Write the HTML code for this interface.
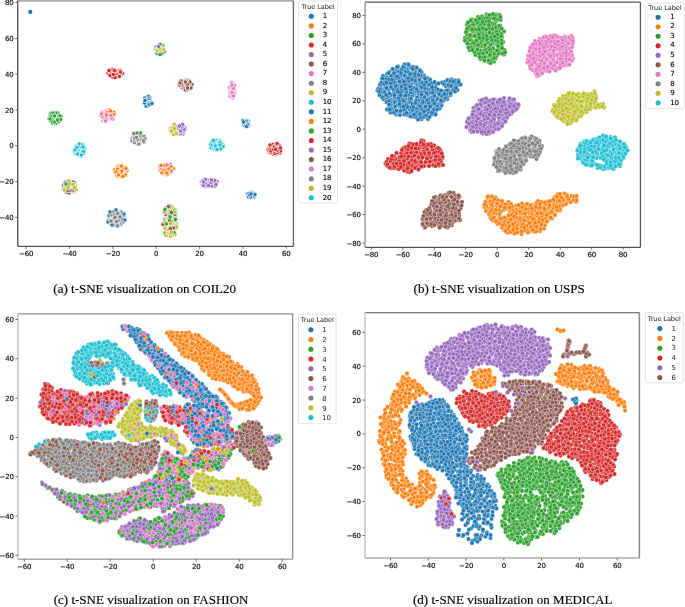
<!DOCTYPE html>
<html><head><meta charset="utf-8"><title>t-SNE</title><style>
html,body{margin:0;padding:0;background:#fff;}
svg{display:block;}
.ax{fill:none;stroke:#444;stroke-width:1.1;}
.tk{stroke:#444;stroke-width:.8;}
.xl,.yl,.le,.lt{font-family:"DejaVu Sans","Liberation Sans",sans-serif;font-size:7px;fill:#000;stroke:#000;stroke-width:.12px;letter-spacing:-.2px;}
.xl{text-anchor:middle;}
.yl{text-anchor:end;}
.lt{text-anchor:middle;font-size:6.6px;stroke:none;fill:#222;letter-spacing:-.1px;}
.lg{fill:#fff;stroke:#ddd;stroke-width:.8;}
.lite{stroke:none;fill:#222;}
.cap{font-family:"Liberation Serif","Times New Roman",serif;font-size:13px;fill:#000;stroke:#000;stroke-width:.15px;text-anchor:middle;}
</style></head>
<body><svg width="685" height="607" viewBox="0 0 685 607">
<defs><marker id="a1" markerUnits="userSpaceOnUse" markerWidth="12" markerHeight="12" refX="0" refY="0" viewBox="-6.0 -6.0 12 12" overflow="visible"><circle r="4.30" fill="#1f77b4" stroke="#fff" stroke-width="1.40"/></marker><marker id="a2" markerUnits="userSpaceOnUse" markerWidth="12" markerHeight="12" refX="0" refY="0" viewBox="-6.0 -6.0 12 12" overflow="visible"><circle r="4.30" fill="#ff7f0e" stroke="#fff" stroke-width="1.40"/></marker><marker id="a3" markerUnits="userSpaceOnUse" markerWidth="12" markerHeight="12" refX="0" refY="0" viewBox="-6.0 -6.0 12 12" overflow="visible"><circle r="4.30" fill="#2ca02c" stroke="#fff" stroke-width="1.40"/></marker><marker id="a4" markerUnits="userSpaceOnUse" markerWidth="12" markerHeight="12" refX="0" refY="0" viewBox="-6.0 -6.0 12 12" overflow="visible"><circle r="4.30" fill="#d62728" stroke="#fff" stroke-width="1.40"/></marker><marker id="a5" markerUnits="userSpaceOnUse" markerWidth="12" markerHeight="12" refX="0" refY="0" viewBox="-6.0 -6.0 12 12" overflow="visible"><circle r="4.30" fill="#9467bd" stroke="#fff" stroke-width="1.40"/></marker><marker id="a6" markerUnits="userSpaceOnUse" markerWidth="12" markerHeight="12" refX="0" refY="0" viewBox="-6.0 -6.0 12 12" overflow="visible"><circle r="4.30" fill="#8c564b" stroke="#fff" stroke-width="1.40"/></marker><marker id="a7" markerUnits="userSpaceOnUse" markerWidth="12" markerHeight="12" refX="0" refY="0" viewBox="-6.0 -6.0 12 12" overflow="visible"><circle r="4.30" fill="#e377c2" stroke="#fff" stroke-width="1.40"/></marker><marker id="a8" markerUnits="userSpaceOnUse" markerWidth="12" markerHeight="12" refX="0" refY="0" viewBox="-6.0 -6.0 12 12" overflow="visible"><circle r="4.30" fill="#7f7f7f" stroke="#fff" stroke-width="1.40"/></marker><marker id="a9" markerUnits="userSpaceOnUse" markerWidth="12" markerHeight="12" refX="0" refY="0" viewBox="-6.0 -6.0 12 12" overflow="visible"><circle r="4.30" fill="#bcbd22" stroke="#fff" stroke-width="1.40"/></marker><marker id="a10" markerUnits="userSpaceOnUse" markerWidth="12" markerHeight="12" refX="0" refY="0" viewBox="-6.0 -6.0 12 12" overflow="visible"><circle r="4.30" fill="#17becf" stroke="#fff" stroke-width="1.40"/></marker><marker id="b1" markerUnits="userSpaceOnUse" markerWidth="12" markerHeight="12" refX="0" refY="0" viewBox="-6.0 -6.0 12 12" overflow="visible"><circle r="4.40" fill="#1f77b4" stroke="#fff" stroke-width="0.76"/></marker><marker id="b2" markerUnits="userSpaceOnUse" markerWidth="12" markerHeight="12" refX="0" refY="0" viewBox="-6.0 -6.0 12 12" overflow="visible"><circle r="4.40" fill="#ff7f0e" stroke="#fff" stroke-width="0.76"/></marker><marker id="b3" markerUnits="userSpaceOnUse" markerWidth="12" markerHeight="12" refX="0" refY="0" viewBox="-6.0 -6.0 12 12" overflow="visible"><circle r="4.40" fill="#2ca02c" stroke="#fff" stroke-width="0.76"/></marker><marker id="b4" markerUnits="userSpaceOnUse" markerWidth="12" markerHeight="12" refX="0" refY="0" viewBox="-6.0 -6.0 12 12" overflow="visible"><circle r="4.40" fill="#d62728" stroke="#fff" stroke-width="0.76"/></marker><marker id="b5" markerUnits="userSpaceOnUse" markerWidth="12" markerHeight="12" refX="0" refY="0" viewBox="-6.0 -6.0 12 12" overflow="visible"><circle r="4.40" fill="#9467bd" stroke="#fff" stroke-width="0.76"/></marker><marker id="b6" markerUnits="userSpaceOnUse" markerWidth="12" markerHeight="12" refX="0" refY="0" viewBox="-6.0 -6.0 12 12" overflow="visible"><circle r="4.40" fill="#8c564b" stroke="#fff" stroke-width="0.76"/></marker><marker id="b7" markerUnits="userSpaceOnUse" markerWidth="12" markerHeight="12" refX="0" refY="0" viewBox="-6.0 -6.0 12 12" overflow="visible"><circle r="4.40" fill="#e377c2" stroke="#fff" stroke-width="0.76"/></marker><marker id="b8" markerUnits="userSpaceOnUse" markerWidth="12" markerHeight="12" refX="0" refY="0" viewBox="-6.0 -6.0 12 12" overflow="visible"><circle r="4.40" fill="#7f7f7f" stroke="#fff" stroke-width="0.76"/></marker><marker id="b9" markerUnits="userSpaceOnUse" markerWidth="12" markerHeight="12" refX="0" refY="0" viewBox="-6.0 -6.0 12 12" overflow="visible"><circle r="4.40" fill="#bcbd22" stroke="#fff" stroke-width="0.76"/></marker><marker id="b10" markerUnits="userSpaceOnUse" markerWidth="12" markerHeight="12" refX="0" refY="0" viewBox="-6.0 -6.0 12 12" overflow="visible"><circle r="4.40" fill="#17becf" stroke="#fff" stroke-width="0.76"/></marker><marker id="c1" markerUnits="userSpaceOnUse" markerWidth="12" markerHeight="12" refX="0" refY="0" viewBox="-6.0 -6.0 12 12" overflow="visible"><circle r="4.40" fill="#1f77b4" stroke="#fff" stroke-width="0.76"/></marker><marker id="c2" markerUnits="userSpaceOnUse" markerWidth="12" markerHeight="12" refX="0" refY="0" viewBox="-6.0 -6.0 12 12" overflow="visible"><circle r="4.40" fill="#ff7f0e" stroke="#fff" stroke-width="0.76"/></marker><marker id="c3" markerUnits="userSpaceOnUse" markerWidth="12" markerHeight="12" refX="0" refY="0" viewBox="-6.0 -6.0 12 12" overflow="visible"><circle r="4.40" fill="#2ca02c" stroke="#fff" stroke-width="0.76"/></marker><marker id="c4" markerUnits="userSpaceOnUse" markerWidth="12" markerHeight="12" refX="0" refY="0" viewBox="-6.0 -6.0 12 12" overflow="visible"><circle r="4.40" fill="#d62728" stroke="#fff" stroke-width="0.76"/></marker><marker id="c5" markerUnits="userSpaceOnUse" markerWidth="12" markerHeight="12" refX="0" refY="0" viewBox="-6.0 -6.0 12 12" overflow="visible"><circle r="4.40" fill="#9467bd" stroke="#fff" stroke-width="0.76"/></marker><marker id="c6" markerUnits="userSpaceOnUse" markerWidth="12" markerHeight="12" refX="0" refY="0" viewBox="-6.0 -6.0 12 12" overflow="visible"><circle r="4.40" fill="#8c564b" stroke="#fff" stroke-width="0.76"/></marker><marker id="c7" markerUnits="userSpaceOnUse" markerWidth="12" markerHeight="12" refX="0" refY="0" viewBox="-6.0 -6.0 12 12" overflow="visible"><circle r="4.40" fill="#e377c2" stroke="#fff" stroke-width="0.76"/></marker><marker id="c8" markerUnits="userSpaceOnUse" markerWidth="12" markerHeight="12" refX="0" refY="0" viewBox="-6.0 -6.0 12 12" overflow="visible"><circle r="4.40" fill="#7f7f7f" stroke="#fff" stroke-width="0.76"/></marker><marker id="c9" markerUnits="userSpaceOnUse" markerWidth="12" markerHeight="12" refX="0" refY="0" viewBox="-6.0 -6.0 12 12" overflow="visible"><circle r="4.40" fill="#bcbd22" stroke="#fff" stroke-width="0.76"/></marker><marker id="c10" markerUnits="userSpaceOnUse" markerWidth="12" markerHeight="12" refX="0" refY="0" viewBox="-6.0 -6.0 12 12" overflow="visible"><circle r="4.40" fill="#17becf" stroke="#fff" stroke-width="0.76"/></marker><marker id="d1" markerUnits="userSpaceOnUse" markerWidth="12" markerHeight="12" refX="0" refY="0" viewBox="-6.0 -6.0 12 12" overflow="visible"><circle r="4.40" fill="#1f77b4" stroke="#fff" stroke-width="0.76"/></marker><marker id="d2" markerUnits="userSpaceOnUse" markerWidth="12" markerHeight="12" refX="0" refY="0" viewBox="-6.0 -6.0 12 12" overflow="visible"><circle r="4.40" fill="#ff7f0e" stroke="#fff" stroke-width="0.76"/></marker><marker id="d3" markerUnits="userSpaceOnUse" markerWidth="12" markerHeight="12" refX="0" refY="0" viewBox="-6.0 -6.0 12 12" overflow="visible"><circle r="4.40" fill="#2ca02c" stroke="#fff" stroke-width="0.76"/></marker><marker id="d4" markerUnits="userSpaceOnUse" markerWidth="12" markerHeight="12" refX="0" refY="0" viewBox="-6.0 -6.0 12 12" overflow="visible"><circle r="4.40" fill="#d62728" stroke="#fff" stroke-width="0.76"/></marker><marker id="d5" markerUnits="userSpaceOnUse" markerWidth="12" markerHeight="12" refX="0" refY="0" viewBox="-6.0 -6.0 12 12" overflow="visible"><circle r="4.40" fill="#9467bd" stroke="#fff" stroke-width="0.76"/></marker><marker id="d6" markerUnits="userSpaceOnUse" markerWidth="12" markerHeight="12" refX="0" refY="0" viewBox="-6.0 -6.0 12 12" overflow="visible"><circle r="4.40" fill="#8c564b" stroke="#fff" stroke-width="0.76"/></marker></defs><style>polyline{fill:none;stroke:none}.a1{marker:url(#a1)}.a2{marker:url(#a2)}.a3{marker:url(#a3)}.a4{marker:url(#a4)}.a5{marker:url(#a5)}.a6{marker:url(#a6)}.a7{marker:url(#a7)}.a8{marker:url(#a8)}.a9{marker:url(#a9)}.a10{marker:url(#a10)}.b1{marker:url(#b1)}.b2{marker:url(#b2)}.b3{marker:url(#b3)}.b4{marker:url(#b4)}.b5{marker:url(#b5)}.b6{marker:url(#b6)}.b7{marker:url(#b7)}.b8{marker:url(#b8)}.b9{marker:url(#b9)}.b10{marker:url(#b10)}.c1{marker:url(#c1)}.c2{marker:url(#c2)}.c3{marker:url(#c3)}.c4{marker:url(#c4)}.c5{marker:url(#c5)}.c6{marker:url(#c6)}.c7{marker:url(#c7)}.c8{marker:url(#c8)}.c9{marker:url(#c9)}.c10{marker:url(#c10)}.d1{marker:url(#d1)}.d2{marker:url(#d2)}.d3{marker:url(#d3)}.d4{marker:url(#d4)}.d5{marker:url(#d5)}.d6{marker:url(#d6)}</style><g transform="scale(.5)"><polyline class="a7" points="340,336 217,238 463,174 211,222 212,230 339,331 323,330"/>
<polyline class="a6" points="332,454 332,454"/>
<polyline class="a5" points="145,382 129,374 220,229"/>
<polyline class="a10" points="152,298 445,295 446,289"/>
<polyline class="a8" points="240,429 226,451 217,438 266,274 244,435 278,279 237,444 281,275 220,443"/>
<polyline class="a2" points="213,236 245,350 343,336"/>
<polyline class="a9" points="332,461 345,265 343,264"/>
<polyline class="a3" points="112,237 341,419 333,457 345,469 336,431 318,104"/>
<polyline class="a4" points="559,292 539,305"/>
<polyline class="a1" points="294,211 495,388 300,195"/>
<polyline class="a8" points="276,272 277,284 245,427"/>
<polyline class="a6" points="329,425 332,437 346,427"/>
<polyline class="a5" points="426,371 429,368 131,384"/>
<polyline class="a3" points="351,421 334,425 118,230 335,435 312,94 316,93"/>
<polyline class="a10" points="165,299 445,288 428,284 162,312 437,294"/>
<polyline class="a1" points="486,241 302,206"/>
<polyline class="a2" points="234,337 247,345"/>
<polyline class="a9" points="135,373 150,378 358,257 328,443 347,439 351,450"/>
<polyline class="a7" points="336,345 320,341 204,224 334,342 208,225 329,330"/>
<polyline class="a4" points="552,309 538,295 545,297 555,293"/>
<polyline class="a3" points="100,232 105,233 336,429 100,235"/>
<polyline class="a2" points="251,344 331,332 251,346 225,228"/>
<polyline class="a4" points="560,306 541,294 536,299 538,301 546,308"/>
<polyline class="a10" points="428,293 444,292 151,307 431,285 166,297 436,286"/>
<polyline class="a9" points="356,255 338,453 145,377 136,371 341,257"/>
<polyline class="a1" points="497,243 295,212 294,194"/>
<polyline class="a5" points="322,91 404,368 359,258 420,371 359,262"/>
<polyline class="a7" points="337,336 465,196 202,231"/>
<polyline class="a6" points="330,439 367,178 150,372"/>
<polyline class="a8" points="241,450 273,287"/>
<polyline class="a9" points="331,465 351,251 339,445 140,385 347,438 349,461"/>
<polyline class="a5" points="427,364 359,255 424,368 413,361 420,369 371,258 430,372 405,361 348,449 413,367 405,367 356,264"/>
<polyline class="a6" points="370,175 128,377 382,172"/>
<polyline class="a3" points="345,446 319,109 324,104 108,236"/>
<polyline class="a8" points="232,428 246,440 281,272 226,428"/>
<polyline class="a10" points="157,303 434,282 151,293 436,290"/>
<polyline class="a1" points="504,385 503,391"/>
<polyline class="a7" points="333,332 333,332"/>
<polyline class="a4" points="558,296 240,141"/>
<polyline class="a2" points="223,223 236,333"/>
<polyline class="a7" points="332,341 459,176 206,231 460,182"/>
<polyline class="a4" points="548,291 225,139 546,302 245,147 222,147 235,153"/>
<polyline class="a2" points="242,353 213,224"/>
<polyline class="a3" points="344,413 325,103 315,106 111,247 118,237"/>
<polyline class="a8" points="221,432 237,448 228,445 220,447 272,278 218,435 239,439 220,428"/>
<polyline class="a9" points="352,456 335,452 335,468 342,426 345,258"/>
<polyline class="a6" points="384,169 367,163 336,416 337,450"/>
<polyline class="a5" points="363,259 366,268 330,454 420,360"/>
<polyline class="a10" points="432,297 154,305"/>
<polyline class="a7" points="340,341 205,241 217,231 221,236 469,184"/>
<polyline class="a1" points="496,246 496,246"/>
<polyline class="a8" points="264,278 236,440 278,274 236,438 222,435 240,443 233,447 229,424 242,448"/>
<polyline class="a9" points="339,468 327,105 332,423 342,461 141,373"/>
<polyline class="a3" points="116,226 332,470 111,242 344,444 105,230"/>
<polyline class="a5" points="369,261 408,360 434,363 326,449"/>
<polyline class="a2" points="347,337 325,338 254,341 219,233"/>
<polyline class="a6" points="379,169 379,174"/>
<polyline class="a4" points="558,290 235,145 221,151 240,147"/>
<polyline class="a10" points="154,292 154,292"/>
<polyline class="a3" points="105,242 113,243 317,95 333,440 111,230 102,227"/>
<polyline class="a8" points="270,272 232,432 281,284 248,439 226,448 245,430 222,426 230,448 224,438 242,426 246,444 217,433"/>
<polyline class="a4" points="230,150 237,152 544,299 235,150 234,147 542,293"/>
<polyline class="a6" points="343,421 370,172 344,441 335,431"/>
<polyline class="a2" points="245,335 331,340 215,235 241,339"/>
<polyline class="a5" points="367,264 416,369"/>
<polyline class="a10" points="433,281 158,299 443,285 156,292"/>
<polyline class="a7" points="320,334 320,334"/>
<polyline class="a1" points="508,394 508,394"/>
<polyline class="a5" points="417,362 414,365 412,365 430,365 143,365"/>
<polyline class="a6" points="135,367 371,170 375,179 373,166 340,453 133,384 331,429 133,365"/>
<polyline class="a2" points="246,342 246,342"/>
<polyline class="a9" points="353,259 353,260 350,469 142,377 331,450"/>
<polyline class="a3" points="122,233 350,432 149,366 344,461 102,233 106,242"/>
<polyline class="a7" points="329,348 323,336 330,334"/>
<polyline class="a1" points="487,250 300,196 297,200"/>
<polyline class="a10" points="162,291 440,292"/>
<polyline class="a4" points="552,293 542,305 542,296 551,308 540,298"/>
<polyline class="a8" points="286,276 218,431"/>
<polyline class="a10" points="151,303 425,286 170,298 432,291"/>
<polyline class="a7" points="460,187 322,339 216,237 325,347 459,175 210,231"/>
<polyline class="a8" points="275,283 269,271 233,436 281,271 270,285 264,282 286,277"/>
<polyline class="a4" points="216,147 216,146 237,142 548,302"/>
<polyline class="a6" points="364,175 147,383 361,171"/>
<polyline class="a3" points="321,91 344,431 112,227 127,378"/>
<polyline class="a9" points="335,443 148,374 344,471 335,447"/>
<polyline class="a1" points="297,203 489,251 297,193 292,212"/>
<polyline class="a5" points="369,255 423,372 367,260"/>
<polyline class="a2" points="331,336 331,336"/>
<polyline class="a7" points="325,342 341,329 217,234 469,179 467,181"/>
<polyline class="a4" points="548,296 231,143 549,306"/>
<polyline class="a3" points="312,99 336,462 334,422 100,239 339,426 134,363"/>
<polyline class="a9" points="140,372 336,436 342,429 138,376 349,444 341,261 147,370"/>
<polyline class="a2" points="251,339 239,340"/>
<polyline class="a5" points="432,369 132,378 345,435 329,103 342,459 403,363 130,365"/>
<polyline class="a10" points="155,302 164,300 446,293"/>
<polyline class="a1" points="491,245 300,199"/>
<polyline class="a8" points="227,435 288,273 276,282"/>
<polyline class="a6" points="138,386 347,422"/>
<polyline class="a2" points="324,345 235,339"/>
<polyline class="a3" points="343,442 116,235 150,381 326,92 116,233 348,452 346,417 105,246 348,420"/>
<polyline class="a7" points="207,235 466,175 218,225 469,187 463,177 333,349"/>
<polyline class="a5" points="429,361 411,359 420,365 347,450 366,251"/>
<polyline class="a4" points="225,147 557,300 219,141 545,289"/>
<polyline class="a10" points="425,293 158,295 422,295 167,292 149,302"/>
<polyline class="a8" points="269,285 223,446 243,441 226,445 242,424"/>
<polyline class="a9" points="352,252 347,250"/>
<polyline class="a1" points="497,392 299,198"/>
<polyline class="a1" points="296,198 497,394 497,251 496,248 491,249 498,387"/>
<polyline class="a10" points="159,299 427,298 161,294 158,301 159,288 439,297"/>
<polyline class="a2" points="235,353 239,346 229,340 218,220"/>
<polyline class="a6" points="380,175 367,166 367,174"/>
<polyline class="a8" points="237,425 288,284 228,450 277,283"/>
<polyline class="a7" points="332,329 464,165 462,194 205,225"/>
<polyline class="a4" points="228,145 231,154 552,296 222,143 542,302"/>
<polyline class="a5" points="364,265 146,381"/>
<polyline class="a3" points="113,246 112,226"/>
<polyline class="a9" points="346,260 347,269 152,379 344,415"/>
<polyline class="a5" points="413,372 146,364 130,380 142,369"/>
<polyline class="a2" points="238,333 328,331 241,337 239,343 245,348 335,349"/>
<polyline class="a3" points="325,96 324,107 104,238 106,226"/>
<polyline class="a4" points="227,150 235,147 547,299 540,290 239,144 549,293"/>
<polyline class="a9" points="337,465 339,435 342,437"/>
<polyline class="a7" points="207,236 208,239 216,223"/>
<polyline class="a10" points="168,302 439,281"/>
<polyline class="a1" points="290,204 290,196 495,249 509,392 293,203"/>
<polyline class="a6" points="366,170 339,457 141,367"/>
<polyline class="a8" points="237,441 278,288 234,422 279,280"/>
<polyline class="a7" points="460,193 213,235 210,228 341,339 224,239"/>
<polyline class="a9" points="353,448 131,375 337,471 146,369 351,425 129,380"/>
<polyline class="a5" points="362,251 363,249 314,107 368,259 127,370 411,368 324,98 131,370"/>
<polyline class="a1" points="302,205 506,393 504,387 510,389"/>
<polyline class="a10" points="421,289 149,299 430,299 424,284 159,304"/>
<polyline class="a2" points="251,335 235,338"/>
<polyline class="a3" points="109,232 320,89 109,232 117,240"/>
<polyline class="a4" points="553,289 553,289"/>
<polyline class="a6" points="138,366 140,381"/>
<polyline class="a8" points="268,278 224,430 229,440"/>
<polyline class="a10" points="431,298 158,310 424,290 158,308"/>
<polyline class="a6" points="378,162 338,437 364,171"/>
<polyline class="a7" points="205,234 208,228 227,231 226,238 468,191"/>
<polyline class="a8" points="282,279 229,440 286,280 226,424"/>
<polyline class="a3" points="327,447 320,103 118,243 320,109"/>
<polyline class="a1" points="297,206 301,209 293,206"/>
<polyline class="a4" points="557,303 220,146 241,144 231,142"/>
<polyline class="a2" points="228,225 243,338 342,333 238,344 328,341 239,351 236,346"/>
<polyline class="a5" points="405,363 333,459 345,454"/>
<polyline class="a9" points="321,98 333,418 328,425"/>
<polyline class="a5" points="359,268 362,254 350,438 364,254"/>
<polyline class="a3" points="341,429 351,439 115,238 333,416"/>
<polyline class="a7" points="466,168 469,171"/>
<polyline class="a8" points="269,280 290,278 237,430 229,431"/>
<polyline class="a2" points="242,333 230,344 243,346 331,345 342,344 221,226 248,350 228,229 334,340 232,344"/>
<polyline class="a1" points="292,200 292,200"/>
<polyline class="a9" points="338,440 338,465 349,256 138,362 345,256 329,466"/>
<polyline class="a6" points="373,171 376,166"/>
<polyline class="a4" points="225,154 554,301 239,153 550,307"/>
<polyline class="a10" points="437,284 154,295 163,305"/>
<polyline class="a7" points="203,228 223,236 463,192 334,330 465,181 462,186 462,172 216,227 215,227"/>
<polyline class="a9" points="340,459 337,459 349,249 322,96 337,417 352,451 350,254"/>
<polyline class="a6" points="373,160 340,431 371,180"/>
<polyline class="a4" points="561,302 561,296 220,151 225,140"/>
<polyline class="a2" points="234,351 251,350 248,337 246,353 244,342 214,231"/>
<polyline class="a10" points="441,298 440,284 161,308 443,287 428,285"/>
<polyline class="a5" points="407,371 361,267"/>
<polyline class="a8" points="220,439 218,440 233,443 234,433"/>
<polyline class="a1" points="493,242 289,206 290,201 493,253 299,209"/>
<polyline class="a3" points="98,238 350,456 316,102 132,368 341,422 109,244"/>
<polyline class="a9" points="353,454 341,472 356,260 350,263 149,375"/>
<polyline class="a7" points="463,183 463,166"/>
<polyline class="a2" points="334,346 237,350"/>
<polyline class="a10" points="167,307 427,281 163,310 155,308 165,302 440,285"/>
<polyline class="a6" points="347,459 374,161 362,162 137,374 329,422"/>
<polyline class="a5" points="422,365 356,258 212,231 356,254"/>
<polyline class="a8" points="247,433 275,279 217,441"/>
<polyline class="a4" points="230,155 227,149"/>
<polyline class="a8" points="244,437 234,423 218,444 287,282 269,276 237,451"/>
<polyline class="a3" points="120,232 348,465 102,242 330,419 121,239 350,429"/>
<polyline class="a6" points="380,164 375,178"/>
<polyline class="a7" points="214,225 209,240 467,177 222,231 212,237 464,170 464,185"/>
<polyline class="a9" points="314,99 341,467 354,265 343,464"/>
<polyline class="a5" points="360,263 361,262 417,371"/>
<polyline class="a10" points="165,290 150,300 430,290 168,296 431,292"/>
<polyline class="a4" points="229,141 555,305 554,287"/>
<polyline class="a2" points="252,337 243,332 338,338 322,331"/>
<polyline class="a6" points="326,449 363,168 359,170 359,166 373,163 375,169 360,166 136,381 371,164 339,441 347,456 382,176 341,413"/>
<polyline class="a10" points="167,303 166,294 440,290"/>
<polyline class="a9" points="315,101 330,456 340,415 342,449 136,376 353,267 343,262 330,444"/>
<polyline class="a5" points="423,360 365,249"/>
<polyline class="a3" points="340,434 333,448 100,238"/>
<polyline class="a8" points="273,275 248,431 228,437 240,431 235,452"/>
<polyline class="a1" points="304,207 501,394 490,243 499,390"/>
<polyline class="a7" points="211,242 211,242"/>
<polyline class="a4" points="218,141 218,141"/>
<polyline class="a4" points="554,301 551,299"/>
<polyline class="a1" points="502,388 487,244 232,420 220,424 216,444 224,450 248,428 250,440"/>
<polyline class="a3" points="115,240 281,266"/>
<polyline class="a7" points="467,192 343,342"/>
<polyline class="a9" points="350,424 327,99 341,447 349,257 321,100 319,97"/>
<polyline class="a5" points="359,252 407,364 317,93"/>
<polyline class="a6" points="343,425 375,176 341,457 337,413 268,267"/>
<polyline class="a2" points="213,230 221,222"/>
<polyline class="a8" points="230,435 235,427 222,442 240,434 274,266"/>
<polyline class="a10" points="434,299 434,299"/>
<polyline class="b2" points="1123,412 1018,449 1051,432 995,425 1028,428 1063,410"/>
<polyline class="b1" points="843,238 879,194 816,138 777,217 871,198 808,139 884,165"/>
<polyline class="b4" points="851,309 813,318 821,292 865,297"/>
<polyline class="b8" points="1050,275 1032,283 1031,291 1069,283"/>
<polyline class="b10" points="1165,323 1221,318 1206,338 1210,337 1227,329"/>
<polyline class="b5" points="933,254 965,267 1001,254 980,247 1026,202 952,238"/>
<polyline class="b6" points="899,432 919,393 888,422"/>
<polyline class="b7" points="1143,72 1107,118 1088,124"/>
<polyline class="b3" points="987,82 988,123"/>
<polyline class="b1" points="821,224 839,195 869,175 806,168 857,196"/>
<polyline class="b6" points="893,447 879,427"/>
<polyline class="b8" points="1027,346 1022,292 995,333"/>
<polyline class="b4" points="795,337 885,316 849,311 876,308 837,334 783,326 839,297 811,326"/>
<polyline class="b5" points="993,214 996,212 942,241 986,246 959,252 1011,237"/>
<polyline class="b2" points="1036,454 1036,448 1065,455 1042,433 974,408 1115,407"/>
<polyline class="b10" points="1217,336 1250,301"/>
<polyline class="b3" points="997,57 985,36 970,64 960,35"/>
<polyline class="b7" points="1138,97 1098,97"/>
<polyline class="b9" points="1138,212 1154,226"/>
<polyline class="b3" points="979,102 940,90 1004,100"/>
<polyline class="b4" points="825,312 878,331 856,330 847,295"/>
<polyline class="b2" points="1112,419 1109,394 1027,463 1032,412"/>
<polyline class="b7" points="1080,116 1067,101 1117,75 1110,133 1118,120"/>
<polyline class="b1" points="815,195 871,223 816,165 832,176 866,216 811,183 781,225 767,188 790,197 890,164 879,217 817,135"/>
<polyline class="b6" points="907,386 890,390 901,436 852,421 875,425"/>
<polyline class="b8" points="1054,305 1028,319"/>
<polyline class="b9" points="1128,227 1128,203 1178,209 1162,227"/>
<polyline class="b5" points="1036,213 1036,213"/>
<polyline class="b2" points="1060,438 989,435 1015,465 1088,435 972,417"/>
<polyline class="b5" points="1012,208 965,254 1000,249 976,223"/>
<polyline class="b1" points="838,139 858,163 898,180 888,169 797,192 779,168 783,155 797,224 856,172 806,194"/>
<polyline class="b7" points="1088,82 1090,73 1059,102"/>
<polyline class="b6" points="890,398 876,416 916,407 888,414 851,451 862,443"/>
<polyline class="b4" points="797,332 821,328 842,291"/>
<polyline class="b3" points="975,87 971,81"/>
<polyline class="b9" points="1163,220 1135,234 1185,193"/>
<polyline class="b10" points="1218,334 1167,311 1188,327 1214,282"/>
<polyline class="b9" points="1115,209 1137,243 1127,242"/>
<polyline class="b5" points="1001,238 991,245 1011,232 1026,218"/>
<polyline class="b4" points="868,326 850,327 855,291 832,333"/>
<polyline class="b3" points="976,34 993,33 988,104 998,88 932,82 935,84 944,39"/>
<polyline class="b2" points="1061,421 1120,421 1107,407 994,412"/>
<polyline class="b8" points="1068,295 1084,292 1023,333"/>
<polyline class="b1" points="855,179 829,206 860,159 795,151 889,183 776,148 896,174 809,225 764,184"/>
<polyline class="b6" points="887,411 887,411"/>
<polyline class="b10" points="1193,278 1179,311 1253,296"/>
<polyline class="b7" points="1117,86 1095,120"/>
<polyline class="b10" points="1209,333 1168,283 1162,313"/>
<polyline class="b2" points="1055,442 1025,458 979,416 1030,442 983,430 1068,463 1103,426 1014,438 1019,440 1041,427 1008,460"/>
<polyline class="b3" points="964,83 1001,105 961,118"/>
<polyline class="b6" points="906,398 911,441 878,399 895,455 911,391"/>
<polyline class="b4" points="881,326 804,321 791,324 824,331 845,304"/>
<polyline class="b5" points="989,215 946,236 993,255 959,237"/>
<polyline class="b1" points="836,236 885,194"/>
<polyline class="b8" points="999,330 1060,276 1027,308"/>
<polyline class="b9" points="1151,192 1165,227 1173,210"/>
<polyline class="b7" points="1070,93 1070,93"/>
<polyline class="b2" points="1080,434 969,414 1003,444 1150,402 1004,407 1108,402"/>
<polyline class="b8" points="999,309 1016,327 1037,324 1034,322 1027,339"/>
<polyline class="b9" points="1208,215 1124,232"/>
<polyline class="b10" points="1180,322 1216,297 1191,290 1188,306 1227,338"/>
<polyline class="b4" points="853,289 864,312 838,291 847,282 874,316 833,291 783,336"/>
<polyline class="b5" points="963,243 1025,208 988,244 1002,221"/>
<polyline class="b1" points="895,198 778,194 848,210 807,180 785,153"/>
<polyline class="b7" points="1121,87 1094,142 1097,89 1087,75"/>
<polyline class="b3" points="984,55 984,55"/>
<polyline class="b6" points="915,409 915,409"/>
<polyline class="b10" points="1220,293 1222,281"/>
<polyline class="b4" points="837,303 823,338 774,331"/>
<polyline class="b5" points="985,257 945,243 992,232"/>
<polyline class="b8" points="1041,280 1041,314 1020,339 1007,339"/>
<polyline class="b6" points="883,413 906,435 913,394 869,439"/>
<polyline class="b2" points="1056,460 1064,461 981,397 1019,429 991,395 1047,462"/>
<polyline class="b1" points="811,198 816,178 811,149 827,154 788,151 788,208 898,184 822,201 797,139 835,215 840,153"/>
<polyline class="b7" points="1122,104 1117,110 1134,130"/>
<polyline class="b3" points="1001,40 988,66 998,64"/>
<polyline class="b9" points="1155,222 1155,222"/>
<polyline class="b6" points="877,449 848,442 849,424 914,434 898,406 905,424 873,416 852,432"/>
<polyline class="b1" points="838,145 773,200 829,179 856,210 872,169 811,153 789,160 814,129"/>
<polyline class="b2" points="1060,428 1032,418"/>
<polyline class="b7" points="1072,108 1079,78 1089,95"/>
<polyline class="b3" points="986,95 962,82 948,55 964,103 953,105 991,42 954,48 995,52 934,49"/>
<polyline class="b9" points="1118,217 1187,213"/>
<polyline class="b10" points="1246,302 1166,298 1211,311"/>
<polyline class="b5" points="1004,233 940,260 976,255"/>
<polyline class="b8" points="1039,329 1039,329"/>
<polyline class="b4" points="824,303 824,303"/>
<polyline class="b6" points="854,427 883,403 911,422"/>
<polyline class="b1" points="864,208 830,140 774,148 894,194 827,165 822,134 861,230 844,216 839,180 801,156 828,189 832,168"/>
<polyline class="b8" points="1079,289 1061,313 1061,299"/>
<polyline class="b2" points="1088,453 1105,416 980,394 1114,420 975,396 1071,408 1115,421 1029,443"/>
<polyline class="b9" points="1135,238 1135,238"/>
<polyline class="b10" points="1156,309 1228,314 1246,307 1240,286"/>
<polyline class="b7" points="1079,105 1073,112 1086,119 1109,77"/>
<polyline class="b5" points="980,218 1032,208"/>
<polyline class="b4" points="771,327 863,302 792,318"/>
<polyline class="b8" points="1076,300 1025,342 1047,328 1037,333"/>
<polyline class="b1" points="769,164 817,191 813,159 858,213 833,135 852,212 891,196 806,211 790,182"/>
<polyline class="b5" points="934,244 985,201 978,267"/>
<polyline class="b9" points="1181,218 1148,217"/>
<polyline class="b4" points="807,307 843,281"/>
<polyline class="b3" points="953,82 961,44 1008,103 943,80 930,76"/>
<polyline class="b2" points="1050,440 1002,423 1009,458 996,440 1147,400 1064,429"/>
<polyline class="b6" points="857,450 872,445"/>
<polyline class="b7" points="1095,93 1094,138 1101,85 1122,122 1120,101"/>
<polyline class="b10" points="1251,307 1209,307"/>
<polyline class="b7" points="1092,87 1093,101 1111,82 1132,128"/>
<polyline class="b2" points="1084,422 1113,401 998,441 1088,457 1040,435"/>
<polyline class="b3" points="992,43 951,68 944,88 978,75"/>
<polyline class="b10" points="1189,288 1185,297 1177,327"/>
<polyline class="b9" points="1147,224 1182,188 1139,239 1170,189"/>
<polyline class="b5" points="982,264 980,201 979,208 960,201"/>
<polyline class="b6" points="866,434 917,395 889,452 861,422"/>
<polyline class="b1" points="869,217 786,176 793,143 825,230 851,204 767,198"/>
<polyline class="b8" points="1070,276 1019,289"/>
<polyline class="b4" points="810,294 786,333 836,324 815,343"/>
<polyline class="b2" points="1132,394 1023,434 1120,418 1115,389 1090,450 1062,446 1105,425 1043,457 973,412 1042,450"/>
<polyline class="b4" points="866,330 866,330"/>
<polyline class="b10" points="1174,290 1209,276"/>
<polyline class="b7" points="1099,104 1081,113 1074,152 1112,72 1090,108 1106,83"/>
<polyline class="b3" points="973,86 994,89 981,63 980,68"/>
<polyline class="b8" points="990,323 1052,315 1028,287 1008,342"/>
<polyline class="b5" points="972,258 985,229 1018,202"/>
<polyline class="b1" points="837,159 837,188 866,190 788,184 835,170 856,235 791,198"/>
<polyline class="b9" points="1170,215 1170,215"/>
<polyline class="b6" points="871,394 845,438"/>
<polyline class="b9" points="1140,226 1149,235 1157,217"/>
<polyline class="b1" points="857,188 857,225 845,154 815,230 898,164 848,151 814,140 917,170 811,143 862,196 813,184"/>
<polyline class="b7" points="1145,76 1087,142 1120,133"/>
<polyline class="b2" points="1112,409 998,410 1104,437 1124,408 1119,395"/>
<polyline class="b8" points="1010,313 997,316 1070,312"/>
<polyline class="b6" points="850,455 884,404 870,402 915,407"/>
<polyline class="b3" points="992,72 979,81 992,29 944,82"/>
<polyline class="b5" points="968,224 969,220 969,206 1024,202"/>
<polyline class="b4" points="819,287 810,336 816,323"/>
<polyline class="b5" points="1014,235 978,260 996,201 981,215"/>
<polyline class="b1" points="890,182 774,187 789,212"/>
<polyline class="b8" points="1034,288 1061,308 1046,308 1051,276 1039,304"/>
<polyline class="b7" points="1100,100 1070,102 1101,82 1056,111 1066,140"/>
<polyline class="b4" points="809,300 800,318 808,341 822,307"/>
<polyline class="b3" points="973,29 964,81 985,87 1000,51 981,93"/>
<polyline class="b10" points="1171,320 1161,288 1237,322 1223,318 1203,301 1197,291"/>
<polyline class="b9" points="1146,231 1107,219"/>
<polyline class="b2" points="987,425 1063,445 1057,413 1064,422 1056,409"/>
<polyline class="b6" points="881,435 881,435"/>
<polyline class="b2" points="1082,415 1066,445 1077,440 1033,420 1036,443 1079,417 980,403"/>
<polyline class="b10" points="1197,313 1240,317 1223,279 1174,322 1231,300"/>
<polyline class="b3" points="999,84 969,99 999,98 991,117"/>
<polyline class="b6" points="849,446 871,437"/>
<polyline class="b7" points="1067,95 1055,125 1084,144 1131,122 1071,138"/>
<polyline class="b9" points="1176,189 1176,189"/>
<polyline class="b8" points="1056,283 1063,273 1011,346 1022,313"/>
<polyline class="b4" points="825,292 819,324"/>
<polyline class="b1" points="811,218 860,204 800,214 774,155 857,219 761,175 801,179 872,184"/>
<polyline class="b5" points="983,253 986,225"/>
<polyline class="b1" points="871,203 799,160 903,159 814,176 839,171 832,183 773,195 760,169 825,184 790,171 814,178 840,164 764,157 792,158"/>
<polyline class="b9" points="1149,204 1145,191"/>
<polyline class="b7" points="1099,128 1135,82 1056,119 1137,75 1102,98"/>
<polyline class="b2" points="1100,437 1046,438 1094,432 999,432 1017,431"/>
<polyline class="b3" points="981,89 978,114 939,100"/>
<polyline class="b5" points="943,264 957,245"/>
<polyline class="b8" points="1008,335 1071,282"/>
<polyline class="b6" points="892,399 911,416 900,415 903,422"/>
<polyline class="b10" points="1201,315 1201,315"/>
<polyline class="b4" points="834,306 882,323"/>
<polyline class="b8" points="996,316 1057,294 1052,297 1044,301"/>
<polyline class="b3" points="969,56 977,108"/>
<polyline class="b1" points="809,129 803,198 911,179 804,204 796,175 768,179 793,229 843,195 829,223"/>
<polyline class="b7" points="1117,108 1099,115"/>
<polyline class="b4" points="856,326 817,308 813,302 871,298 786,325"/>
<polyline class="b2" points="1075,408 1016,414 1129,387 1033,440 1094,423 1120,398 1053,460 1041,420"/>
<polyline class="b10" points="1194,313 1206,271"/>
<polyline class="b5" points="998,234 965,258 949,248 953,242 979,232"/>
<polyline class="b9" points="1118,236 1146,187"/>
<polyline class="b6" points="897,452 897,452"/>
<polyline class="b2" points="1041,423 995,448 1004,455 994,422 1072,428 986,441 1089,450"/>
<polyline class="b3" points="974,33 950,48 974,105 972,98 962,106 996,39"/>
<polyline class="b4" points="836,297 805,336 857,302 816,314 875,324 840,329"/>
<polyline class="b1" points="755,181 892,173 834,225 825,188 838,207 858,198 798,143"/>
<polyline class="b10" points="1175,288 1228,332 1174,308 1169,319"/>
<polyline class="b5" points="974,245 969,244 1023,227"/>
<polyline class="b8" points="1080,304 1058,283 1029,311"/>
<polyline class="b7" points="1074,134 1144,94"/>
<polyline class="b6" points="903,424 903,424"/>
<polyline class="b9" points="1157,200 1157,200"/>
<polyline class="b10" points="1168,285 1184,325 1212,295"/>
<polyline class="b3" points="949,44 956,34 993,112 976,50 978,38"/>
<polyline class="b5" points="975,207 975,203 1024,199 981,224"/>
<polyline class="b9" points="1181,202 1133,205 1163,207"/>
<polyline class="b6" points="866,446 896,420"/>
<polyline class="b4" points="823,288 806,297 829,305 865,300 866,307 872,324 788,336"/>
<polyline class="b8" points="1011,297 1049,321 1046,320"/>
<polyline class="b2" points="981,435 1055,423 1130,403 1048,412 1109,397"/>
<polyline class="b7" points="1113,90 1067,105 1127,118 1133,121 1105,108"/>
<polyline class="b1" points="816,212 809,135 856,238"/>
<polyline class="b2" points="993,427 1079,437 1069,448 995,400 1037,463"/>
<polyline class="b1" points="803,139 894,170 834,195 798,192 865,169 802,169 855,169 878,185 904,170 857,206 917,161"/>
<polyline class="b4" points="851,293 855,298 814,306 854,299 862,288"/>
<polyline class="b6" points="848,435 857,430 860,440 904,450 877,431"/>
<polyline class="b7" points="1099,143 1109,138 1128,131 1081,133 1107,107 1083,82"/>
<polyline class="b8" points="1040,319 1068,313 1044,324"/>
<polyline class="b5" points="943,234 947,216"/>
<polyline class="b10" points="1175,330 1157,297"/>
<polyline class="b9" points="1137,191 1137,191"/>
<polyline class="b6" points="897,391 897,402 898,416 921,417"/>
<polyline class="b7" points="1125,130 1061,95 1146,117 1133,117 1114,110"/>
<polyline class="b1" points="777,179 789,180 810,193 865,196 846,177 822,169 843,200 791,228 886,183 863,229 910,175"/>
<polyline class="b3" points="961,50 977,124 995,77 989,48"/>
<polyline class="b2" points="1077,418 1067,415 986,407 1090,422"/>
<polyline class="b10" points="1221,274 1203,306 1236,289"/>
<polyline class="b8" points="1044,277 1067,299 1000,333 1041,339"/>
<polyline class="b4" points="776,318 884,307"/>
<polyline class="b9" points="1151,241 1163,192"/>
<polyline class="b5" points="988,254 988,254"/>
<polyline class="b3" points="964,65 960,61 934,70 965,110 990,107 957,55 991,57 998,52 951,110"/>
<polyline class="b5" points="1034,216 971,239 1029,221 1007,244 943,246 961,216 1019,229"/>
<polyline class="b4" points="799,321 817,332"/>
<polyline class="b1" points="915,180 861,180 894,181 864,166 821,185 843,144"/>
<polyline class="b8" points="1073,318 1044,283 1037,283 988,329"/>
<polyline class="b10" points="1167,326 1251,292 1215,321"/>
<polyline class="b7" points="1144,110 1090,126"/>
<polyline class="b6" points="891,419 891,419"/>
<polyline class="b2" points="1042,442 1033,451 1012,418 1127,410 1115,396 1071,459"/>
<polyline class="b3" points="992,69 966,58 978,96 940,53 934,62"/>
<polyline class="b1" points="883,211 869,192 825,146 819,218 819,146"/>
<polyline class="b5" points="1037,209 986,264 989,199"/>
<polyline class="b10" points="1212,288 1168,293 1166,307 1226,289 1234,291"/>
<polyline class="b9" points="1126,192 1119,198"/>
<polyline class="b2" points="992,404 1009,444 1017,404 1034,424 1114,393 972,422 1110,430 976,393"/>
<polyline class="b7" points="1089,131 1111,99 1075,88"/>
<polyline class="b8" points="1049,292 998,298 993,303"/>
<polyline class="b6" points="859,416 900,408 877,437"/>
<polyline class="b4" points="844,328 879,319 812,331"/>
<polyline class="b4" points="824,315 812,295 828,326 868,291"/>
<polyline class="b9" points="1129,238 1192,192 1166,225 1149,227"/>
<polyline class="b8" points="1020,345 1041,333 1057,309"/>
<polyline class="b2" points="1004,438 1010,452 1030,438 1088,406 1049,460 1061,453 1069,420"/>
<polyline class="b5" points="1019,197 993,223 1018,217"/>
<polyline class="b10" points="1205,296 1238,314 1247,316 1230,327 1243,293"/>
<polyline class="b1" points="879,207 792,224 774,219 768,193 895,160 791,165 817,170"/>
<polyline class="b3" points="960,100 966,107"/>
<polyline class="b7" points="1107,113 1088,112 1070,82 1061,117"/>
<polyline class="b6" points="887,425 887,425"/>
<polyline class="b1" points="854,156 869,164 796,210 866,201 786,178 875,196 803,173 789,194 846,229"/>
<polyline class="b7" points="1130,73 1088,126 1088,88 1071,146 1075,117"/>
<polyline class="b5" points="1021,209 970,205 968,234 972,226"/>
<polyline class="b3" points="954,98 964,71 930,81 975,84 984,67 999,30"/>
<polyline class="b2" points="1046,419 1072,414 1020,422 999,428 1010,450 1017,409 1080,415"/>
<polyline class="b8" points="1013,328 1000,341"/>
<polyline class="b6" points="888,433 887,441 872,405"/>
<polyline class="b10" points="1203,332 1162,306"/>
<polyline class="b9" points="1122,204 1122,204"/>
<polyline class="b4" points="841,307 841,307"/>
<polyline class="b1" points="801,151 825,220 782,208 802,213 831,145 791,203 897,170 921,169 817,205"/>
<polyline class="b8" points="992,313 1019,299"/>
<polyline class="b7" points="1135,87 1083,138 1133,91 1084,147"/>
<polyline class="b5" points="963,200 947,235 967,227 973,268"/>
<polyline class="b9" points="1112,219 1159,214 1154,210 1137,225 1152,199 1157,188"/>
<polyline class="b3" points="941,59 981,113 967,70 974,68"/>
<polyline class="b4" points="788,313 788,313"/>
<polyline class="b10" points="1206,294 1186,306 1224,336 1195,336"/>
<polyline class="b6" points="886,445 893,427 862,429"/>
<polyline class="b2" points="1153,403 996,401 1027,423"/>
<polyline class="b1" points="845,189 906,180 870,181 790,214 794,171 912,168 871,176"/>
<polyline class="b7" points="1128,90 1080,112 1093,118 1115,97 1115,137 1139,129"/>
<polyline class="b10" points="1240,332 1155,301 1194,307 1199,286 1243,308"/>
<polyline class="b5" points="971,215 998,236"/>
<polyline class="b2" points="1054,450 1081,454 988,419 1033,435 1057,435 1008,419"/>
<polyline class="b6" points="893,413 907,410 918,432 864,452 869,425 879,394"/>
<polyline class="b4" points="787,327 820,344"/>
<polyline class="b3" points="1008,63 982,75"/>
<polyline class="b8" points="1070,293 1009,321"/>
<polyline class="b9" points="1128,234 1190,198"/>
<polyline class="b1" points="802,185 901,162 808,191 797,156 901,190 794,180 766,152 811,191"/>
<polyline class="b8" points="1057,289 1057,289"/>
<polyline class="b9" points="1134,230 1167,196 1113,226 1126,198 1139,186 1149,199 1150,210"/>
<polyline class="b7" points="1142,80 1079,120 1131,97"/>
<polyline class="b6" points="884,425 897,386 891,404"/>
<polyline class="b2" points="1002,437 1054,408 972,403 989,439 999,412 1085,445"/>
<polyline class="b3" points="992,38 955,45 936,77 955,78 935,87 1008,109"/>
<polyline class="b5" points="950,222 950,222"/>
<polyline class="b10" points="1230,288 1207,287 1170,286 1216,292"/>
<polyline class="b4" points="830,320 830,320"/>
<polyline class="b3" points="950,90 955,96 990,31"/>
<polyline class="b2" points="1084,432 1039,414 1022,408 1075,457 1091,409 1051,421"/>
<polyline class="b1" points="813,210 822,214 817,228 837,183 859,234 757,177 801,191 850,183"/>
<polyline class="b10" points="1213,277 1199,275 1197,300 1238,292 1172,319"/>
<polyline class="b8" points="1076,312 1028,312"/>
<polyline class="b5" points="1005,248 988,210 942,253 956,223 1028,212 974,219"/>
<polyline class="b4" points="827,289 786,319"/>
<polyline class="b7" points="1102,115 1127,101 1108,128 1078,140 1125,85 1145,87"/>
<polyline class="b9" points="1108,210 1161,207"/>
<polyline class="b8" points="1024,321 1015,334 1037,296 1031,296 1032,319"/>
<polyline class="b1" points="786,167 875,209 797,197 887,201 820,204"/>
<polyline class="b5" points="992,258 1010,204 995,206 987,199 957,211"/>
<polyline class="b10" points="1193,316 1173,300 1163,291"/>
<polyline class="b9" points="1124,216 1167,193"/>
<polyline class="b7" points="1073,128 1102,124 1122,109 1091,91 1093,74"/>
<polyline class="b4" points="807,316 873,304 848,332 858,332 808,322"/>
<polyline class="b2" points="1057,418 1073,425 971,404 1016,454 1032,428 1074,405"/>
<polyline class="b3" points="956,63 977,55"/>
<polyline class="b6" points="918,440 904,393"/>
<polyline class="b3" points="979,65 979,65"/>
<polyline class="b1" points="788,204 842,235 809,203 796,184 796,133 788,140 910,183 803,164 858,169 846,201 782,174"/>
<polyline class="b2" points="1098,427 1048,441 1040,438 1029,467 1089,405"/>
<polyline class="b4" points="824,321 789,333 832,325"/>
<polyline class="b9" points="1132,192 1173,224 1189,183 1173,191 1134,222 1137,187 1152,213"/>
<polyline class="b5" points="1010,219 1010,211"/>
<polyline class="b10" points="1230,275 1223,324"/>
<polyline class="b6" points="860,426 905,445 880,406"/>
<polyline class="b8" points="1028,304 1023,296 1059,299"/>
<polyline class="b7" points="1066,111 1094,83 1078,83"/>
<polyline class="b2" points="982,414 1044,407 983,438 1059,446 1095,418 1088,415 1097,417 994,407 1135,401"/>
<polyline class="b7" points="1065,108 1107,120 1071,120 1079,91"/>
<polyline class="b1" points="872,210 866,181 819,198 848,154"/>
<polyline class="b8" points="1015,341 996,342 1003,327 1051,318 1073,278 1001,304"/>
<polyline class="b5" points="1006,228 996,218"/>
<polyline class="b3" points="995,83 1006,84 974,36 1003,94"/>
<polyline class="b6" points="870,419 906,405 908,409"/>
<polyline class="b4" points="815,337 858,315 876,313 781,322"/>
<polyline class="b10" points="1170,299 1234,298"/>
<polyline class="b9" points="1190,187 1105,222"/>
<polyline class="b2" points="1092,442 1019,418 1011,409 1009,415 1052,418 1021,464 1021,442 1061,411"/>
<polyline class="b1" points="776,192 833,231 875,198 772,178 827,176 877,167 883,191"/>
<polyline class="b7" points="1100,131 1058,123 1078,149"/>
<polyline class="b8" points="996,337 1079,282 1050,311 995,327"/>
<polyline class="b3" points="986,97 979,57"/>
<polyline class="b5" points="1008,239 987,219 1028,199 969,238 986,239"/>
<polyline class="b9" points="1206,208 1163,212 1116,223 1158,195"/>
<polyline class="b4" points="807,332 802,307 842,285 881,301 779,335"/>
<polyline class="b6" points="891,453 846,450"/>
<polyline class="b1" points="817,145 772,158 783,190 809,151 838,218 902,172"/>
<polyline class="b4" points="871,332 857,289 773,324 885,313"/>
<polyline class="b8" points="1014,323 1012,336 1003,313 1005,309"/>
<polyline class="b3" points="939,51 955,73 964,33 983,82 948,70 1005,107 949,72 946,48 955,99 949,104"/>
<polyline class="b2" points="1044,414 1089,418 1005,450 984,393 1100,414 1025,418 1017,445"/>
<polyline class="b7" points="1065,130 1099,135 1066,123"/>
<polyline class="b6" points="869,450 893,394 915,403"/>
<polyline class="b9" points="1181,212 1181,212"/>
<polyline class="b5" points="959,258 959,258"/>
<polyline class="b10" points="1213,309 1213,309"/>
<polyline class="b6" points="896,437 882,417 881,429 877,441 845,448"/>
<polyline class="b9" points="1189,207 1200,209"/>
<polyline class="b3" points="943,43 1003,80 942,72 961,92 979,30 972,59"/>
<polyline class="b1" points="849,176 839,160 826,134 781,215 831,207 878,188 844,165 831,234 764,194"/>
<polyline class="b10" points="1180,283 1233,306 1191,299 1211,283 1247,314 1214,327"/>
<polyline class="b4" points="886,330 842,317 808,312"/>
<polyline class="b2" points="1085,428 1091,438 1133,396 986,403 1016,458 1004,402"/>
<polyline class="b7" points="1088,136 1071,88"/>
<polyline class="b8" points="1015,309 1015,309"/>
<polyline class="b8" points="1039,289 1039,289"/>
<polyline class="b5" points="991,249 973,233 953,258 1009,207"/>
<polyline class="b9" points="1166,203 1131,213 1172,199 1154,219 1187,204 1162,232 1178,193"/>
<polyline class="b10" points="1242,321 1173,282 1199,281 1181,331 1185,320"/>
<polyline class="b6" points="906,401 888,399"/>
<polyline class="b2" points="1109,411 1079,424 1078,447 1098,414 1096,403"/>
<polyline class="b3" points="940,79 946,96 991,55"/>
<polyline class="b1" points="810,169 822,155 806,134 817,129 912,165 845,227 783,218 825,208 910,161"/>
<polyline class="b7" points="1104,92 1111,141 1132,82"/>
<polyline class="b4" points="853,324 853,324"/>
<polyline class="b5" points="998,244 943,259 1009,222 1008,196 976,237 966,231 952,259 1000,206"/>
<polyline class="b10" points="1213,300 1184,331 1199,331 1237,302 1220,307 1227,283 1188,279"/>
<polyline class="b9" points="1109,227 1130,213 1123,214"/>
<polyline class="b8" points="989,316 989,316"/>
<polyline class="b6" points="906,416 890,437 896,412"/>
<polyline class="b1" points="794,134 832,217 782,200 840,226 851,221 785,138 843,185 794,153"/>
<polyline class="b2" points="978,428 1141,404 1044,453 1127,401 1029,446"/>
<polyline class="b3" points="947,62 964,115"/>
<polyline class="b4" points="799,314 799,314"/>
<polyline class="b7" points="1146,82 1110,124"/>
<polyline class="b1" points="831,153 855,189 759,190 789,222 788,225 851,159 808,219"/>
<polyline class="b8" points="1028,281 1021,321 1077,309 1008,316 1036,339"/>
<polyline class="b3" points="990,81 958,55 945,62"/>
<polyline class="b6" points="881,391 920,440 904,429 880,446 863,409"/>
<polyline class="b7" points="1067,117 1083,122 1135,109 1069,125"/>
<polyline class="b10" points="1161,296 1241,328 1201,299 1248,288"/>
<polyline class="b5" points="1002,229 1025,223 952,213 979,229 1016,224"/>
<polyline class="b2" points="1082,451 1143,392"/>
<polyline class="b4" points="830,336 833,305"/>
<polyline class="b9" points="1173,214 1183,200 1129,197"/>
<polyline class="b10" points="1160,316 1221,304 1195,281 1240,297"/>
<polyline class="b1" points="854,200 805,160 826,233 799,203 771,175 875,213 852,164"/>
<polyline class="b5" points="963,211 971,247 961,208 969,264"/>
<polyline class="b2" points="980,424 1069,434 985,412"/>
<polyline class="b4" points="783,318 868,306"/>
<polyline class="b7" points="1139,111 1133,102 1111,88 1072,98 1080,129 1097,110 1085,101 1118,91"/>
<polyline class="b6" points="869,415 894,440 903,441"/>
<polyline class="b9" points="1140,218 1145,202"/>
<polyline class="b8" points="998,340 1012,293 1015,314"/>
<polyline class="b3" points="965,56 997,103 997,107 968,37"/>
<polyline class="b1" points="800,230 837,201 847,218 823,148 819,164 799,163 779,219 917,164 841,173 798,222 782,151 876,179"/>
<polyline class="b4" points="879,298 837,316 868,321 833,288"/>
<polyline class="b5" points="967,253 977,263 947,263 952,255 972,197"/>
<polyline class="b8" points="1015,318 1033,335 1012,310 995,304 1042,310 1024,306 1047,284"/>
<polyline class="b6" points="900,447 900,447"/>
<polyline class="b9" points="1162,223 1118,227 1181,207"/>
<polyline class="b2" points="1019,452 1101,435 1074,431"/>
<polyline class="b10" points="1161,304 1226,324 1160,292"/>
<polyline class="b3" points="1004,73 960,65"/>
<polyline class="b8" points="1043,293 1054,307 1036,306"/>
<polyline class="b6" points="886,392 918,426"/>
<polyline class="b5" points="1011,243 963,264 991,217"/>
<polyline class="b2" points="1153,400 1062,435 1120,388 1046,448 1053,452 1028,453 969,409 1025,414"/>
<polyline class="b4" points="829,311 837,314 854,312"/>
<polyline class="b7" points="1084,91 1131,78 1129,75 1124,97 1072,143 1077,151 1103,93"/>
<polyline class="b1" points="840,228 825,138 831,164 779,187 893,188"/>
<polyline class="b3" points="938,54 951,59 961,87 986,119 988,108 972,43"/>
<polyline class="b10" points="1206,313 1221,325 1221,312"/>
<polyline class="b7" points="1121,129 1121,96 1123,76 1110,95 1097,78 1128,107"/>
<polyline class="b10" points="1208,302 1230,322"/>
<polyline class="b3" points="985,48 956,90"/>
<polyline class="b9" points="1127,209 1117,213 1153,240"/>
<polyline class="b1" points="842,209 830,148 851,213 793,221 773,204 867,224 841,151 808,163"/>
<polyline class="b5" points="998,229 1007,204 962,224 986,233"/>
<polyline class="b8" points="1022,303 1006,305 1024,328"/>
<polyline class="b6" points="855,420 924,404 867,411 903,394"/>
<polyline class="b2" points="1134,390 1072,463 1046,427 1107,399"/>
<polyline class="b4" points="803,313 822,305 798,338 807,329"/>
<polyline class="b2" points="1069,438 1043,468 1071,445 1093,430 1066,438"/>
<polyline class="b9" points="1141,246 1132,206 1191,201"/>
<polyline class="b3" points="944,59 958,59 958,69 963,39 952,40 970,114 984,80"/>
<polyline class="b1" points="846,204 907,163 884,203 869,207 788,146 861,185 871,229"/>
<polyline class="b7" points="1086,108 1080,87"/>
<polyline class="b6" points="900,385 862,448 868,395 918,437"/>
<polyline class="b10" points="1255,301 1240,283 1185,281 1193,285 1191,303"/>
<polyline class="b5" points="1020,215 1004,252"/>
<polyline class="b4" points="823,342 879,304 876,296 801,327"/>
<polyline class="b8" points="1075,286 1075,286"/>
<polyline class="b1" points="769,184 843,218 772,190 837,211 779,144 848,170 802,146 821,233 822,179 791,172"/>
<polyline class="b7" points="1117,117 1090,103 1105,136 1088,95 1142,103"/>
<polyline class="b4" points="815,317 793,327 817,313"/>
<polyline class="b10" points="1224,307 1232,313 1169,304 1187,312"/>
<polyline class="b5" points="946,224 982,242 938,247 1019,213"/>
<polyline class="b2" points="1034,465 989,398"/>
<polyline class="b3" points="942,95 983,121 941,41 996,92"/>
<polyline class="b9" points="1138,209 1155,201 1122,225"/>
<polyline class="b8" points="1061,277 1033,303 1034,328 1045,286"/>
<polyline class="b6" points="883,440 883,440"/>
<polyline class="b5" points="1012,226 968,250 995,204 949,230"/>
<polyline class="b6" points="885,394 868,406 853,442"/>
<polyline class="b2" points="1037,410 1075,427 1080,462 1050,427 1040,423 1049,455"/>
<polyline class="b7" points="1144,121 1144,121"/>
<polyline class="b1" points="864,174 818,162 763,165 789,190"/>
<polyline class="b9" points="1137,218 1134,198"/>
<polyline class="b10" points="1232,280 1221,331 1208,291 1227,302 1188,293 1216,311 1212,273"/>
<polyline class="b3" points="1003,57 965,92 993,64 1003,68 948,86"/>
<polyline class="b8" points="1036,295 1080,293 1027,291 994,307 1007,300"/>
<polyline class="b4" points="863,293 851,324 848,303"/>
<polyline class="b2" points="1085,440 1137,398 1126,400 1081,458 998,420 1024,429 1119,402 983,409 1099,410 1132,408 1064,417"/>
<polyline class="b1" points="853,186 830,161 781,166 837,150 807,201 849,194 901,187 801,222 828,229"/>
<polyline class="b9" points="1174,202 1175,197 1198,214"/>
<polyline class="b4" points="802,334 861,315 860,323 849,307"/>
<polyline class="b3" points="974,79 982,46 968,48"/>
<polyline class="b10" points="1206,280 1232,316 1157,313 1210,317"/>
<polyline class="b6" points="860,437 917,391"/>
<polyline class="b8" points="993,334 1032,344 1070,290"/>
<polyline class="b5" points="957,218 957,218"/>
<polyline class="b10" points="1185,304 1200,335 1182,292 1212,322 1175,309 1225,292"/>
<polyline class="b9" points="1135,244 1146,212"/>
<polyline class="b2" points="1066,460 1082,426 983,420"/>
<polyline class="b8" points="1052,321 1052,321"/>
<polyline class="b3" points="1003,87 959,37 966,76 978,43 936,45 1002,72 981,126 980,100 937,95 977,121"/>
<polyline class="b5" points="986,207 966,199 988,238 989,230"/>
<polyline class="b4" points="804,300 871,319"/>
<polyline class="b1" points="824,193 882,181 772,169 850,157 778,159"/>
<polyline class="b7" points="1137,108 1074,137 1060,112 1107,101 1061,137 1101,112"/>
<polyline class="b6" points="874,421 874,421"/>
<polyline class="b5" points="997,258 945,229 946,254 961,248"/>
<polyline class="b2" points="988,426 1078,444 1103,423 1076,402 1094,443 1056,465"/>
<polyline class="b3" points="939,74 940,70 945,100 969,92 1001,34"/>
<polyline class="b4" points="843,333 872,313"/>
<polyline class="b10" points="1174,313 1177,296 1194,330"/>
<polyline class="b7" points="1101,72 1124,93 1060,132"/>
<polyline class="b8" points="1071,309 1060,302 1050,287 1045,296 1068,302"/>
<polyline class="b1" points="820,173 809,229 760,179 815,214 843,175 781,204 848,234 777,146"/>
<polyline class="b6" points="869,429 880,421"/>
<polyline class="b9" points="1142,207 1110,212"/>
<polyline class="b2" points="1027,460 1123,395 987,435 1118,412 1082,404"/>
<polyline class="b1" points="820,148 816,156 768,168 765,157 860,213 852,231 836,239 811,177 778,202"/>
<polyline class="b9" points="1150,223 1117,203 1109,224 1143,198"/>
<polyline class="b4" points="818,326 877,328 858,310 830,322 784,312 816,299"/>
<polyline class="b10" points="1228,297 1220,287 1172,329 1221,277"/>
<polyline class="b8" points="997,311 995,324"/>
<polyline class="b3" points="1009,100 1010,105 1004,96 995,69 934,58"/>
<polyline class="b7" points="1079,103 1079,103"/>
<polyline class="b6" points="854,446 882,452"/>
<polyline class="b5" points="958,234 954,210"/>
<polyline class="b9" points="1171,219 1191,215 1135,248 1144,242 1137,233"/>
<polyline class="b8" points="1058,291 1023,338"/>
<polyline class="b1" points="827,214 824,159 848,223 788,164 832,201 773,176 807,213 874,219 840,141 889,188"/>
<polyline class="b7" points="1139,119 1114,125 1137,87 1075,148 1078,133"/>
<polyline class="b6" points="847,432 879,455 911,427 864,402"/>
<polyline class="b5" points="955,263 953,250"/>
<polyline class="b3" points="985,58 969,121 988,116"/>
<polyline class="b2" points="1073,453 1011,462 1022,439 1043,463"/>
<polyline class="b4" points="842,324 793,306 883,307"/>
<polyline class="b10" points="1231,333 1227,299"/>
<polyline class="b2" points="1148,393 998,447 1153,392 1113,414 1034,457 1009,435 1080,408"/>
<polyline class="b5" points="1000,199 956,230 996,247"/>
<polyline class="b4" points="823,296 837,339 843,310 775,329"/>
<polyline class="b3" points="958,108 953,81 932,64 994,101 989,73"/>
<polyline class="b9" points="1119,208 1192,197 1204,213 1146,238 1196,210"/>
<polyline class="b7" points="1116,83 1108,131 1063,129 1125,125 1079,98 1125,80 1108,71 1120,136 1095,133"/>
<polyline class="b6" points="911,432 918,421 874,413"/>
<polyline class="b8" points="1014,303 1014,303"/>
<polyline class="b10" points="1238,306 1238,306"/>
<polyline class="b1" points="822,197 843,189"/>
<polyline class="b9" points="1138,201 1114,233 1133,217"/>
<polyline class="b8" points="1022,287 1082,297 1000,323 1021,316 1047,304 1039,298"/>
<polyline class="b1" points="758,183 882,201 865,185 840,213 831,206"/>
<polyline class="b4" points="831,297 854,317 858,306"/>
<polyline class="b7" points="1123,113 1132,111 1132,106"/>
<polyline class="b3" points="981,106 959,76 970,90 973,72"/>
<polyline class="b10" points="1197,298 1188,315 1207,319 1238,329"/>
<polyline class="b6" points="892,431 909,399 900,442"/>
<polyline class="b5" points="1012,219 1033,218 1004,219 1001,223 1004,212"/>
<polyline class="b2" points="1083,449 1020,415 1100,402 992,443"/>
<polyline class="b7" points="1105,75 1121,118 1101,127"/>
<polyline class="b1" points="867,220 813,226 833,178 784,159 778,209 799,208"/>
<polyline class="b5" points="953,233 963,201 937,237 961,228 956,237 978,211"/>
<polyline class="b2" points="1026,448 1001,413 1028,433"/>
<polyline class="b3" points="978,50 965,44 959,114 986,28 988,37"/>
<polyline class="b9" points="1167,187 1123,238 1157,233 1126,228 1178,218"/>
<polyline class="b8" points="1011,317 1065,287 1021,332 1029,326"/>
<polyline class="b6" points="853,438 853,438"/>
<polyline class="b10" points="1238,316 1249,295 1176,315 1181,285"/>
<polyline class="b4" points="847,289 845,315 817,292"/>
<polyline class="b8" points="1039,311 1072,303"/>
<polyline class="b9" points="1126,221 1153,190 1162,203"/>
<polyline class="b10" points="1180,300 1186,315 1156,317"/>
<polyline class="b1" points="912,176 773,165 864,225"/>
<polyline class="b3" points="980,110 980,110"/>
<polyline class="b2" points="992,420 1134,392"/>
<polyline class="b7" points="1066,89 1066,89"/>
<polyline class="b6" points="891,446 923,411"/>
<polyline class="c1" points="333,718 459,857 412,860 445,845 377,855 277,665 346,753 190,825 274,658"/>
<polyline class="c6" points="498,911 143,919 254,904 494,910"/>
<polyline class="c9" points="281,816 473,971 266,853 266,832 278,813"/>
<polyline class="c3" points="278,1038 185,994 307,975 167,994"/>
<polyline class="c8" points="144,928 234,950 307,818"/>
<polyline class="c2" points="451,754 451,754"/>
<polyline class="c7" points="436,800 358,1030 383,946"/>
<polyline class="c5" points="338,961 168,996 388,1052 316,970 345,1072 417,1033"/>
<polyline class="c10" points="213,751 193,865"/>
<polyline class="c4" points="251,798 119,845 359,814"/>
<polyline class="c1" points="400,817 353,845 275,666 404,768"/>
<polyline class="c3" points="239,1032 352,1087 291,987 116,994 229,994 416,1040 381,1038"/>
<polyline class="c6" points="168,914 264,937 237,886 244,938 180,940"/>
<polyline class="c5" points="327,1002 281,1066 416,1024 356,1044"/>
<polyline class="c4" points="140,789 190,831 347,827 199,810"/>
<polyline class="c2" points="441,715 370,677 441,714 422,740"/>
<polyline class="c9" points="269,824 311,861 328,940"/>
<polyline class="c8" points="248,920 104,905 209,953 166,894"/>
<polyline class="c10" points="148,719 208,690"/>
<polyline class="c7" points="356,917 306,705 131,834"/>
<polyline class="c3" points="363,1066 325,965 354,933 334,1016 150,994"/>
<polyline class="c7" points="232,1037 416,920 386,826"/>
<polyline class="c2" points="506,769 472,754 407,723 462,803"/>
<polyline class="c5" points="239,1013 371,1052 247,1009 368,1066 328,1050 289,1075 188,1026"/>
<polyline class="c1" points="428,867 325,716 403,813 344,735"/>
<polyline class="c10" points="161,740 322,786 163,755 217,755 226,748 187,695"/>
<polyline class="c8" points="169,905 155,884 190,726 125,899"/>
<polyline class="c4" points="362,847 184,836"/>
<polyline class="c9" points="259,836 259,832 266,875"/>
<polyline class="c6" points="151,934 481,896"/>
<polyline class="c2" points="505,774 502,764 431,753 429,726 437,863 483,749 458,716"/>
<polyline class="c6" points="256,912 522,855 77,896 306,919 293,803 518,885"/>
<polyline class="c7" points="421,905 391,853 454,866 148,823 432,851 225,1010 445,908"/>
<polyline class="c3" points="291,1001 367,943 343,961 209,1000 368,1016 396,1049 381,981"/>
<polyline class="c5" points="173,1013 293,1043 548,881 227,804 306,1065"/>
<polyline class="c10" points="248,741 202,690 316,765"/>
<polyline class="c9" points="507,979 507,979"/>
<polyline class="c1" points="282,669 390,779 271,805"/>
<polyline class="c8" points="187,948 187,948"/>
<polyline class="c4" points="198,832 211,801 157,832 159,847 202,789 361,819"/>
<polyline class="c2" points="474,809 425,756 457,734 401,696 511,811 404,718 490,755"/>
<polyline class="c9" points="280,867 437,971 421,976 308,871"/>
<polyline class="c6" points="290,909 258,947 489,882 502,905"/>
<polyline class="c10" points="189,737 189,737"/>
<polyline class="c5" points="289,1071 289,1071"/>
<polyline class="c8" points="113,934 171,943 236,892 193,938"/>
<polyline class="c7" points="359,781 246,984 294,704 378,977"/>
<polyline class="c3" points="401,932 287,1001 187,1017 402,1055 271,978"/>
<polyline class="c1" points="465,871 355,731 342,766 339,840"/>
<polyline class="c8" points="107,931 242,916 61,906"/>
<polyline class="c3" points="384,1041 354,989 249,993 371,957"/>
<polyline class="c5" points="340,963 368,944 371,1083"/>
<polyline class="c6" points="518,860 502,871 178,726 285,930 297,812 304,812 517,911"/>
<polyline class="c4" points="333,822 212,792 168,825 94,835 141,784"/>
<polyline class="c7" points="323,860 213,1010 438,1045 98,826"/>
<polyline class="c1" points="348,812 408,812 429,884 249,1018 338,738"/>
<polyline class="c2" points="472,734 385,702 513,768 374,678"/>
<polyline class="c10" points="313,773 157,753 226,716 307,769 202,699"/>
<polyline class="c5" points="425,917 342,1076 381,1012 324,1062 404,1021 293,1058"/>
<polyline class="c1" points="408,799 339,751 191,836 286,666"/>
<polyline class="c2" points="447,737 504,802 510,763 427,742 462,804 383,714 437,702 421,714"/>
<polyline class="c3" points="459,907 208,1031 300,1002"/>
<polyline class="c4" points="245,813 329,837 405,880 202,832"/>
<polyline class="c7" points="377,836 408,1026 361,1045"/>
<polyline class="c10" points="198,704 241,709"/>
<polyline class="c9" points="407,942 439,899 322,871 246,867 290,860 415,957"/>
<polyline class="c8" points="176,904 109,900 199,954"/>
<polyline class="c6" points="501,875 501,875"/>
<polyline class="c5" points="396,1030 283,1056 331,1057"/>
<polyline class="c4" points="104,788 133,845 86,779"/>
<polyline class="c6" points="169,923 160,909 308,929 253,919"/>
<polyline class="c2" points="454,756 389,693 422,691 424,728 412,733 375,707"/>
<polyline class="c1" points="348,756 347,765 273,684 376,788 433,817 397,835"/>
<polyline class="c8" points="175,921 85,904 156,951"/>
<polyline class="c10" points="257,747 225,727 282,741 217,871 156,732 189,687 287,767"/>
<polyline class="c7" points="232,804 232,804"/>
<polyline class="c3" points="108,983 213,999 325,982 368,932"/>
<polyline class="c9" points="484,978 357,898 280,861"/>
<polyline class="c3" points="188,1020 329,1016 297,975 279,977 231,989 310,1004"/>
<polyline class="c10" points="303,840 286,769 222,707"/>
<polyline class="c1" points="394,864 384,879 332,733 303,690 318,950 444,918 347,773"/>
<polyline class="c7" points="446,874 404,872 275,1068 312,954 155,997"/>
<polyline class="c8" points="248,924 248,924"/>
<polyline class="c6" points="305,822 306,899"/>
<polyline class="c5" points="303,1090 332,1065 348,976"/>
<polyline class="c9" points="430,917 312,858 279,801 434,975"/>
<polyline class="c2" points="441,755 393,698 478,763"/>
<polyline class="c4" points="95,783 147,804 245,806 206,799 352,824 116,787"/>
<polyline class="c10" points="184,768 303,772 218,686 260,741 208,876 188,741 301,767 254,743 178,756"/>
<polyline class="c4" points="107,802 374,810 122,780 126,796 138,818"/>
<polyline class="c6" points="142,954 488,895 520,865 267,944 268,919"/>
<polyline class="c1" points="371,813 543,879 455,850 420,841 357,921 250,657 372,759"/>
<polyline class="c3" points="364,1040 189,1035 201,1020 264,1000 487,871"/>
<polyline class="c5" points="293,974 334,1043 431,1044 197,1015"/>
<polyline class="c2" points="346,842 285,700 338,665 416,721"/>
<polyline class="c8" points="228,929 228,929"/>
<polyline class="c9" points="270,805 261,861 510,1001"/>
<polyline class="c8" points="146,948 186,939 132,914"/>
<polyline class="c7" points="542,881 397,1055 428,924 329,1092 215,838 479,877 435,866 316,944 311,870"/>
<polyline class="c2" points="473,813 355,691 505,812 439,746 375,925 376,687"/>
<polyline class="c4" points="122,804 122,804"/>
<polyline class="c5" points="339,956 384,1058 438,1022"/>
<polyline class="c3" points="459,901 283,980 374,917 392,1076 305,1053 317,1062 388,1044"/>
<polyline class="c6" points="370,841 252,899"/>
<polyline class="c10" points="150,720 306,840 185,907 176,750"/>
<polyline class="c1" points="378,774 397,806"/>
<polyline class="c7" points="175,1026 184,803 346,934 345,770 340,734 392,775 255,1008 306,961"/>
<polyline class="c8" points="94,881 96,920 191,911 250,945"/>
<polyline class="c4" points="119,808 160,824 373,820"/>
<polyline class="c9" points="272,830 354,942"/>
<polyline class="c5" points="396,1010 409,1015 304,1047 151,990"/>
<polyline class="c10" points="304,752 198,713"/>
<polyline class="c3" points="418,1010 255,1014 309,954"/>
<polyline class="c2" points="419,737 444,745 373,668 333,990"/>
<polyline class="c6" points="282,927 200,938 283,939 225,951 183,729 210,909 510,886"/>
<polyline class="c1" points="372,844 319,736 342,759"/>
<polyline class="c7" points="374,816 309,971 391,934 339,970"/>
<polyline class="c10" points="220,866 228,728"/>
<polyline class="c3" points="207,1038 175,991 338,963 260,1019 213,1028"/>
<polyline class="c9" points="332,862 388,961"/>
<polyline class="c8" points="203,935 118,941 154,923 160,886 131,898 179,895 98,932 239,935 182,899 129,910"/>
<polyline class="c2" points="421,690 387,709 436,729 504,807 227,837 519,800"/>
<polyline class="c1" points="359,739 246,658"/>
<polyline class="c6" points="511,893 159,922 135,881 511,882"/>
<polyline class="c5" points="540,874 315,1002 373,1025"/>
<polyline class="c4" points="100,802 107,831"/>
<polyline class="c8" points="123,882 306,891 215,932 178,887 208,903 270,948 117,923 244,887"/>
<polyline class="c4" points="225,782 111,790 220,808"/>
<polyline class="c1" points="384,761 429,927"/>
<polyline class="c6" points="61,909 476,884"/>
<polyline class="c7" points="419,857 426,819 513,844 103,789 380,1076 373,1037 290,692"/>
<polyline class="c2" points="406,684 465,725 446,784 354,684 509,784 261,1002"/>
<polyline class="c3" points="448,911 398,908 433,913 357,1026 167,1013 444,902"/>
<polyline class="c10" points="195,869 195,869"/>
<polyline class="c5" points="376,849 188,846"/>
<polyline class="c9" points="452,965 277,832 286,855"/>
<polyline class="c6" points="292,899 217,897 514,905 277,917 511,918 252,951"/>
<polyline class="c3" points="330,974 373,1063 271,1049 446,895 413,1056 258,980 219,1000"/>
<polyline class="c9" points="257,828 518,1008 444,963 462,977"/>
<polyline class="c10" points="195,710 222,698 186,866 252,750 185,746 238,736"/>
<polyline class="c7" points="447,855 329,1011 371,789 369,830 323,865 177,1021"/>
<polyline class="c8" points="140,936 208,946 179,954"/>
<polyline class="c2" points="425,751 388,720 472,773"/>
<polyline class="c4" points="151,805 96,769"/>
<polyline class="c1" points="313,704 313,704"/>
<polyline class="c5" points="342,1041 348,971"/>
<polyline class="c1" points="383,779 392,875 380,755 419,835 387,772"/>
<polyline class="c6" points="295,922 69,907 97,928 196,957 311,901"/>
<polyline class="c10" points="195,874 165,712 304,775 234,704 265,757 176,690 291,769 259,726"/>
<polyline class="c5" points="278,1080 552,872 421,1013 424,1024 204,797 360,1057"/>
<polyline class="c2" points="427,708 515,790"/>
<polyline class="c4" points="156,839 215,784 122,829 154,787"/>
<polyline class="c8" points="106,928 174,935 143,895"/>
<polyline class="c9" points="364,891 436,916 486,973"/>
<polyline class="c3" points="182,1028 148,990 362,1084"/>
<polyline class="c7" points="257,1017 257,1017"/>
<polyline class="c1" points="413,891 295,671 397,856 393,822 414,790 395,848 296,676"/>
<polyline class="c8" points="256,939 180,962 180,959"/>
<polyline class="c9" points="273,872 518,992 318,860"/>
<polyline class="c7" points="340,755 145,783 309,987 220,819 254,853 319,931 418,844"/>
<polyline class="c10" points="263,759 174,767 171,756 210,693"/>
<polyline class="c6" points="141,954 532,935 185,897"/>
<polyline class="c3" points="275,1042 261,1006 242,1068 345,941"/>
<polyline class="c4" points="188,795 97,808 371,835"/>
<polyline class="c2" points="379,708 497,759 399,831 370,704 446,726"/>
<polyline class="c5" points="332,986 332,986"/>
<polyline class="c7" points="271,864 107,983 353,875 417,913 379,751 319,1004"/>
<polyline class="c8" points="114,910 146,915 158,918 119,909 186,941 247,948"/>
<polyline class="c9" points="322,856 299,871"/>
<polyline class="c2" points="434,706 391,705 368,695 450,716"/>
<polyline class="c4" points="126,811 223,792 399,901 191,837"/>
<polyline class="c6" points="275,924 473,874 297,925 300,822 113,897 168,905 248,953"/>
<polyline class="c10" points="263,738 228,706 156,707 240,735"/>
<polyline class="c5" points="434,1035 369,961 329,1044 313,1012 275,1011"/>
<polyline class="c1" points="348,729 428,874"/>
<polyline class="c3" points="374,1057 374,1050 406,906"/>
<polyline class="c5" points="353,951 172,836 363,985 335,1011 241,1015 380,1064"/>
<polyline class="c4" points="123,818 146,819 454,889 147,785 113,819 119,827"/>
<polyline class="c8" points="99,893 189,924 93,923"/>
<polyline class="c10" points="310,784 243,715 220,698 219,747 293,748 167,761"/>
<polyline class="c7" points="218,1007 252,843 332,1001"/>
<polyline class="c2" points="395,683 457,868 378,701 426,701 449,729 462,756"/>
<polyline class="c9" points="488,983 504,1000 268,809 451,972"/>
<polyline class="c1" points="335,728 323,701"/>
<polyline class="c6" points="528,903 528,903"/>
<polyline class="c3" points="175,1036 466,896 358,935 208,1016"/>
<polyline class="c4" points="333,814 334,830 140,783 92,822"/>
<polyline class="c6" points="482,865 497,844 523,914"/>
<polyline class="c1" points="270,665 371,743 279,660 422,810"/>
<polyline class="c9" points="419,968 414,785 343,888 474,963"/>
<polyline class="c5" points="301,965 380,1029 347,987 283,1071 357,1034 390,1061 274,1082"/>
<polyline class="c8" points="168,963 244,935"/>
<polyline class="c10" points="211,713 182,870 170,741"/>
<polyline class="c2" points="356,672 487,783 471,768"/>
<polyline class="c7" points="349,998 396,842 456,843 388,841 407,883 374,977"/>
<polyline class="c8" points="238,898 247,759 139,898 187,927 81,891 107,909 291,889 107,887 172,901 301,842 152,917"/>
<polyline class="c9" points="513,984 346,864 255,876 356,886 301,853 277,801"/>
<polyline class="c3" points="415,1051 190,1002 366,937"/>
<polyline class="c5" points="196,812 212,1038 385,1021 337,951 340,1092"/>
<polyline class="c2" points="366,682 360,945"/>
<polyline class="c4" points="150,840 138,845 130,821 413,917"/>
<polyline class="c1" points="390,790 311,694 535,875 365,762"/>
<polyline class="c10" points="303,832 225,733 232,704"/>
<polyline class="c7" points="339,910 339,910"/>
<polyline class="c6" points="138,945 138,945"/>
<polyline class="c7" points="438,909 247,998 305,973 270,975 220,830 388,935"/>
<polyline class="c5" points="367,993 348,1032 378,997 214,818"/>
<polyline class="c1" points="336,743 336,743"/>
<polyline class="c2" points="470,812 483,778 515,807 334,666 333,926 382,823"/>
<polyline class="c3" points="326,997 304,1009 343,748"/>
<polyline class="c10" points="192,695 215,683 274,752 201,710 148,723 213,702"/>
<polyline class="c9" points="500,994 413,979 447,975"/>
<polyline class="c8" points="231,909 124,919 130,918 151,924 259,911"/>
<polyline class="c4" points="87,799 97,791"/>
<polyline class="c6" points="261,892 204,928 169,927 215,924"/>
<polyline class="c3" points="357,998 147,1009 245,995 378,917"/>
<polyline class="c2" points="437,737 452,745 502,779 510,800"/>
<polyline class="c5" points="545,887 248,1059 392,1016 389,1036 301,997 373,935 547,885 373,1072 418,1039 390,835"/>
<polyline class="c10" points="283,757 185,707 254,739"/>
<polyline class="c7" points="310,996 330,904 126,786 335,835"/>
<polyline class="c1" points="428,801 434,831 453,816 403,803 392,785"/>
<polyline class="c6" points="488,894 302,937"/>
<polyline class="c9" points="494,981 494,981"/>
<polyline class="c4" points="362,821 200,799 148,832 256,985 183,826"/>
<polyline class="c8" points="251,906 231,939"/>
<polyline class="c5" points="196,1013 293,1051"/>
<polyline class="c8" points="283,912 308,910 198,929"/>
<polyline class="c7" points="391,840 442,821 560,879 414,857 124,800 350,759"/>
<polyline class="c2" points="422,747 462,723 388,675"/>
<polyline class="c6" points="298,809 294,823 304,912 208,941 201,892 285,914 526,880 132,894 515,855 501,891"/>
<polyline class="c9" points="494,971 509,1009 336,869"/>
<polyline class="c4" points="240,791 437,889 447,807 212,826 179,794 119,793 133,794 242,787"/>
<polyline class="c3" points="384,1043 384,1043"/>
<polyline class="c1" points="316,736 434,795 437,854 438,879"/>
<polyline class="c7" points="199,818 326,726"/>
<polyline class="c8" points="170,923 247,928 187,910 182,919 148,928"/>
<polyline class="c5" points="356,1054 448,857 171,1003 264,1058 225,813"/>
<polyline class="c3" points="165,1017 192,807 374,964 329,955 375,1068 369,938"/>
<polyline class="c2" points="356,679 504,783 377,676 383,685 478,768"/>
<polyline class="c6" points="537,918 302,811 423,885 184,918 512,895 499,848 293,928"/>
<polyline class="c4" points="243,799 84,802 108,796"/>
<polyline class="c9" points="335,874 335,874"/>
<polyline class="c1" points="429,869 358,748 407,913"/>
<polyline class="c10" points="183,762 199,768 243,719"/>
<polyline class="c3" points="399,919 373,933 349,1026 274,1008 454,898 347,1055 352,952 147,1012 312,952 430,1041"/>
<polyline class="c7" points="413,849 373,751 438,861 237,1004 386,850 156,993 350,742"/>
<polyline class="c1" points="216,833 394,851 335,721 432,841"/>
<polyline class="c5" points="208,993 330,1069"/>
<polyline class="c9" points="329,872 451,963 277,876"/>
<polyline class="c4" points="123,807 193,845 358,815 234,789 216,801"/>
<polyline class="c2" points="487,775 441,750 403,678 484,744 364,675"/>
<polyline class="c8" points="192,932 234,912"/>
<polyline class="c6" points="256,923 256,923"/>
<polyline class="c10" points="321,774 321,774"/>
<polyline class="c3" points="262,1066 405,921 391,918 376,948 369,1060 339,988 422,1045 428,937"/>
<polyline class="c10" points="166,724 299,754 205,866 155,728"/>
<polyline class="c6" points="281,890 294,907 506,884 226,919 104,922"/>
<polyline class="c2" points="433,734 496,777"/>
<polyline class="c1" points="390,794 293,682 438,923 366,747 263,671 532,885 406,826"/>
<polyline class="c5" points="308,978 456,885 276,1059"/>
<polyline class="c8" points="298,920 121,904 128,932 308,810 299,933 264,927"/>
<polyline class="c4" points="165,801 138,787 124,822"/>
<polyline class="c7" points="545,890 332,999"/>
<polyline class="c3" points="338,939 273,983 320,932"/>
<polyline class="c2" points="463,761 377,715 433,725 499,803 494,774 386,686 503,816"/>
<polyline class="c5" points="106,805 270,1018 323,1085 269,1076 417,1046 190,1015 376,1034"/>
<polyline class="c9" points="259,869 259,869"/>
<polyline class="c1" points="552,884 390,764 176,816"/>
<polyline class="c4" points="156,800 168,813 146,838 217,789 324,823 218,798 320,962"/>
<polyline class="c6" points="504,856 523,924 87,890 535,913 534,926"/>
<polyline class="c10" points="171,751 170,738 159,757"/>
<polyline class="c8" points="111,891 93,908"/>
<polyline class="c7" points="371,997 339,981"/>
<polyline class="c6" points="488,886 502,856 292,928 499,903 273,933 217,917 514,900 269,905"/>
<polyline class="c8" points="220,889 220,889"/>
<polyline class="c10" points="150,750 267,741 217,712 234,718 238,733"/>
<polyline class="c1" points="386,817 429,828 386,782 397,817"/>
<polyline class="c9" points="421,972 417,980 504,984 416,985"/>
<polyline class="c4" points="239,808 169,796"/>
<polyline class="c2" points="419,728 459,729 391,692 381,690"/>
<polyline class="c5" points="285,999 135,992 329,922 153,1012 335,1035 182,1022 140,996"/>
<polyline class="c7" points="149,810 380,748 178,1017 358,969"/>
<polyline class="c3" points="316,1054 316,1054"/>
<polyline class="c5" points="184,1031 244,1054 286,1068 200,844 175,1018 383,1024 415,1064 295,987 402,1050"/>
<polyline class="c8" points="166,910 99,908 184,957 93,892 164,921 201,731"/>
<polyline class="c6" points="481,901 514,876 262,947 300,806"/>
<polyline class="c1" points="437,850 443,925 167,841"/>
<polyline class="c4" points="95,786 200,823"/>
<polyline class="c10" points="200,874 245,714 248,722 260,750 332,772 199,736"/>
<polyline class="c7" points="365,963 159,1012 433,846 293,1066 430,812"/>
<polyline class="c3" points="365,907 140,988"/>
<polyline class="c9" points="463,982 493,991 279,824"/>
<polyline class="c6" points="287,934 209,923 250,889 239,949 314,904 141,949"/>
<polyline class="c9" points="356,896 446,988 352,936 436,981"/>
<polyline class="c8" points="242,889 136,890 191,900 193,733"/>
<polyline class="c7" points="179,1029 418,1056 412,1029"/>
<polyline class="c4" points="233,1014 146,844 195,844 344,842 229,797 234,787"/>
<polyline class="c5" points="428,1051 365,1071 327,1054 199,850 204,1029"/>
<polyline class="c3" points="393,1024 393,1024"/>
<polyline class="c1" points="330,755 278,686 442,865 436,856 315,728 269,669"/>
<polyline class="c10" points="286,739 170,706"/>
<polyline class="c2" points="433,730 417,739 254,801"/>
<polyline class="c2" points="441,733 428,747 385,710 358,688"/>
<polyline class="c6" points="528,890 135,899 90,925 159,945 518,884 496,868"/>
<polyline class="c3" points="172,994 363,926 219,1033 343,955 373,1035"/>
<polyline class="c9" points="453,990 292,871 413,953 440,987"/>
<polyline class="c1" points="357,759 247,795"/>
<polyline class="c8" points="309,883 85,897 119,917 99,913 238,938"/>
<polyline class="c5" points="431,1016 351,992 428,1031 305,1078"/>
<polyline class="c10" points="290,750 277,757 211,703 311,780 222,748"/>
<polyline class="c7" points="327,959 202,1041"/>
<polyline class="c4" points="100,811 355,844 380,814"/>
<polyline class="c9" points="466,964 431,967 437,968 421,981 440,966"/>
<polyline class="c7" points="262,978 387,757 321,1054 120,823"/>
<polyline class="c8" points="222,954 141,931 228,921 108,920 77,910"/>
<polyline class="c6" points="510,873 277,895 302,898 496,879 281,944 268,899 151,899"/>
<polyline class="c2" points="452,723 347,668 374,698"/>
<polyline class="c1" points="368,785 396,824 442,804 402,848 412,809"/>
<polyline class="c5" points="208,792 321,993 329,1061 441,1019"/>
<polyline class="c4" points="194,794 399,790 91,789"/>
<polyline class="c10" points="299,775 170,724"/>
<polyline class="c3" points="341,925 180,999"/>
<polyline class="c5" points="432,1021 285,967 252,995 333,1081"/>
<polyline class="c2" points="431,741 510,778 381,677"/>
<polyline class="c3" points="442,1038 384,983 327,932 396,1058 323,1093 445,933 234,990 311,1076 395,922"/>
<polyline class="c9" points="510,996 353,886 304,860"/>
<polyline class="c7" points="379,930 191,810 443,878 335,1041 318,716"/>
<polyline class="c10" points="333,791 191,689 196,733 244,743 326,769"/>
<polyline class="c6" points="283,906 301,829 520,874 231,944"/>
<polyline class="c8" points="136,942 242,951 87,913"/>
<polyline class="c4" points="128,1003 224,783"/>
<polyline class="c1" points="413,869 446,813"/>
<polyline class="c5" points="286,1054 368,979 368,967 318,1085"/>
<polyline class="c3" points="389,1066 285,995 443,922 378,1025"/>
<polyline class="c10" points="204,749 232,709 330,790"/>
<polyline class="c8" points="92,920 240,952 163,935 211,921 228,949"/>
<polyline class="c2" points="501,800 468,810 406,711 405,726 469,760 480,742 498,753"/>
<polyline class="c7" points="293,688 327,1038 175,821 292,707"/>
<polyline class="c1" points="397,765 382,784 437,810 359,766"/>
<polyline class="c6" points="71,901 258,929 510,905"/>
<polyline class="c9" points="390,958 314,870"/>
<polyline class="c4" points="108,842 81,811 410,1010 148,790"/>
<polyline class="c7" points="424,890 405,1042 428,824 413,1055 348,961 443,868 419,813"/>
<polyline class="c8" points="217,939 141,894 239,944 217,729 193,730"/>
<polyline class="c5" points="293,1055 130,998"/>
<polyline class="c4" points="132,811 163,828 109,839 169,847 162,802"/>
<polyline class="c9" points="490,962 405,957 274,808"/>
<polyline class="c1" points="276,680 352,758 458,826 391,880 321,927 455,832"/>
<polyline class="c10" points="241,720 181,873"/>
<polyline class="c2" points="414,731 478,812 347,673 364,708"/>
<polyline class="c6" points="313,825 475,892 531,896 145,886 509,917"/>
<polyline class="c3" points="352,963 352,963"/>
<polyline class="c3" points="342,952 557,882 201,1017 308,999 399,912 199,992"/>
<polyline class="c1" points="298,691 387,823 465,865"/>
<polyline class="c5" points="404,1013 355,1029 317,1057 268,1080 194,997 294,968 432,909"/>
<polyline class="c8" points="231,888 157,904 97,912 239,905"/>
<polyline class="c9" points="272,877 265,826 262,821 257,831"/>
<polyline class="c7" points="381,1057 408,803 302,1083 330,816 106,840"/>
<polyline class="c6" points="520,929 253,908 278,903"/>
<polyline class="c4" points="410,872 186,806 195,794 195,786"/>
<polyline class="c2" points="485,779 442,781 379,700"/>
<polyline class="c10" points="234,701 234,701"/>
<polyline class="c4" points="434,883 102,814 168,810 370,862 338,831"/>
<polyline class="c10" points="249,719 219,751 228,720 218,712"/>
<polyline class="c2" points="485,807 518,788 418,745 484,775 291,676"/>
<polyline class="c6" points="253,933 86,899 93,896 294,807 311,925"/>
<polyline class="c3" points="315,1000 438,847 150,1008 137,990"/>
<polyline class="c5" points="358,1069 407,1052 274,1074 357,1077 360,1053"/>
<polyline class="c8" points="178,946 317,900 252,928 135,911 233,948"/>
<polyline class="c7" points="411,861 295,1073 430,835"/>
<polyline class="c9" points="493,988 493,988"/>
<polyline class="c1" points="406,798 366,751 362,741"/>
<polyline class="c10" points="307,767 498,857 166,710 248,706 243,739 178,748 298,758"/>
<polyline class="c6" points="493,866 503,895 192,961 484,852 406,888 177,913 277,942"/>
<polyline class="c7" points="285,679 299,961 118,985"/>
<polyline class="c8" points="121,891 132,932 215,726"/>
<polyline class="c3" points="359,968 350,978 314,1038 221,1023 271,1012"/>
<polyline class="c5" points="289,1062 338,1002 215,1004"/>
<polyline class="c4" points="93,807 218,823 154,794 340,844 448,896"/>
<polyline class="c1" points="245,653 408,775 310,701"/>
<polyline class="c9" points="286,871 283,876 508,988"/>
<polyline class="c2" points="364,688 364,688"/>
<polyline class="c8" points="305,802 148,953 245,901 176,923 276,916"/>
<polyline class="c10" points="283,767 332,780 124,942 173,738 277,853 191,760 314,780 222,695 183,698 163,706"/>
<polyline class="c1" points="384,791 173,847 370,816"/>
<polyline class="c5" points="355,1065 393,928 426,1023 194,1032 313,991 313,1043 401,1061"/>
<polyline class="c6" points="226,915 164,938 520,908 538,909"/>
<polyline class="c9" points="465,989 339,862"/>
<polyline class="c7" points="426,1047 312,709 272,983"/>
<polyline class="c4" points="126,815 87,806 220,835 83,789 130,840"/>
<polyline class="c2" points="483,811 483,811"/>
<polyline class="c9" points="259,849 478,990 482,986 420,958 460,977 507,982"/>
<polyline class="c10" points="310,817 191,699 190,891 193,873 325,786 191,765"/>
<polyline class="c4" points="80,813 352,817 156,810 381,817 141,809 423,855"/>
<polyline class="c8" points="192,946 91,896 123,947 173,955 132,889"/>
<polyline class="c6" points="118,935 246,924 217,902 312,805 518,929"/>
<polyline class="c3" points="450,906 319,941 354,1066"/>
<polyline class="c7" points="137,997 158,850 416,819"/>
<polyline class="c2" points="494,810 494,810"/>
<polyline class="c5" points="382,928 284,1006 169,1006 400,1025"/>
<polyline class="c1" points="455,875 455,875"/>
<polyline class="c9" points="285,860 391,953 285,853 352,871 246,838 396,957"/>
<polyline class="c6" points="509,926 520,875 220,933 481,859"/>
<polyline class="c5" points="396,879 236,1022 446,1020"/>
<polyline class="c3" points="239,1066 439,916 436,1012 251,989 350,987 415,907 365,953"/>
<polyline class="c8" points="190,906 165,891"/>
<polyline class="c7" points="176,839 398,1071"/>
<polyline class="c2" points="428,731 455,744 485,763"/>
<polyline class="c10" points="336,782 154,722 156,714 222,717"/>
<polyline class="c1" points="319,709 332,749 434,815"/>
<polyline class="c4" points="118,785 449,871 340,815 217,786 207,819 336,926"/>
<polyline class="c4" points="99,807 140,814 87,795"/>
<polyline class="c6" points="106,908 222,923 495,871 115,913 305,806"/>
<polyline class="c2" points="406,694 513,773 373,950 426,720 339,673 378,665"/>
<polyline class="c5" points="305,985 322,1038"/>
<polyline class="c9" points="447,970 501,989 511,1006"/>
<polyline class="c3" points="325,1012 311,1061 371,959 369,985 283,1078 369,1033"/>
<polyline class="c8" points="148,936 198,917 190,918"/>
<polyline class="c10" points="220,688 208,767 295,837 241,724 180,707"/>
<polyline class="c7" points="305,1072 388,879 310,716"/>
<polyline class="c1" points="323,732 302,699 403,839 268,977"/>
<polyline class="c5" points="209,843 301,1065 319,1093"/>
<polyline class="c3" points="290,992 259,1058 292,1055 168,1001 459,889 280,1037"/>
<polyline class="c1" points="439,826 405,782 357,750"/>
<polyline class="c10" points="176,720 182,753 215,876 204,755 174,703"/>
<polyline class="c8" points="179,931 133,904 112,918 169,899"/>
<polyline class="c7" points="368,922 397,851"/>
<polyline class="c9" points="248,847 275,829 274,860 266,819 277,843"/>
<polyline class="c2" points="412,707 394,696 389,678 479,757 475,741 485,742 455,794 400,675"/>
<polyline class="c6" points="295,898 510,863 510,867 166,898"/>
<polyline class="c4" points="230,821 193,815 195,818 149,847"/>
<polyline class="c3" points="359,949 359,949"/>
<polyline class="c5" points="264,1064 257,1062 119,988 297,1065 289,977 346,1047 337,880 333,881"/>
<polyline class="c1" points="422,851 405,779"/>
<polyline class="c2" points="349,666 488,812 475,728"/>
<polyline class="c8" points="303,816 160,961 303,935 189,933 207,731"/>
<polyline class="c7" points="352,1082 384,908 187,791 388,863 388,831 477,872"/>
<polyline class="c10" points="201,761 232,690 325,788 207,699"/>
<polyline class="c6" points="490,860 185,923 131,922 283,924 480,889"/>
<polyline class="c9" points="399,972 518,1004"/>
<polyline class="c4" points="363,923 104,776 103,821 179,790 368,1048"/>
<polyline class="c1" points="360,835 352,922 417,828 421,789 447,820 450,840 371,828"/>
<polyline class="c6" points="522,866 513,887"/>
<polyline class="c7" points="212,813 267,869 441,889 404,824 418,833"/>
<polyline class="c2" points="462,752 362,698 448,721 481,807 474,747"/>
<polyline class="c8" points="289,942 120,913 163,929"/>
<polyline class="c10" points="168,699 220,705 197,737 258,722"/>
<polyline class="c3" points="258,996 182,1036 375,1076 347,1077 446,1032"/>
<polyline class="c5" points="326,937 369,1021 303,1057"/>
<polyline class="c9" points="495,967 495,967"/>
<polyline class="c6" points="178,929 86,911 504,894 512,932 217,942 102,898"/>
<polyline class="c9" points="493,966 244,854 200,721 499,986"/>
<polyline class="c10" points="409,842 213,710 272,758"/>
<polyline class="c3" points="198,1032 183,1025 155,1022"/>
<polyline class="c5" points="346,1058 363,1057 154,1004 182,806 272,1068 279,1053 376,1011 260,983"/>
<polyline class="c2" points="435,739 443,722 465,731"/>
<polyline class="c7" points="162,793 218,817 211,810 385,844"/>
<polyline class="c8" points="102,907 102,907"/>
<polyline class="c4" points="397,861 124,838 343,846 205,810"/>
<polyline class="c1" points="378,809 420,870 406,845 281,698"/>
<polyline class="c9" points="274,840 253,846 500,980 482,966 267,811 503,975"/>
<polyline class="c3" points="338,1016 245,1020 319,959 341,1009 316,982"/>
<polyline class="c6" points="541,916 502,866 513,916"/>
<polyline class="c4" points="114,834 155,831 212,846 341,825"/>
<polyline class="c5" points="270,994 160,1021 463,889 186,999 309,1086"/>
<polyline class="c1" points="412,885 365,775 280,810 278,692"/>
<polyline class="c8" points="215,731 227,911 126,892 118,907"/>
<polyline class="c7" points="392,1031 419,919"/>
<polyline class="c2" points="430,696 408,680"/>
<polyline class="c10" points="197,755 300,762 149,734 292,816 282,760"/>
<polyline class="c8" points="206,906 297,824 240,924"/>
<polyline class="c2" points="397,722 359,695 454,793 454,749 403,701"/>
<polyline class="c6" points="520,868 533,900 400,885 94,928 485,883"/>
<polyline class="c1" points="424,864 318,729 376,785 338,761 387,793 348,746"/>
<polyline class="c3" points="406,903 200,1028 241,1001"/>
<polyline class="c4" points="110,806 99,816 210,795 113,808 101,838"/>
<polyline class="c10" points="181,700 297,839 308,828 216,737 246,726 206,734 214,696"/>
<polyline class="c5" points="236,999 408,934 203,803"/>
<polyline class="c7" points="168,1028 331,935 460,881"/>
<polyline class="c1" points="429,853 338,740 446,821 385,923"/>
<polyline class="c3" points="181,1010 190,1033"/>
<polyline class="c9" points="361,900 277,836 247,859 249,862"/>
<polyline class="c5" points="270,1073 223,1009 363,1033 91,971 376,1053 318,978 314,1053"/>
<polyline class="c7" points="537,875 191,1040 430,799 246,1027 372,941 467,981"/>
<polyline class="c8" points="173,962 173,962"/>
<polyline class="c4" points="216,785 177,829"/>
<polyline class="c10" points="304,828 238,722 253,736 154,717"/>
<polyline class="c6" points="507,919 212,936 310,915 492,906 504,862 494,876 469,876"/>
<polyline class="c2" points="419,722 414,684 513,791"/>
<polyline class="c10" points="265,747 204,706 212,872 152,742 217,707 221,740 149,715 189,747"/>
<polyline class="c6" points="293,809 153,930 512,912 508,912 220,943 226,949 299,836"/>
<polyline class="c1" points="408,789 400,889"/>
<polyline class="c9" points="256,836 408,977"/>
<polyline class="c5" points="331,1039 338,1036"/>
<polyline class="c4" points="99,795 456,856 210,787 340,833"/>
<polyline class="c7" points="377,871 411,832 363,1018 437,903"/>
<polyline class="c2" points="434,716 352,670 344,680 447,751 479,776 460,739 440,779 509,761"/>
<polyline class="c8" points="293,933 123,924 248,767"/>
<polyline class="c2" points="339,670 395,681 489,747 368,670 355,666"/>
<polyline class="c4" points="153,844 333,746 111,824 362,841"/>
<polyline class="c6" points="525,935 313,908 206,896 293,813 148,903 263,906 298,812"/>
<polyline class="c8" points="119,879 83,920 167,908 203,925"/>
<polyline class="c7" points="229,800 539,881 300,979"/>
<polyline class="c1" points="448,837 319,700 404,789"/>
<polyline class="c3" points="395,1021 485,858"/>
<polyline class="c9" points="281,821 438,964 271,823"/>
<polyline class="c5" points="305,989 391,1013 337,1049 337,944 357,1086 362,1023 323,921"/>
<polyline class="c10" points="255,713 255,718"/>
<polyline class="c9" points="265,809 443,980 491,975 416,973 398,969 259,877 474,978"/>
<polyline class="c5" points="143,1008 419,1021 378,1067 327,972 124,982"/>
<polyline class="c4" points="141,838 91,780 96,834 197,800 196,792"/>
<polyline class="c10" points="181,712 271,748 180,696"/>
<polyline class="c3" points="229,1016 360,1004 313,1083 252,1021"/>
<polyline class="c6" points="513,925 224,900 285,905 216,766"/>
<polyline class="c2" points="492,758 220,800 455,739"/>
<polyline class="c8" points="295,936 172,940 110,923"/>
<polyline class="c7" points="388,817 353,813"/>
<polyline class="c1" points="401,777 298,709 368,775 359,770"/>
<polyline class="c3" points="378,941 170,1033 203,993 302,992"/>
<polyline class="c5" points="337,998 309,1058 209,803 348,1039 395,1063"/>
<polyline class="c9" points="476,964 271,853 272,815 479,982 409,956 429,974 426,986 263,881"/>
<polyline class="c7" points="176,809 234,1027 229,811 288,1006 366,758"/>
<polyline class="c6" points="518,861 487,853 279,938 309,836 198,943"/>
<polyline class="c1" points="284,682 329,731 317,703"/>
<polyline class="c10" points="206,709 278,767 220,757 151,746"/>
<polyline class="c8" points="207,889 115,887 135,929"/>
<polyline class="c4" points="220,841 412,930 90,768"/>
<polyline class="c3" points="371,971 365,1001 295,965 461,908 348,1012"/>
<polyline class="c2" points="441,759 430,888 442,707 353,677"/>
<polyline class="c8" points="75,912 110,880"/>
<polyline class="c4" points="97,771 149,815 121,833"/>
<polyline class="c5" points="550,879 296,981 365,1063 207,1040 279,1044 242,811"/>
<polyline class="c10" points="296,765 175,759 209,742 182,706 208,751 210,700"/>
<polyline class="c1" points="424,816 432,803 366,846 350,832 370,754 346,815 383,793"/>
<polyline class="c6" points="297,895 495,913 527,937 282,921 132,951 526,895"/>
<polyline class="c9" points="407,949 407,949"/>
<polyline class="c7" points="255,662 381,1019 390,1060 336,1072 384,872"/>
<polyline class="c1" points="381,861 384,851 275,677 331,952 379,781 385,752"/>
<polyline class="c3" points="418,940 192,1006 349,917 387,987 260,995"/>
<polyline class="c8" points="160,890 74,906 115,939 305,884"/>
<polyline class="c5" points="403,869 377,967 435,1049 542,890"/>
<polyline class="c10" points="229,707 180,737 214,742 135,887"/>
<polyline class="c2" points="425,707 364,666"/>
<polyline class="c4" points="209,830 105,824 130,828 418,873"/>
<polyline class="c9" points="385,904 252,872 462,964 249,851"/>
<polyline class="c6" points="258,898 272,910"/>
<polyline class="c5" points="437,939 330,876 297,1076 400,1045 237,815 283,1003"/>
<polyline class="c8" points="234,923 107,893 273,930 94,898"/>
<polyline class="c4" points="137,826 350,838 357,843 164,813"/>
<polyline class="c6" points="261,917 260,906 294,945 207,957"/>
<polyline class="c10" points="237,729 276,744 163,732 164,707 306,786 325,775"/>
<polyline class="c9" points="427,965 427,965"/>
<polyline class="c1" points="373,775 309,690"/>
<polyline class="c7" points="392,1038 112,801 358,963 375,862 250,652 300,713"/>
<polyline class="c2" points="435,870 472,732 399,701"/>
<polyline class="c3" points="420,906 400,919 159,992 267,1077"/>
<polyline class="c3" points="557,872 333,1054 150,1016 321,970 308,985"/>
<polyline class="c1" points="417,785 317,721 324,939 414,807"/>
<polyline class="c6" points="205,733 204,733 190,927 511,899 484,877 179,737"/>
<polyline class="c10" points="150,737 257,727 277,760"/>
<polyline class="c4" points="108,787 188,824 129,804 257,987 221,844"/>
<polyline class="c2" points="426,693 495,756 420,732"/>
<polyline class="c5" points="315,1048 448,894 387,1011"/>
<polyline class="c8" points="143,882 192,903 120,898 231,897"/>
<polyline class="c7" points="257,654 253,653 210,840 348,939"/>
<polyline class="c9" points="263,811 404,953 396,977"/>
<polyline class="c6" points="518,935 194,887 195,912 484,872 131,926"/>
<polyline class="c8" points="142,911 298,887"/>
<polyline class="c7" points="424,842 318,1050 270,998 195,847"/>
<polyline class="c5" points="200,1005 413,1025 352,1053 264,1050"/>
<polyline class="c1" points="367,738 320,715 424,861 457,860"/>
<polyline class="c3" points="129,986 399,1036 354,918 204,1002 324,994 334,910"/>
<polyline class="c2" points="370,712 391,670 495,766 494,820 479,818 318,945"/>
<polyline class="c4" points="331,841 368,826 130,824 235,824"/>
<polyline class="c9" points="255,825 254,857 404,966"/>
<polyline class="c10" points="172,763 208,869"/>
<polyline class="c3" points="404,928 376,953 213,991 388,1015 301,1014"/>
<polyline class="c5" points="344,980 213,1017 340,1062"/>
<polyline class="c8" points="203,912 313,914 228,922 204,727 252,897 204,909"/>
<polyline class="c7" points="346,1003 421,846 201,999 455,913 296,1007 329,1085"/>
<polyline class="c10" points="179,875 173,694 163,746 220,732 155,705"/>
<polyline class="c1" points="407,854 553,881 365,743 258,653 362,752 389,802"/>
<polyline class="c2" points="472,739 450,904 424,737"/>
<polyline class="c6" points="527,879 224,927"/>
<polyline class="c9" points="471,985 343,861 259,817"/>
<polyline class="c4" points="145,795 145,795"/>
<polyline class="c8" points="115,900 159,894 205,728 183,933 268,908"/>
<polyline class="c5" points="442,910 328,1081 84,965 311,992 309,1011 242,997 437,1015 410,1034"/>
<polyline class="c6" points="106,880 529,925 519,924 522,900"/>
<polyline class="c10" points="265,724 167,695 229,699 203,693"/>
<polyline class="c1" points="384,831 376,833 375,756 402,783"/>
<polyline class="c3" points="365,1048 246,1023 487,903 188,1039 400,1056 352,954 376,989"/>
<polyline class="c9" points="282,847 474,984"/>
<polyline class="c7" points="226,997 265,988"/>
<polyline class="c2" points="499,820 466,771"/>
<polyline class="c4" points="395,828 337,930"/>
<polyline class="c4" points="369,928 164,804 369,840 139,794"/>
<polyline class="c8" points="229,907 186,902 151,908"/>
<polyline class="c7" points="446,1025 425,911 323,944"/>
<polyline class="c10" points="188,705 196,699 196,744 149,741 299,834 178,731 279,735"/>
<polyline class="c5" points="346,877 191,995 164,1023 418,1055 377,1017 252,1007"/>
<polyline class="c2" points="291,965 430,704 427,712 448,761 461,723 473,762"/>
<polyline class="c6" points="517,917 165,942"/>
<polyline class="c3" points="338,985 135,1004 227,996 361,1050"/>
<polyline class="c1" points="355,736 340,1083 540,877"/>
<polyline class="c9" points="268,820 500,1001"/>
<polyline class="c10" points="162,716 198,750"/>
<polyline class="c7" points="181,810 336,747 342,915 303,1073 340,1043 307,723 426,1044 236,1015 268,1007"/>
<polyline class="c9" points="488,987 414,926 520,1000"/>
<polyline class="c1" points="451,822 389,903 409,870 378,769 378,864"/>
<polyline class="c6" points="507,851 209,900 309,882 237,907 497,863"/>
<polyline class="c8" points="240,914 186,889 192,893"/>
<polyline class="c2" points="417,749 376,713 403,717 293,680"/>
<polyline class="c3" points="385,931 335,717 325,917 321,949"/>
<polyline class="c5" points="286,1044 343,874 254,1060 358,1039"/>
<polyline class="c4" points="163,844 163,844"/>
<polyline class="c7" points="450,879 383,869 144,828 229,828 123,996 426,808"/>
<polyline class="c5" points="402,861 385,992 428,1014 427,1053"/>
<polyline class="c3" points="377,945 362,940 410,1048"/>
<polyline class="c8" points="195,947 169,892 161,913 170,917 198,923 278,899"/>
<polyline class="c1" points="394,812 401,794 398,772 323,747 309,724 451,875"/>
<polyline class="c4" points="157,816 151,815 88,778 250,792"/>
<polyline class="c6" points="513,867 148,942"/>
<polyline class="c9" points="294,873 479,970 394,968 516,1001"/>
<polyline class="c2" points="399,713 356,955 418,699 495,744"/>
<polyline class="c10" points="186,735 186,735"/>
<polyline class="c10" points="313,767 175,694 191,755 146,737 192,709 307,831"/>
<polyline class="c4" points="232,785 103,782 250,799 112,842"/>
<polyline class="c2" points="400,728 349,685 485,817 443,742 359,700 494,819 396,794"/>
<polyline class="c6" points="517,896 118,930 262,913 114,930"/>
<polyline class="c5" points="202,813 288,985 186,1034 351,824"/>
<polyline class="c3" points="392,1073 433,1039 190,1012"/>
<polyline class="c8" points="111,904 283,893 174,912"/>
<polyline class="c9" points="430,976 355,894 308,857 507,989"/>
<polyline class="c1" points="366,771 321,742"/>
<polyline class="c7" points="129,989 299,858 257,795"/>
<polyline class="c5" points="210,1014 360,1065 339,1072 388,872 145,993"/>
<polyline class="c3" points="363,1029 232,1023 316,1045 203,1036 351,1038 322,1067 192,1022 343,985 332,945 395,899"/>
<polyline class="c9" points="259,864 291,856 288,867 359,891 484,990 456,891 403,977"/>
<polyline class="c10" points="178,716 270,759"/>
<polyline class="c6" points="128,912 474,877 239,918 155,894 531,905 486,867 494,863"/>
<polyline class="c7" points="256,1052 425,806 174,794 207,836"/>
<polyline class="c4" points="162,835 334,818 365,830"/>
<polyline class="c1" points="262,666 345,721"/>
<polyline class="c4" points="188,814 353,1074 145,809"/>
<polyline class="c10" points="227,757 325,782 293,833 178,765 272,738 181,769"/>
<polyline class="c3" points="310,1040 365,993 108,980"/>
<polyline class="c9" points="264,836 343,864 371,902 274,855 254,843"/>
<polyline class="c8" points="242,930 154,934 258,891 92,887 160,900 137,922"/>
<polyline class="c1" points="314,719 427,821"/>
<polyline class="c2" points="434,698 441,724"/>
<polyline class="c6" points="224,916 214,947 307,896 199,909 490,887 495,885"/>
<polyline class="c7" points="390,1068 270,1004 250,1028"/>
<polyline class="c5" points="350,1011 386,1028 277,975 107,821"/>
<polyline class="c5" points="304,1001 306,1080 304,1068 395,1036 434,1026 277,1048 85,968"/>
<polyline class="c7" points="277,1018 281,991 382,1049 429,878 450,846 286,986"/>
<polyline class="c1" points="394,830 352,768 397,800 452,815"/>
<polyline class="c6" points="213,898 299,907 297,829"/>
<polyline class="c9" points="471,982 256,865 427,963 343,881 244,864 489,989 281,878 439,982"/>
<polyline class="c4" points="114,807 166,838 115,816 85,816"/>
<polyline class="c2" points="449,735 449,735"/>
<polyline class="c8" points="167,958 208,896 198,939"/>
<polyline class="c3" points="175,1012 299,1058 138,995 384,915"/>
<polyline class="c3" points="410,1040 209,1020 228,1036 136,1002"/>
<polyline class="c5" points="326,988 261,1071 322,1074 343,1031 340,1050 222,1036"/>
<polyline class="c9" points="497,994 418,927 322,864 267,847 335,866 469,973"/>
<polyline class="c2" points="502,775 343,679 418,707 447,708 416,705 413,922"/>
<polyline class="c4" points="384,837 98,784 223,833 133,783 184,787 105,812"/>
<polyline class="c7" points="382,1065 382,1065"/>
<polyline class="c6" points="215,927 265,925 311,802 149,900"/>
<polyline class="c1" points="449,832 455,883 353,770 427,845 399,874"/>
<polyline class="c8" points="93,885 93,885"/>
<polyline class="c10" points="249,748 249,748"/>
<polyline class="c5" points="215,1006 254,1064 431,904 320,1076 282,973 155,1017 311,1049 252,998 348,822"/>
<polyline class="c4" points="200,840 183,821 237,802 132,820 93,828 96,779"/>
<polyline class="c1" points="362,761 307,693"/>
<polyline class="c9" points="254,826 391,761 483,971 272,858 278,868"/>
<polyline class="c2" points="480,736 355,671 394,707 360,685"/>
<polyline class="c6" points="282,900 198,760 227,933 493,854"/>
<polyline class="c3" points="222,1014 436,929 408,880 422,932 184,993"/>
<polyline class="c8" points="312,808 258,941"/>
<polyline class="c7" points="407,1064 312,975"/>
<polyline class="c10" points="258,870 258,870"/>
<polyline class="c1" points="370,748 418,866 275,672 391,798 171,839 377,840"/>
<polyline class="c4" points="225,787 415,842 178,1007"/>
<polyline class="c6" points="537,906 242,904 497,905 300,918 78,900"/>
<polyline class="c2" points="489,805 486,752 390,690 490,768 462,744 516,784"/>
<polyline class="c10" points="188,760 316,785"/>
<polyline class="c7" points="373,770 478,863 214,1041 461,837 414,826"/>
<polyline class="c9" points="486,968 346,927"/>
<polyline class="c5" points="243,792 216,1033 320,1081"/>
<polyline class="c3" points="347,991 360,990 416,1013"/>
<polyline class="c8" points="205,953 191,725 296,942 123,932 216,930"/>
<polyline class="c8" points="170,894 302,891 215,890 153,913"/>
<polyline class="c7" points="396,936 303,720 231,800 352,947 288,1014"/>
<polyline class="c6" points="127,911 490,910 524,880 315,885 112,942 198,906"/>
<polyline class="c2" points="468,749 469,747 429,736 433,745"/>
<polyline class="c1" points="276,661 337,721 336,713 324,736 404,832"/>
<polyline class="c10" points="184,870 295,776 226,754 259,718 282,745"/>
<polyline class="c9" points="404,973 397,970"/>
<polyline class="c5" points="263,1010 264,1055 130,782 417,1028 220,806"/>
<polyline class="c3" points="364,944 556,873"/>
<polyline class="c4" points="167,805 253,791"/>
<polyline class="c1" points="174,829 298,679"/>
<polyline class="c7" points="365,1052 340,934 330,738 449,882 301,694"/>
<polyline class="c8" points="101,929 132,881 236,921 219,910 123,885 149,882 291,915 137,906 259,923"/>
<polyline class="c10" points="318,772 266,751"/>
<polyline class="c2" points="447,711 369,706 465,739 458,733 449,730"/>
<polyline class="c3" points="329,1022 360,972 506,902 249,1001"/>
<polyline class="c5" points="390,1019 383,1034 277,1076 279,1007 202,831 325,1017 413,1019 130,994"/>
<polyline class="c4" points="120,796 225,825"/>
<polyline class="c9" points="412,962 412,962"/>
<polyline class="c6" points="264,950 167,954"/>
<polyline class="c6" points="129,937 273,915 233,900 90,905 493,898 526,874"/>
<polyline class="c2" points="493,808 378,694 506,758 392,717 391,712 407,892 498,771 407,688"/>
<polyline class="c7" points="443,884 184,842 335,932"/>
<polyline class="c9" points="406,981 386,939 280,803 314,868"/>
<polyline class="c4" points="138,802 111,832 355,840 177,804"/>
<polyline class="c1" points="418,860 375,809 407,850 343,729"/>
<polyline class="c3" points="292,1085 195,1025 407,926"/>
<polyline class="c8" points="214,727 189,896 198,901"/>
<polyline class="c5" points="305,1046 260,1077 426,899"/>
<polyline class="c10" points="255,725 284,750"/>
<polyline class="c5" points="350,984 438,911 165,1025 210,815 258,1013"/>
<polyline class="c6" points="532,916 301,927 506,872 501,887 523,910 298,914"/>
<polyline class="c2" points="423,701 517,778 453,732"/>
<polyline class="c7" points="333,824 276,882 413,846 357,837"/>
<polyline class="c10" points="201,751 194,744 320,790 248,732 204,878"/>
<polyline class="c9" points="417,963 520,996 394,948"/>
<polyline class="c1" points="420,799 418,798 307,708 390,827"/>
<polyline class="c4" points="320,957 151,825 441,815 212,844 165,822"/>
<polyline class="c3" points="321,1082 301,1054 384,1080 299,994"/>
<polyline class="c8" points="143,923 143,923"/>
<polyline class="c5" points="352,984 368,1086 283,984 377,1021 404,1039 173,822"/>
<polyline class="c10" points="160,942 250,708 291,822 159,748"/>
<polyline class="c7" points="447,849 432,827 342,1088"/>
<polyline class="c1" points="397,773 265,657 460,864"/>
<polyline class="c9" points="294,821 509,1004 387,971 482,981 288,870 262,852"/>
<polyline class="c8" points="148,915 206,961"/>
<polyline class="c3" points="340,995 239,989 558,875 340,943"/>
<polyline class="c2" points="476,778 377,827"/>
<polyline class="c4" points="464,860 100,773 137,830 383,988 392,846 400,827 197,804"/>
<polyline class="c6" points="473,886 525,906 271,943"/>
<polyline class="c10" points="309,777 153,707 153,730 200,748 337,786"/>
<polyline class="c1" points="424,878 313,714 454,861 328,862"/>
<polyline class="c7" points="430,1010 414,937 435,876"/>
<polyline class="c9" points="269,879 363,905"/>
<polyline class="c5" points="251,1053 339,1030 236,806 254,1077 198,1036"/>
<polyline class="c2" points="506,809 414,714 430,724 503,787 492,751 412,687"/>
<polyline class="c3" points="479,854 120,998 334,943 244,1013 442,934 385,1017 346,1087 365,996"/>
<polyline class="c8" points="152,946 126,927 205,928 258,933 232,901"/>
<polyline class="c6" points="524,885 534,912"/>
<polyline class="c5" points="143,1012 186,1008 288,1045 166,829 195,1013 247,1064 396,1043"/>
<polyline class="c10" points="194,765 182,868 288,755 296,816 223,872"/>
<polyline class="c7" points="198,815 174,996 263,857"/>
<polyline class="c4" points="82,811 110,831 414,838 144,823"/>
<polyline class="c3" points="379,992 330,909 285,1082 150,997 232,1005"/>
<polyline class="c9" points="511,994 425,956 426,938 463,971 280,674"/>
<polyline class="c2" points="515,803 513,797 410,694 435,754 494,782"/>
<polyline class="c1" points="354,747 379,761"/>
<polyline class="c6" points="194,730 518,874 273,926"/>
<polyline class="c8" points="170,937 170,937"/>
<polyline class="c5" points="299,1086 313,962 320,1057 254,1069"/>
<polyline class="c10" points="157,724 181,688 213,747 295,840 189,754 153,753 203,869"/>
<polyline class="c8" points="310,814 215,913 227,937 156,941 200,917 126,887 129,944 214,911 124,936"/>
<polyline class="c6" points="511,848 205,938 501,847 317,894"/>
<polyline class="c2" points="503,770 471,765 393,720 361,679"/>
<polyline class="c7" points="181,1003 359,775"/>
<polyline class="c9" points="481,975 432,984 370,924 272,837"/>
<polyline class="c3" points="534,888 365,1045 96,976"/>
<polyline class="c4" points="328,1077 328,1077"/>
<polyline class="c1" points="434,802 384,843"/>
<polyline class="c8" points="98,899 182,941 221,895 113,881"/>
<polyline class="c4" points="154,789 353,766"/>
<polyline class="c3" points="353,1034 293,1083 351,926"/>
<polyline class="c2" points="469,773 408,741 363,671 456,765 371,684 424,837"/>
<polyline class="c1" points="400,808 268,673 282,683 396,798 355,833 285,693"/>
<polyline class="c9" points="396,963 474,966 408,968"/>
<polyline class="c7" points="359,1020 361,984"/>
<polyline class="c10" points="206,875 280,771 180,741 280,745"/>
<polyline class="c5" points="345,1062 256,1051 264,981 408,835 399,856 148,996 344,1000 287,1049 421,1033"/>
<polyline class="c6" points="310,917 310,917"/>
<polyline class="c6" points="502,881 249,889 261,953"/>
<polyline class="c10" points="280,753 227,695 203,741"/>
<polyline class="c2" points="410,702 474,750 497,819 343,665 427,718"/>
<polyline class="c1" points="305,709 427,850 425,832 413,865 388,885 302,684 363,783 405,808 455,835"/>
<polyline class="c4" points="90,814 126,842"/>
<polyline class="c9" points="452,981 452,981"/>
<polyline class="c8" points="252,941 264,912 174,928 127,923"/>
<polyline class="c7" points="119,802 247,990 116,821 420,880"/>
<polyline class="c3" points="231,1030 223,994 334,1087"/>
<polyline class="c5" points="329,1076 196,1007 316,1069 331,963 320,937 316,964"/>
<polyline class="c6" points="247,894 421,876 287,895 275,919"/>
<polyline class="c1" points="377,746 535,878 326,742"/>
<polyline class="c4" points="228,821 434,809 159,843"/>
<polyline class="c3" points="324,1042 412,1063 364,1076"/>
<polyline class="c5" points="410,1030 420,1048 382,1056 272,997 438,874 444,849"/>
<polyline class="c9" points="264,867 325,957"/>
<polyline class="c10" points="214,763 90,883 197,689 220,876 210,865 167,717 156,737"/>
<polyline class="c8" points="285,910 107,914 190,950"/>
<polyline class="c7" points="440,817 284,1064 379,923 343,1009"/>
<polyline class="c2" points="411,712 469,737 383,694 407,707 384,697"/>
<polyline class="c8" points="172,952 311,832 270,939 81,908"/>
<polyline class="c7" points="420,913 358,927 397,951 313,1090"/>
<polyline class="c2" points="350,688 401,695 509,804 435,722"/>
<polyline class="c5" points="341,1010 300,982 218,827 350,1067 333,921 333,1008 437,1028 362,1013"/>
<polyline class="c4" points="287,671 226,789 96,837 136,831 363,929 139,805"/>
<polyline class="c6" points="517,848 105,891 487,849"/>
<polyline class="c1" points="134,799 383,766"/>
<polyline class="c9" points="434,974 302,874 419,986 258,855"/>
<polyline class="c3" points="344,1002 439,1036 376,984"/>
<polyline class="c10" points="224,690 192,705"/>
<polyline class="c2" points="463,765 463,765"/>
<polyline class="c4" points="116,796 189,800 194,836 90,825 150,830"/>
<polyline class="c3" points="348,931 239,1062 280,998 217,1028 271,1057 318,1036 339,937 255,1004 262,993"/>
<polyline class="c5" points="243,1015 424,1020 328,971 337,1056 175,1002 404,1016"/>
<polyline class="c6" points="239,910 239,910"/>
<polyline class="c9" points="366,893 267,841 491,995 352,881 499,976 332,869 269,859"/>
<polyline class="c1" points="394,784 443,831 419,886 329,712 315,715"/>
<polyline class="c10" points="216,732 251,727"/>
<polyline class="c7" points="347,932 339,1077"/>
<polyline class="c8" points="114,914 311,890"/>
<polyline class="c8" points="291,895 166,949 243,942 120,939"/>
<polyline class="c1" points="406,863 418,802 346,731 552,879 401,780 368,764"/>
<polyline class="c7" points="403,838 367,838 378,1029 227,1023"/>
<polyline class="c4" points="136,838 368,821 91,779 151,835"/>
<polyline class="c6" points="200,897 498,895"/>
<polyline class="c10" points="230,689 198,761 242,702 164,741 157,704"/>
<polyline class="c9" points="325,909 271,880 457,984"/>
<polyline class="c3" points="430,922 312,1073 464,898 225,1017 455,899"/>
<polyline class="c5" points="353,1006 365,1086 311,965 425,1041"/>
<polyline class="c2" points="452,791 396,690 421,718"/>
<polyline class="c4" points="150,818 173,810 243,803 134,834 120,809"/>
<polyline class="c2" points="401,708 380,670"/>
<polyline class="c10" points="292,756 163,718 225,725 197,745"/>
<polyline class="c1" points="260,660 271,679 290,704"/>
<polyline class="c7" points="348,752 453,917 296,996"/>
<polyline class="c3" points="334,978 278,1003 216,1035 315,1007 363,975"/>
<polyline class="c5" points="403,1034 425,1036 219,1002 322,980 327,1058 392,900 268,1042 427,925 369,1026"/>
<polyline class="c8" points="271,936 271,936"/>
<polyline class="c6" points="494,893 162,956 499,854 183,726 305,904 280,909"/>
<polyline class="c9" points="468,978 341,884"/>
<polyline class="c2" points="429,710 406,699 386,718"/>
<polyline class="c8" points="188,916 167,949 129,946 80,912 198,889"/>
<polyline class="c5" points="248,1012 379,937"/>
<polyline class="c3" points="398,928 352,1046 413,1010 396,931 375,1016"/>
<polyline class="c1" points="311,730 375,822"/>
<polyline class="c10" points="307,756 176,869 231,697 309,756"/>
<polyline class="c9" points="349,890 275,817 441,978 452,975 402,951 469,969 460,966"/>
<polyline class="c4" points="128,802 181,789 409,902 340,972 358,832"/>
<polyline class="c7" points="242,1058 379,946 358,994 226,993"/>
<polyline class="c6" points="189,754 182,910 236,939"/>
<polyline class="c10" points="223,740 320,783 269,751 164,701 120,896 288,741 96,882"/>
<polyline class="c3" points="372,1077 104,979 212,1004 352,972 268,1062 335,975"/>
<polyline class="c6" points="197,931 114,891"/>
<polyline class="c9" points="182,749 245,853 295,862 466,967"/>
<polyline class="c4" points="133,789 159,839 170,800"/>
<polyline class="c7" points="322,1012 238,992 183,849 312,1008"/>
<polyline class="c8" points="174,888 230,933 214,950 118,895 209,917"/>
<polyline class="c1" points="264,656 415,832 377,845 306,714"/>
<polyline class="c5" points="346,1084 338,1053 349,1008 280,1065 386,856"/>
<polyline class="c5" points="423,908 204,1012 399,1038 447,929 242,1026"/>
<polyline class="c7" points="382,867 458,895 300,987 158,1009 183,838"/>
<polyline class="c10" points="260,746 277,733"/>
<polyline class="c2" points="384,677 345,673 438,713 486,757 397,685 460,752 452,760 384,687 484,768"/>
<polyline class="c3" points="456,916 322,990 340,1069 243,1071 290,999 251,807"/>
<polyline class="c6" points="268,932 463,875"/>
<polyline class="c8" points="177,941 145,935 243,893 223,904"/>
<polyline class="c4" points="342,837 344,836 93,796 468,895 213,797"/>
<polyline class="c9" points="237,853 237,853"/>
<polyline class="c1" points="444,807 444,807"/>
<polyline class="c2" points="367,705 372,666 373,691 404,737 506,787 232,823 374,682 410,697"/>
<polyline class="c6" points="104,918 295,907 307,822 187,886"/>
<polyline class="c10" points="246,709 213,766 176,711 184,689 292,835"/>
<polyline class="c4" points="396,912 327,833 154,822 328,813"/>
<polyline class="c1" points="385,862 345,957 436,842"/>
<polyline class="c7" points="394,1047 446,927 160,818"/>
<polyline class="c8" points="138,884 126,905 97,882 191,958 250,934"/>
<polyline class="c3" points="398,1017 379,1074"/>
<polyline class="c5" points="288,1057 113,979"/>
<polyline class="c9" points="414,975 410,971 400,963 451,984"/>
<polyline class="c9" points="432,961 299,866 269,826 408,964"/>
<polyline class="c1" points="433,858 452,831 296,696 452,864"/>
<polyline class="c4" points="95,799 91,772 388,920 372,854 143,799"/>
<polyline class="c8" points="205,730 314,812 245,910 170,885"/>
<polyline class="c10" points="259,732 259,732"/>
<polyline class="c7" points="266,1020 446,819 308,867 460,884 281,989"/>
<polyline class="c2" points="410,716 455,725 393,885 479,768"/>
<polyline class="c5" points="115,988 412,1046 128,789 281,1070 319,990 231,1026 99,975 252,808"/>
<polyline class="c6" points="527,921 304,893 257,896 267,896"/>
<polyline class="c3" points="265,1067 265,1067"/>
<polyline class="c8" points="101,925 166,885 138,937 218,957"/>
<polyline class="c6" points="204,948 276,935 488,907 264,908 267,930 255,919 271,895 303,923"/>
<polyline class="c9" points="325,858 325,858"/>
<polyline class="c7" points="426,903 388,1048 297,1014 538,887 407,1020"/>
<polyline class="c10" points="208,685 317,778 310,762 78,889"/>
<polyline class="c5" points="367,987 251,1071"/>
<polyline class="c1" points="418,821 344,822 412,778 395,873 362,735 353,727"/>
<polyline class="c2" points="517,794 438,752 403,689"/>
<polyline class="c3" points="404,933 288,1083 348,1062"/>
<polyline class="c4" points="452,920 206,830 198,825 139,848"/>
<polyline class="c8" points="210,914 149,894"/>
<polyline class="c3" points="372,990 305,1085 331,1050 360,979 193,1003 420,923"/>
<polyline class="c7" points="306,1093 322,816 329,1009 204,1023 411,912 225,1030 264,986"/>
<polyline class="c4" points="179,818 417,904 207,824 125,834 160,806"/>
<polyline class="c10" points="164,737 270,732 234,730"/>
<polyline class="c6" points="205,941 473,866 211,958 75,894 161,905 510,854"/>
<polyline class="c1" points="434,936 372,782 414,880"/>
<polyline class="c2" points="404,732 393,769"/>
<polyline class="c5" points="120,993 177,846 328,910 343,1033 405,1069"/>
<polyline class="c9" points="435,987 435,987"/>
<polyline class="c9" points="239,848 484,962 417,965"/>
<polyline class="c6" points="518,892 532,892 200,899 511,859 515,918"/>
<polyline class="c1" points="384,771 391,870 265,659 438,884 431,793"/>
<polyline class="c8" points="99,885 146,907 185,731 272,902"/>
<polyline class="c5" points="172,1024 410,1057 390,1071 388,1079 193,830 359,960"/>
<polyline class="c7" points="220,1019 386,775"/>
<polyline class="c3" points="441,1012 347,969 324,926 345,1044"/>
<polyline class="c4" points="144,798 403,907 85,818 243,816 173,845"/>
<polyline class="c10" points="161,734 190,876 332,783"/>
<polyline class="c2" points="500,809 445,756 507,817"/>
<polyline class="c4" points="141,804 152,800 143,835 374,865"/>
<polyline class="c9" points="453,902 453,902"/>
<polyline class="c10" points="172,747 225,865 236,715 165,753"/>
<polyline class="c1" points="453,828 406,852 356,905"/>
<polyline class="c7" points="332,992 537,888 451,920 428,870"/>
<polyline class="c6" points="497,918 146,920 520,892 488,861 501,916"/>
<polyline class="c2" points="459,758 414,734 522,795 508,764 462,735 367,697 499,752 498,812 482,734"/>
<polyline class="c5" points="322,1007 273,1053 359,997 421,1053 234,808 319,1074"/>
<polyline class="c8" points="148,884 168,932"/>
<polyline class="c3" points="172,1008 238,1008"/>
<polyline class="c2" points="447,719 206,1006 315,697 477,733 480,758 508,792"/>
<polyline class="c1" points="334,755 306,969 465,873 447,861 425,814 350,732 289,691"/>
<polyline class="c9" points="303,862 244,847 476,958"/>
<polyline class="c5" points="212,819 376,975 259,1072 298,1048 333,960 384,1071"/>
<polyline class="c7" points="101,830 317,731 384,927 173,834 393,780"/>
<polyline class="c8" points="148,890 222,892 84,916 158,930 220,947 305,837"/>
<polyline class="c4" points="358,959 358,959"/>
<polyline class="c3" points="343,922 318,973 396,1070 341,1060"/>
<polyline class="c6" points="261,899 261,899"/>
<polyline class="c10" points="211,740 211,740"/>
<polyline class="c4" points="106,790 236,818 180,816 359,822 115,783"/>
<polyline class="c1" points="293,700 282,676 409,794 392,789"/>
<polyline class="c3" points="222,1025 300,968 294,1010 332,916 425,933"/>
<polyline class="c2" points="425,696 494,803 430,751 457,798"/>
<polyline class="c9" points="257,861 416,955 251,831"/>
<polyline class="c7" points="299,1066 190,820 260,1023 352,1003"/>
<polyline class="c10" points="266,732 198,685 218,865 168,727 198,695 267,742"/>
<polyline class="c6" points="293,888 291,920 301,909 491,850 481,890"/>
<polyline class="c5" points="199,1044 267,1004"/>
<polyline class="c8" points="301,825 307,824"/>
<polyline class="c5" points="367,1029 319,985 423,1028 326,1069"/>
<polyline class="c8" points="187,960 193,943 108,938 138,918"/>
<polyline class="c1" points="360,785 279,691 391,862 392,760"/>
<polyline class="c9" points="302,856 443,837 301,867 455,982 428,980 368,896"/>
<polyline class="c4" points="159,795 144,843 136,814 417,937"/>
<polyline class="c3" points="354,978 151,1001 286,972 200,1042"/>
<polyline class="c10" points="211,756 203,758 299,770 183,878 266,740 72,893"/>
<polyline class="c2" points="412,726 419,688 489,765 470,762"/>
<polyline class="c7" points="307,1066 370,1046 346,743 373,794"/>
<polyline class="c9" points="454,963 408,916"/>
<polyline class="c3" points="213,1022 301,1044 431,930 440,1031"/>
<polyline class="c10" points="174,740 220,760 147,726 238,699 286,761 172,729"/>
<polyline class="c7" points="330,707 355,1018 357,1074 132,788 329,979"/>
<polyline class="c2" points="391,706 395,673 450,789 419,750 467,756"/>
<polyline class="c4" points="132,848 163,796 122,791 180,851"/>
<polyline class="c5" points="326,1023 274,1063 336,968 352,1077 369,1081 168,1017 331,1072"/>
<polyline class="c1" points="214,811 442,829 419,793"/>
<polyline class="c6" points="112,884 129,896"/>
<polyline class="c8" points="249,942 292,830"/>
<polyline class="c9" points="510,981 246,842 279,858 428,898"/>
<polyline class="c1" points="360,756 426,793 422,889 413,814"/>
<polyline class="c6" points="535,928 100,889 225,897 495,881"/>
<polyline class="c10" points="207,761 314,760 231,712 172,716 287,748 292,760"/>
<polyline class="c7" points="387,765 345,945 206,1027 363,829 289,667"/>
<polyline class="c4" points="215,805 234,797 354,825 337,822 106,836 88,808 224,796 164,826"/>
<polyline class="c3" points="301,1007 225,1002 353,1057 387,929"/>
<polyline class="c5" points="231,816 316,1076 436,1024 219,990"/>
<polyline class="c8" points="285,889 285,889"/>
<polyline class="c4" points="110,814 116,837 161,809"/>
<polyline class="c10" points="276,738 234,722 341,789 205,740"/>
<polyline class="c6" points="528,909 65,905 506,856 471,885 481,867"/>
<polyline class="c2" points="394,716 366,689 484,759"/>
<polyline class="c3" points="324,997 390,1024"/>
<polyline class="c8" points="82,898 213,933 97,905 240,895 132,942 89,920 201,916"/>
<polyline class="c1" points="299,706 332,727 454,878 354,741 261,671"/>
<polyline class="c5" points="380,1082 348,964 281,1010 294,1078 81,805 397,922"/>
<polyline class="c9" points="512,989 330,949"/>
<polyline class="c7" points="344,913 313,1089 183,831"/>
<polyline class="c10" points="170,734 299,759 313,821 213,691 303,782 193,712 169,747"/>
<polyline class="c1" points="395,889 395,889"/>
<polyline class="c2" points="229,1008 382,670 512,779 393,909"/>
<polyline class="c7" points="162,1009 180,835 336,993 416,930 444,1015 385,943 276,849 321,965"/>
<polyline class="c4" points="181,845 179,802 242,796"/>
<polyline class="c8" points="281,932 177,949 157,958 194,951 146,944"/>
<polyline class="c9" points="462,986 424,962 440,905"/>
<polyline class="c3" points="123,986 282,1015 142,1001"/>
<polyline class="c5" points="354,1082 199,1003 364,1073"/>
<polyline class="c6" points="78,906 235,930 140,914"/>
<polyline class="c7" points="492,902 274,993 449,828 379,1043 343,870 368,917"/>
<polyline class="c4" points="120,847 85,825 114,825"/>
<polyline class="c1" points="441,861 358,779 382,912 397,871 322,721 327,721 347,739 323,710 296,700"/>
<polyline class="c5" points="289,1040 160,1004 266,1054 280,1047 388,914 423,977"/>
<polyline class="c9" points="287,877 260,842 369,900"/>
<polyline class="c3" points="290,981 193,999"/>
<polyline class="c2" points="499,783 405,723 504,751 370,672"/>
<polyline class="c6" points="178,890 289,924"/>
<polyline class="c8" points="192,922 173,908"/>
<polyline class="c10" points="210,734 341,786 266,729"/>
<polyline class="c8" points="226,944 161,953 216,904 160,939"/>
<polyline class="c7" points="330,1034 354,1048 249,1068 412,802 403,865 368,963 354,777"/>
<polyline class="c3" points="161,997 273,987 245,1071 458,911"/>
<polyline class="c6" points="293,807 154,889 196,726 473,882 250,914 524,922"/>
<polyline class="c5" points="290,968 404,1029 357,889 135,1008 259,1047"/>
<polyline class="c2" points="458,714 416,691 447,741"/>
<polyline class="c10" points="255,731 163,729"/>
<polyline class="c1" points="368,791 408,888 340,719"/>
<polyline class="c4" points="118,816 335,906 88,829"/>
<polyline class="c9" points="269,847 497,972 396,949"/>
<polyline class="c3" points="437,926 368,975 374,992 272,1018"/>
<polyline class="c1" points="388,811 294,867 362,766 436,823"/>
<polyline class="c2" points="477,746 436,898 407,684 361,673 397,671 465,807 494,778"/>
<polyline class="c7" points="374,765 367,779 131,817 531,881"/>
<polyline class="c4" points="147,790 204,838 326,825 357,850"/>
<polyline class="c6" points="309,807 289,939 201,955 508,877 526,928"/>
<polyline class="c10" points="229,870 182,759 339,781 171,700"/>
<polyline class="c9" points="250,858 455,973 332,858 276,866"/>
<polyline class="c5" points="410,1067 338,917 309,977"/>
<polyline class="c8" points="183,952 183,952"/>
<polyline class="c9" points="332,866 405,949 421,940 346,887 445,967"/>
<polyline class="c1" points="288,686 268,660 412,792 453,872"/>
<polyline class="c2" points="432,758 382,673 382,701 416,717 453,713"/>
<polyline class="c4" points="106,844 339,921 97,818 87,787"/>
<polyline class="c8" points="149,911 154,938 184,916 143,890 231,904 250,937"/>
<polyline class="c6" points="505,845 309,903 532,922 509,894"/>
<polyline class="c5" points="110,987 370,1041 545,875 232,1007"/>
<polyline class="c3" points="369,950 336,1069"/>
<polyline class="c7" points="423,1009 415,892 106,795 385,799"/>
<polyline class="c10" points="169,755 194,751"/>
<polyline class="d5" points="997,666 891,737 1084,720 895,1039 1025,654 1092,717 975,678 869,742 1059,693 923,721 951,713"/>
<polyline class="d3" points="1129,974 1089,1020 1060,1031 1052,1054"/>
<polyline class="d6" points="1095,827 959,906 1013,909 1014,861"/>
<polyline class="d2" points="1193,763 1119,741 1141,751 960,767 842,778 797,791"/>
<polyline class="d4" points="1210,870 1185,958 1106,901 1226,909 1196,881 1135,893 1200,820"/>
<polyline class="d1" points="930,950 929,904 840,872 954,997 979,1015 845,868 920,915 872,896"/>
<polyline class="d3" points="1109,1063 1081,1032 1031,1058 1059,979 1018,964 1106,1031 1162,982 1023,1004 1118,973"/>
<polyline class="d5" points="1087,685 941,677 932,735 943,678 880,993 926,757 956,656 1000,694 883,754"/>
<polyline class="d6" points="1169,702 956,921 1123,806 1113,827 1156,705"/>
<polyline class="d2" points="1224,781 853,943 988,757 1192,783 861,994 1185,741"/>
<polyline class="d1" points="872,866 919,921 854,890 951,974 887,900 892,856 871,811"/>
<polyline class="d4" points="1195,814 989,817 1213,919 1184,844"/>
<polyline class="d2" points="796,876 789,822 1167,734 1171,760 844,976 961,762 1125,757 812,957 844,777 1123,746 807,981"/>
<polyline class="d4" points="1195,937 922,807 1173,855 1202,929 977,814"/>
<polyline class="d5" points="923,711 1053,671 1073,712 950,728 1053,717 890,728 1026,668 963,726 1002,678"/>
<polyline class="d3" points="1062,998 1103,940 1071,977 1029,1019 1096,977 1121,938 1120,970"/>
<polyline class="d1" points="854,823 831,847 914,952 888,804"/>
<polyline class="d6" points="1102,772 1055,836 987,862 1172,713"/>
<polyline class="d3" points="1055,1021 1091,982 1121,928 1005,969"/>
<polyline class="d1" points="886,877 909,907 918,1060 888,867 912,838 881,855 961,978 828,848 912,929 917,889"/>
<polyline class="d4" points="929,785 947,791 950,832 1222,875 958,844 1199,899 1195,827"/>
<polyline class="d5" points="967,676 891,711 902,678 905,712 889,690 873,757 857,725"/>
<polyline class="d2" points="1159,763 772,892 858,991 821,975 773,852 767,851"/>
<polyline class="d6" points="1091,856 1136,692 948,920 965,908 1070,824 1094,834"/>
<polyline class="d6" points="1060,877 968,934 969,921 1051,898"/>
<polyline class="d3" points="1134,943 1023,1051 1038,973 1050,1055 1063,939 1005,974 1093,1054 1040,955"/>
<polyline class="d1" points="893,904 892,867 856,839 827,830 924,997 853,835 896,863 974,1047"/>
<polyline class="d5" points="956,704 1036,674 1053,745 922,754 1056,733 1013,740 891,986 1033,708"/>
<polyline class="d4" points="1204,864 1197,865 933,796 989,804 923,802 1196,804 1237,863 1149,886"/>
<polyline class="d2" points="790,900 1235,795 839,947 770,893"/>
<polyline class="d2" points="798,773 786,819 803,979 973,763 834,785 797,937 1132,744 760,862"/>
<polyline class="d4" points="1156,884 1148,873 1123,872 1167,894"/>
<polyline class="d6" points="1063,782 1105,834 1022,870 988,871 957,893"/>
<polyline class="d3" points="1037,991 1091,1011 995,950 1087,947 1000,959 1009,1055 1040,1075 1099,1045 1041,1004"/>
<polyline class="d1" points="902,956 968,998 865,875 931,1050 935,934 834,868 831,875 909,845"/>
<polyline class="d5" points="958,691 891,766 942,705 853,734 1097,710 905,759"/>
<polyline class="d5" points="953,659 903,683 1017,677 862,743 879,722 1081,692 1007,717 946,698 998,685 993,672 1066,663"/>
<polyline class="d2" points="773,843 1170,769 821,797 841,1010 785,888 1144,746 810,807 814,970 798,972"/>
<polyline class="d6" points="1016,884 1037,903 1118,815 1139,686"/>
<polyline class="d3" points="1093,1047 1021,1077"/>
<polyline class="d4" points="1208,818 1181,874 1190,819 932,791 974,818"/>
<polyline class="d1" points="972,1016 911,917 967,964 927,932 930,885 976,1029 909,841 920,977 930,922"/>
<polyline class="d2" points="1197,766 1153,752 1178,776 851,960 1182,736"/>
<polyline class="d5" points="890,1014 885,994 889,996 924,697 901,1028 1038,671 1004,659 963,681"/>
<polyline class="d1" points="928,929 902,937 856,858 958,1014 978,986 945,1082 951,1011 841,883"/>
<polyline class="d4" points="1112,909 1157,845 1203,892 1211,861 1174,841 1181,866 977,788"/>
<polyline class="d6" points="1028,854 1094,812 1092,839 1096,802 991,897"/>
<polyline class="d3" points="1027,1006 1069,995 1105,990 1090,997 1025,943 1160,1015 1145,1025"/>
<polyline class="d4" points="1141,844 1211,895 964,808 1222,867 1155,868 1135,870"/>
<polyline class="d3" points="1127,996 1081,981 1034,970 1051,1035 1028,1071 1165,993 1122,931 1021,981"/>
<polyline class="d2" points="1179,755 960,748 1206,784 1245,807 952,754 1185,774"/>
<polyline class="d1" points="840,888 971,1023 958,1057 942,941 855,880 857,925 918,894 955,969 911,880 897,844"/>
<polyline class="d6" points="1043,799 1040,813 972,916 977,878 1101,840"/>
<polyline class="d5" points="963,716 903,1038 972,720 884,715 988,720"/>
<polyline class="d5" points="1062,681 983,652 905,690 1017,723 961,655 945,673 1092,728 950,674 1017,662"/>
<polyline class="d4" points="1195,875 1211,919 1143,899 960,835 928,825 1136,882 1188,945 1153,873 1225,887"/>
<polyline class="d1" points="1153,802 895,847 930,961 832,824 845,839 862,884 821,873 876,836"/>
<polyline class="d3" points="1062,1056 1023,1068 1084,959"/>
<polyline class="d2" points="782,810 776,931 812,781 806,985 788,935 1248,807 785,805"/>
<polyline class="d6" points="1100,803 965,893 1061,905 1040,897"/>
<polyline class="d1" points="926,956 865,910 944,1018 864,863 929,1014 911,877 845,845 920,903 849,827 902,930 894,885 932,968"/>
<polyline class="d3" points="1087,984 1027,948 1051,953 1004,1043 1027,1026 1080,1045"/>
<polyline class="d4" points="947,823 1167,867 943,792 951,828 1142,830"/>
<polyline class="d2" points="857,964 779,840 831,771 811,794 802,783 810,908 1217,793"/>
<polyline class="d5" points="993,717 895,992 883,1039 1041,668 988,657 1015,701"/>
<polyline class="d6" points="1032,882 1174,705 1107,798 1046,862"/>
<polyline class="d5" points="885,722 931,747 1045,717 915,681 1045,678 1023,674 1087,735"/>
<polyline class="d2" points="783,969 824,987 965,748 1223,779 970,748 840,956 1215,768"/>
<polyline class="d6" points="1104,799 1052,788 1069,877 1148,708 1039,903 1100,826 1111,817 1062,834 996,911"/>
<polyline class="d4" points="1156,919 904,1048 1210,942 1240,869 1126,852 1122,881 1091,891 1213,904"/>
<polyline class="d1" points="892,909 898,957 862,825 981,1011 940,1024"/>
<polyline class="d3" points="1053,1032 1068,1017 1002,964 1136,1036"/>
<polyline class="d2" points="800,916 783,897 804,991 850,999"/>
<polyline class="d4" points="890,1025 989,826 1210,892 1151,901 1160,841"/>
<polyline class="d6" points="980,900 1066,835 960,939"/>
<polyline class="d1" points="831,896 888,914 897,855 841,913 920,873 908,852 975,976 855,898 820,854 926,880 947,1026 886,896"/>
<polyline class="d5" points="1071,718 1054,730 919,744 1091,709 1026,697 975,659 1040,694 1063,729 877,1004 1032,680 966,714"/>
<polyline class="d3" points="1011,945 1020,984 1049,921 1041,936 1047,941"/>
<polyline class="d4" points="1125,843 931,829 1216,951 1155,878 1146,862 1229,900 1179,821"/>
<polyline class="d5" points="937,712 991,695 886,709 993,692"/>
<polyline class="d1" points="928,870 917,988 958,1032 900,944 872,908 862,904 869,839 861,915"/>
<polyline class="d6" points="1102,809 1054,826 985,865 1011,849 1051,896 1023,900 1031,815 1053,763 998,873"/>
<polyline class="d3" points="1142,978 1023,1056 1055,1037 1123,960 1048,996"/>
<polyline class="d2" points="1249,814 1123,731 825,989 1204,775 839,790 1150,765 794,813"/>
<polyline class="d4" points="947,786 1132,864 1208,840 987,834 956,802 1208,862 1000,813 1139,893"/>
<polyline class="d3" points="1120,1036 1050,959 1048,1007 1031,1051 1045,1042 1039,922"/>
<polyline class="d5" points="1082,699 1041,747 905,766 877,746 890,1055 911,756 884,759 997,722 930,667 904,746"/>
<polyline class="d6" points="1031,832 977,867 1051,882"/>
<polyline class="d1" points="841,860 974,1065 947,968 869,857 933,1003 938,981 849,894 937,1016 983,992"/>
<polyline class="d2" points="1160,778 791,973 783,930 795,803"/>
<polyline class="d1" points="939,999 859,876 893,813 970,1041 930,1008"/>
<polyline class="d6" points="1090,780 1066,887 986,897 1069,851 1104,781 1037,839"/>
<polyline class="d4" points="1166,855 997,805 1228,904 1229,862 1190,851 1136,844 985,846 1181,949 1188,911"/>
<polyline class="d2" points="774,837 1130,758 1248,804 867,979 980,748 818,985 787,833 1143,730 797,967"/>
<polyline class="d3" points="1103,923 1152,1000 1116,985"/>
<polyline class="d5" points="994,666 917,708 916,696 944,661 1069,730 1095,689 889,743 1037,702"/>
<polyline class="d2" points="1190,776 778,833 768,841 830,990 1164,762 975,761"/>
<polyline class="d4" points="920,804 1150,856 1109,861 1156,819 1181,886 1195,837 1139,858 1223,944 1182,891"/>
<polyline class="d5" points="1008,685 1053,661 1078,676 925,688 889,1002"/>
<polyline class="d1" points="829,898 924,975 883,829 885,800 843,887"/>
<polyline class="d3" points="1124,1026 1031,1013 1086,1068 1037,933 1011,988 1058,1083 1148,948 1058,931"/>
<polyline class="d6" points="1070,790 1172,691 1082,790 1091,850 982,932 1045,885 1079,791"/>
<polyline class="d6" points="940,917 1041,872 966,897 1066,873 997,869 1035,789 967,929 972,866"/>
<polyline class="d3" points="1003,939 1112,957 1019,1031 1052,939"/>
<polyline class="d2" points="1120,751 791,931 1138,761 774,877 817,769"/>
<polyline class="d1" points="885,855 852,844 852,856 923,900 944,961 966,1062 820,833 892,940"/>
<polyline class="d5" points="853,722 934,701 967,685 971,721 999,717 903,729 896,1003"/>
<polyline class="d4" points="1180,924 985,823 1147,878 1202,888 1220,929 1147,884 1183,866 980,802"/>
<polyline class="d3" points="1108,1052 1051,948 1115,995 1150,991 1154,1015 1037,1023 1022,975 1044,941 1140,944 1150,954 1105,1027 1058,915 1107,1035 1040,978"/>
<polyline class="d4" points="1225,941 944,813 1182,831"/>
<polyline class="d5" points="1083,709 984,675 943,713 896,771 879,1009 892,1044 883,1043 972,695 1065,671"/>
<polyline class="d2" points="1159,766 1155,748 797,850"/>
<polyline class="d1" points="899,935 898,898 873,871 912,980"/>
<polyline class="d6" points="1002,882 1041,850 1052,832 1063,859 1107,824 1025,898 1079,825"/>
<polyline class="d4" points="1008,813 883,996 1141,861 1164,813 974,834 1205,878 1214,847"/>
<polyline class="d1" points="884,894 983,1055 890,932 935,1067 928,891 906,893"/>
<polyline class="d5" points="956,674 1073,702 922,716 901,733"/>
<polyline class="d2" points="781,952 763,899 797,820 781,825 830,797 777,941 799,929 1126,769 950,753"/>
<polyline class="d6" points="1043,829 1086,825 1063,806 989,925 974,913 1153,705 1063,792 977,906 1062,801 1036,820"/>
<polyline class="d3" points="1055,1048 1044,972 1108,1001 1140,1015"/>
<polyline class="d4" points="1010,810 1193,832 1232,871 1218,856 1176,836 952,832"/>
<polyline class="d1" points="923,856 879,909 1152,797 855,907 881,884 967,1046"/>
<polyline class="d5" points="1010,719 948,708 974,650 960,695 926,728 1097,704 896,1054"/>
<polyline class="d6" points="1118,794 1113,842 944,905 1049,835 1073,810 1070,822 1085,830 1005,889 1059,814"/>
<polyline class="d2" points="815,990 799,809 851,979 956,760 792,982 790,946 785,892 1151,764"/>
<polyline class="d3" points="1031,934 1079,980 1103,1033 1146,985"/>
<polyline class="d4" points="959,814 953,817 1186,886 925,812 1218,954 949,810 1121,903 970,825"/>
<polyline class="d1" points="882,918 841,819 872,930 936,1042 866,910 954,959 865,926 916,930 974,1011"/>
<polyline class="d3" points="1108,1048 1011,981 1039,945 1018,945 1055,975 1013,1010"/>
<polyline class="d5" points="910,771 1063,659 939,723 895,998"/>
<polyline class="d6" points="970,898 1082,770 1116,785 1026,777 1046,847 974,863 1067,897 976,873 977,882 1046,807"/>
<polyline class="d2" points="781,934 815,963 808,977"/>
<polyline class="d6" points="1035,884 1023,877 1105,796 954,938 1036,853"/>
<polyline class="d4" points="1171,944 1193,889 998,810 1188,810 1196,863 1200,846 1178,934 1210,865 1202,841"/>
<polyline class="d1" points="947,964 820,830 959,1037 900,925 878,882 852,923 909,896"/>
<polyline class="d3" points="1092,920 1017,977 1067,1009 1137,982 1126,1045 1073,994 1122,953"/>
<polyline class="d2" points="839,973 1119,758 806,912 831,776 822,997 788,952 778,847 1172,748"/>
<polyline class="d5" points="999,672 935,721 1086,677 965,701"/>
<polyline class="d1" points="842,890 885,935 892,875 855,918 838,892 903,896 942,964"/>
<polyline class="d4" points="1172,878 974,850 927,796 1013,815 928,813 1188,842 1123,867 940,828 1148,904 935,824 1006,809 996,806 1159,845 937,816 1180,847"/>
<polyline class="d3" points="1054,983 1066,926 1061,989"/>
<polyline class="d2" points="797,950 1156,753 766,854 1194,747 1192,767"/>
<polyline class="d6" points="1032,856 994,921 1063,867 1007,893 1031,874"/>
<polyline class="d5" points="889,733 1096,679 970,653 918,685 1008,712"/>
<polyline class="d2" points="767,928 1210,756 988,768 808,887 952,749 783,833"/>
<polyline class="d3" points="1061,1043 1087,1058 1016,932 1103,1010 1106,1058 1118,957 1085,920 1131,946 1121,981 1063,1038"/>
<polyline class="d4" points="1165,869 1220,916 1000,789 1213,925 1109,865 938,814 1003,835"/>
<polyline class="d5" points="937,727 1013,718 966,705 1084,686 1036,661"/>
<polyline class="d6" points="1085,798 1022,838 1082,877 1059,829 961,932 998,880 1067,821"/>
<polyline class="d1" points="835,838 957,985 882,808 926,868 881,865"/>
<polyline class="d4" points="992,791 942,835 1201,806 887,1053 959,825 1213,882 1187,954 991,787 1204,944 1166,877 1130,883 1223,933"/>
<polyline class="d5" points="951,666 855,715 955,699 964,707 943,683 1036,714 978,667 991,712 932,728 1050,696"/>
<polyline class="d3" points="1135,1027 1053,927 1040,1047 1070,959 1124,924 1109,927 1130,1040 1046,1002"/>
<polyline class="d6" points="1135,707 1000,858 1077,887"/>
<polyline class="d2" points="1232,784 776,910 769,903 799,881 830,794"/>
<polyline class="d1" points="865,844 838,861"/>
<polyline class="d4" points="1153,881 953,839 1159,906 1153,913 998,796 1190,830"/>
<polyline class="d1" points="978,973 902,951 878,838 933,893"/>
<polyline class="d6" points="1083,887 1096,769 1038,772 1004,871 1027,877 1010,853"/>
<polyline class="d5" points="1041,730 877,1033 870,750 894,1043 1038,725"/>
<polyline class="d3" points="1046,1031 1070,1048 1139,1021 1010,968 1110,1033 1008,1046 1112,1020 1143,937 1028,926 1106,939 1030,991"/>
<polyline class="d2" points="785,963 840,965 807,903 758,882 800,942 771,882 777,872 1190,753"/>
<polyline class="d4" points="964,842 1189,936 929,810 983,787 1222,845 1146,849 1117,887 970,854 1211,939 1213,838"/>
<polyline class="d2" points="982,756 810,965 788,867 772,864 860,953 814,771 1142,765"/>
<polyline class="d6" points="1072,777 1071,842 963,899 968,885 1053,862"/>
<polyline class="d3" points="1090,992 1056,996 1050,934 1132,925 1022,953"/>
<polyline class="d1" points="953,975 855,820 823,853 895,914 965,974 904,887 837,815"/>
<polyline class="d5" points="919,670 946,668 992,656 1086,711 1081,682 1016,750"/>
<polyline class="d4" points="1172,837 1095,887 1182,951 1203,825 1137,880 1004,804"/>
<polyline class="d5" points="871,754 1014,732 886,1030 899,683 1070,686 1087,716 898,694 905,731"/>
<polyline class="d3" points="1117,954 1044,982 1073,1050 1026,952 1037,1080 1050,1017"/>
<polyline class="d1" points="906,967 881,804 921,966 936,980"/>
<polyline class="d6" points="1075,813 1078,794 1081,834 1135,697 1038,829 1032,780 1106,810 1081,783"/>
<polyline class="d2" points="773,954 800,864 805,954 1189,756 791,906 785,944 801,889 832,985"/>
<polyline class="d6" points="1025,851 1089,856 989,889 1049,827 1074,845 1079,777"/>
<polyline class="d1" points="882,903 944,996 933,934 858,892 903,878 901,859 987,998 875,938 876,810 867,831 834,836"/>
<polyline class="d2" points="779,861 774,943 812,813 1181,769 965,745 783,894 833,782 829,995 839,771 811,798 1148,755"/>
<polyline class="d3" points="1035,1072 1034,983 1132,1011 1061,954"/>
<polyline class="d4" points="1183,813 1183,813"/>
<polyline class="d5" points="969,683 913,722 999,730 992,727 1059,707 903,1032 946,730"/>
<polyline class="d1" points="913,921 900,930 929,984 921,959 975,969 873,917 895,892 937,1022 933,898 983,1038 985,1024"/>
<polyline class="d5" points="1071,749 904,1045 1002,700 883,1025 1088,680 1029,701 961,661 872,731"/>
<polyline class="d3" points="1004,949 1043,1080 1028,985 1082,1024 1071,1022"/>
<polyline class="d4" points="1003,824 1183,800 1169,925 1210,853 940,842 1123,858 957,837 1184,929 1190,826"/>
<polyline class="d2" points="800,923 837,999 821,769"/>
<polyline class="d6" points="972,871 1089,795 1068,829 987,907"/>
<polyline class="d1" points="909,953 845,904 907,830 930,938 915,982 954,1050 829,841 922,933"/>
<polyline class="d3" points="1121,1033 1142,996 1059,1004 1046,997 1037,1064 1030,979"/>
<polyline class="d6" points="1028,895 1064,767 1042,900 956,899 988,930 1027,845 1057,860 1144,707"/>
<polyline class="d5" points="1046,671 877,727 900,744 945,724"/>
<polyline class="d4" points="1204,914 1110,891 1195,948 1219,841 1161,866 1197,858 1155,857"/>
<polyline class="d2" points="1117,752 791,888 845,953 1211,774 1115,659 782,872 1168,754"/>
<polyline class="d5" points="1065,739 1052,711 883,737 963,678 951,683 992,707 899,1006 1040,713 944,686"/>
<polyline class="d4" points="1192,954 1230,877 1186,900"/>
<polyline class="d1" points="875,904 871,800 923,985 922,928 991,1012"/>
<polyline class="d6" points="1073,765 1136,691 1075,805 1064,883 1025,908 1031,908 992,908"/>
<polyline class="d3" points="1085,1037 1111,976 1011,1021 1108,1021 1070,1044 1091,957 1041,957 1036,1016 1060,970 1098,1021"/>
<polyline class="d2" points="836,996 766,907 865,975 835,769 770,887 844,951"/>
<polyline class="d4" points="1184,802 1169,933 1204,925 1203,907 977,841 1153,850 950,811 1117,903"/>
<polyline class="d6" points="1134,701 1050,790 1053,811 962,935 994,896 1112,794"/>
<polyline class="d5" points="1005,708 1084,728 1069,711 966,699 897,1017 895,757 1020,734 1050,725 886,764 960,673"/>
<polyline class="d3" points="1029,968 1101,1044 1102,975 1027,1078 1157,1010"/>
<polyline class="d1" points="848,852 850,922 866,813 845,826 963,1071 833,908 833,814 840,865"/>
<polyline class="d2" points="803,763 815,803 973,746"/>
<polyline class="d1" points="832,849 887,887 884,853 930,994 892,840 822,878 955,950 901,904"/>
<polyline class="d4" points="1225,916 1226,853 1219,900 963,799 979,822 993,798 958,852 987,806 946,841 1198,943"/>
<polyline class="d5" points="896,747 1023,657 925,678 1064,716"/>
<polyline class="d2" points="1217,786 783,883 777,865 957,766 825,980 1233,801"/>
<polyline class="d3" points="1049,1082 1120,946 1029,996 1016,986"/>
<polyline class="d6" points="1060,872 1078,850 1081,868 1030,861 1092,791 1082,858 1012,904 1178,709"/>
<polyline class="d5" points="998,724 970,693 1035,719 960,664 881,745 916,760 1067,693 966,664 873,717 1042,705"/>
<polyline class="d3" points="1126,964 1068,964 1046,1038 1078,997 1162,1007 1071,1061 1109,1066 1057,1074 1065,941"/>
<polyline class="d2" points="851,948 828,789 973,755 1181,751 1196,741 784,797"/>
<polyline class="d6" points="1014,873 1013,837 963,910"/>
<polyline class="d4" points="944,782 1099,873 1156,903 1224,902 1216,932 1182,857 937,810 1190,872"/>
<polyline class="d1" points="934,940 851,887 874,814 903,918"/>
<polyline class="d1" points="872,830 870,917 993,1017 929,877 889,928 954,1006 966,999 949,978 836,876 845,875 827,869 866,896"/>
<polyline class="d4" points="1207,870 1118,854 925,826"/>
<polyline class="d6" points="1001,876 994,872 1090,870 983,863 953,932 1060,840 1018,861 1074,856 1046,893"/>
<polyline class="d5" points="994,731 1018,681 989,693 1086,695 901,768 1008,655"/>
<polyline class="d2" points="791,786 979,759 1163,742"/>
<polyline class="d3" points="1011,1032 1125,985 1098,1005 1045,1067 1066,1035 1157,989 1019,938"/>
<polyline class="d6" points="1059,894 1095,775 1040,890 1094,821 957,908 1004,898"/>
<polyline class="d3" points="1078,957 1120,1043 1136,973 1015,954 1132,1017 1112,991"/>
<polyline class="d1" points="824,827 861,834 909,860 915,909 878,851 821,843 843,838 981,1076"/>
<polyline class="d5" points="1067,697 1016,705 952,720 947,659 1084,740 1011,714 1004,652 857,738"/>
<polyline class="d4" points="1176,831 946,844 980,799 1207,883 1173,924 1214,837"/>
<polyline class="d2" points="771,933 1201,765 787,971 797,865 1165,755 777,914"/>
<polyline class="d5" points="1032,652 1023,713 864,739 976,691 915,686 981,672 861,728 899,1049 1067,724 895,705 888,988 1046,710"/>
<polyline class="d2" points="760,885 760,871 800,898 947,761 1131,742 861,957 1212,779"/>
<polyline class="d4" points="993,820 1211,948 984,791 1172,826 1168,825"/>
<polyline class="d3" points="1065,1021 1108,931 1043,933 1063,1006 1112,969 1045,952 1039,928 1135,1032 1015,1016"/>
<polyline class="d1" points="857,869 972,996 876,820 931,963 914,987"/>
<polyline class="d6" points="1124,814 981,913"/>
<polyline class="d1" points="906,834 834,819 960,1075 944,1011 875,869 871,865 959,1053 962,953 833,828 910,911"/>
<polyline class="d2" points="800,777 785,849 1191,736 1188,764 770,820 771,943"/>
<polyline class="d3" points="1126,952 1026,998 1110,1003 1133,981 1017,965 1119,976"/>
<polyline class="d4" points="1201,883 1149,847 1163,839 1162,925 1109,874 1198,846"/>
<polyline class="d6" points="1082,811 1043,895 1091,833 1100,852 1002,909"/>
<polyline class="d5" points="929,672 876,703 1051,701 1052,687 864,719 1008,742 1025,658"/>
<polyline class="d5" points="909,732 900,688 1030,715 1050,677 1073,737 913,742 1021,718 1095,705 1030,741 902,704 911,704 900,1042"/>
<polyline class="d4" points="1232,886 1137,902 1129,840 966,840 1217,854 949,804 998,791"/>
<polyline class="d1" points="933,992 894,872 949,1044 867,852"/>
<polyline class="d6" points="1089,812 1074,879 1014,888 1043,812 1108,781 1045,840 972,886 938,918 1050,817"/>
<polyline class="d3" points="1158,983 1030,1034 1093,952 1049,1022 1034,1044 1017,1054"/>
<polyline class="d2" points="854,954 864,972"/>
<polyline class="d4" points="1238,872 962,794 1157,862 994,829 1184,943 1135,906 1223,880 979,832"/>
<polyline class="d3" points="1148,1009 1035,998 1103,1038 1085,970 1142,1012 1080,1067 1069,1004 1079,916"/>
<polyline class="d2" points="961,770 1186,756 806,784 845,1000 790,783 853,960 1221,795 1148,741"/>
<polyline class="d5" points="966,669 906,756 968,719 876,758 917,721 1031,666 919,727"/>
<polyline class="d6" points="1113,789 1064,854 1087,769"/>
<polyline class="d1" points="900,840 843,918 907,867 927,1015 981,1007 844,809"/>
<polyline class="d1" points="825,881 901,852 841,847 913,932 923,866"/>
<polyline class="d5" points="994,678 927,732 1062,714 1010,691 993,682 1013,679 931,722 962,687 1079,742"/>
<polyline class="d2" points="785,948 1197,780 816,778 1198,738 823,792 1135,772 1162,736"/>
<polyline class="d4" points="1143,818 1217,861 1130,906 1018,819 1184,884 1183,859 965,851 987,786"/>
<polyline class="d6" points="991,864 1059,779 1011,915 1013,877 1120,787"/>
<polyline class="d3" points="1159,998 1116,931 1072,930 1021,1029 1002,944 1138,1010"/>
<polyline class="d1" points="937,984 904,848 925,887 865,918 848,911 870,933"/>
<polyline class="d5" points="884,1012 979,680 1039,741 999,677 976,653 901,1023 888,1007 1048,748 1041,677 1070,732 1019,666 893,735 924,734 856,738 987,659"/>
<polyline class="d2" points="1173,740 1156,755 818,805"/>
<polyline class="d3" points="1142,1034 1073,947 1067,967 1077,1019 1069,915 1075,952 1139,1006"/>
<polyline class="d6" points="1086,840 1022,774 1046,801 1047,810 1015,901 962,905 1014,842"/>
<polyline class="d4" points="1197,903 1182,873"/>
<polyline class="d5" points="1037,682 1041,722 888,753 899,766 937,666 884,1048 965,660 949,711"/>
<polyline class="d4" points="1180,802 1162,916 940,841 1144,890 974,802 1153,839 1114,888 1204,920 1217,873 1212,911 952,784"/>
<polyline class="d3" points="1065,918 1018,932 1088,941 1057,1065 1146,974 1142,970 1104,1046 1028,1031 1052,972 997,947"/>
<polyline class="d6" points="1024,776 980,905 1005,905 1039,876 1020,893"/>
<polyline class="d2" points="1206,780 1159,740 773,879 792,797"/>
<polyline class="d1" points="853,911 914,865"/>
<polyline class="d2" points="1156,737 968,752 846,946 795,908 836,993 782,843 789,844 1138,770 784,814"/>
<polyline class="d6" points="1030,784 991,856 1084,871 1041,786 1032,876 1010,896 1038,867 1094,788 1023,875 1011,886 1023,864 1047,783"/>
<polyline class="d1" points="855,847 913,991 962,965 858,870 934,879 965,1008"/>
<polyline class="d5" points="1032,663 874,695 1055,706 899,736 991,701 891,708 891,702"/>
<polyline class="d3" points="1046,927 1165,980 1054,1077"/>
<polyline class="d4" points="919,814 1174,868 1158,885"/>
<polyline class="d4" points="952,789 1224,859 1192,899 1138,833 1131,886 1221,951"/>
<polyline class="d2" points="801,786 800,791 771,856 1168,740"/>
<polyline class="d3" points="1150,1006 1085,988 1028,965 1014,1010 1102,969 1135,967 1038,963 1070,954 1097,966"/>
<polyline class="d6" points="1018,910 1119,813 1052,859 989,894 1085,836 1013,892 950,908"/>
<polyline class="d5" points="979,716 1044,661 1002,697 1069,664 981,694"/>
<polyline class="d1" points="897,944 870,826 921,951 867,846 950,990 826,868 872,858 911,870 858,811"/>
<polyline class="d5" points="881,1017 1017,691 1017,688 1050,749 889,983 955,673"/>
<polyline class="d1" points="948,1022 917,847 901,866 887,819 879,926"/>
<polyline class="d6" points="1064,809 965,877 1172,707 970,928 1095,781 960,934 1085,820"/>
<polyline class="d3" points="1110,924 1100,1026 1121,998 1119,1056 997,952 1095,958 1067,931 1107,979 1093,1043 1041,992"/>
<polyline class="d4" points="1215,822 1207,902 1159,851 1209,855 928,830 1211,908 1102,882 1205,961"/>
<polyline class="d2" points="768,836 965,775 1195,757 825,790"/>
<polyline class="d4" points="1201,829 1152,885 1181,815 1178,906 982,815 1129,846 943,818 1228,933"/>
<polyline class="d6" points="996,897 993,921 1111,784 1067,807 1052,794 1050,806 1017,873 1033,772 1078,862 1038,828"/>
<polyline class="d5" points="897,722 918,731 921,674 897,1012 1029,709 1020,696"/>
<polyline class="d1" points="927,915 885,823 871,878 836,810 851,917 914,914"/>
<polyline class="d3" points="1085,963 1127,928 1159,969 1036,1085 1079,946 1083,1022 1120,962"/>
<polyline class="d2" points="1205,746 826,1005 782,850"/>
<polyline class="d3" points="1124,950 1156,970 1130,969 1129,1031 1073,937 1062,964 1097,968 1039,995 1082,925 1096,999 1029,1079"/>
<polyline class="d2" points="798,873 1250,821 767,869 955,773 1221,788 1199,742 786,808 1131,766 962,753 805,896"/>
<polyline class="d4" points="1100,904 1218,851 1217,830 1225,914 975,830 1181,840"/>
<polyline class="d6" points="1058,853 1030,846 994,889 1026,825"/>
<polyline class="d5" points="1045,737 928,712 1002,713 970,704 924,739"/>
<polyline class="d1" points="920,920 916,992 825,854 985,1031"/>
<polyline class="d3" points="1063,1027 1091,969 1051,1048 1063,1014 1090,933 1005,1051 1087,929"/>
<polyline class="d6" points="995,913 1062,792 1103,789 1068,868 1077,868 1081,775 1044,772"/>
<polyline class="d4" points="1160,825 938,803 1196,838 999,791 1208,827 1235,881 1017,804"/>
<polyline class="d2" points="1115,763 1161,756 1135,755 1137,738 836,775 976,750 765,877 765,888"/>
<polyline class="d5" points="910,747 904,747 863,724 1046,681 952,693 975,702 937,718 1024,739 1010,730"/>
<polyline class="d1" points="990,999 865,817"/>
<polyline class="d5" points="878,697 1023,691 865,726 1078,727 976,670 939,702 897,752"/>
<polyline class="d2" points="820,780 804,893 775,814 1195,771 791,938 794,912 796,799"/>
<polyline class="d3" points="1099,975 1062,933 1154,965 1087,1030 1012,939 1085,1054 1042,969 1104,934 1024,1074"/>
<polyline class="d4" points="1122,893 1155,910 1205,837 1137,838"/>
<polyline class="d1" points="975,992 862,867 945,1008 971,982 914,878 846,861 865,915 971,1073"/>
<polyline class="d6" points="1080,830 1046,793 1046,834 1056,800 1094,807"/>
<polyline class="d4" points="1184,876 1144,868 1141,820 1168,909 1179,897 1126,888"/>
<polyline class="d6" points="1057,879 1047,903 988,916 1055,898 1050,866 1039,862 955,925 1047,825"/>
<polyline class="d2" points="1234,790 803,822 810,992 1242,800 1122,735 835,975 773,950"/>
<polyline class="d3" points="1082,985 1008,1014 1154,983 1124,1010 1105,1017 1074,1024 1042,1057"/>
<polyline class="d5" points="1095,693 975,727 1041,689 1024,743 861,706 946,702 941,693"/>
<polyline class="d1" points="950,1080 885,870 901,836 941,972 939,1006"/>
<polyline class="d5" points="1002,735 985,659 1070,681 933,672 908,1033 902,702 1090,691 1051,659 875,1027 1023,687 931,695 924,672"/>
<polyline class="d1" points="898,919 890,825 837,896 909,886"/>
<polyline class="d6" points="987,917 1129,709 1137,687 969,886 1137,709"/>
<polyline class="d4" points="1130,870 1191,806 945,831 926,794 1150,908 1150,823 1208,887 1136,896"/>
<polyline class="d2" points="1143,738 801,816 861,979 761,835 793,962 870,974 776,919"/>
<polyline class="d3" points="1126,939 1101,943 1156,1021 1021,1061"/>
<polyline class="d3" points="1024,1069 1111,926 1042,1042 1126,983 1135,999 1039,1052 1074,974 1041,1021 1044,1048 1114,1024"/>
<polyline class="d2" points="1169,732 773,859 985,766 1204,741 805,942 1185,766"/>
<polyline class="d5" points="898,1026 926,680 876,721 1077,725 1075,687 945,734 1020,704"/>
<polyline class="d1" points="942,1057 849,819 869,914 929,1034 916,943"/>
<polyline class="d4" points="1132,839 1192,908 1232,911 1216,885 1199,934 1201,871 1211,927 1117,898 1232,855"/>
<polyline class="d6" points="1038,907 1052,878 1054,866"/>
<polyline class="d5" points="936,691 1042,744 1006,681 993,711 900,720 1009,751 1047,728 899,712 890,769 1038,695 910,677 1057,700 892,1052 888,711 875,1023"/>
<polyline class="d4" points="1169,913 1172,839 1108,899 1178,942 1207,850 967,817 996,838"/>
<polyline class="d3" points="1132,1005 1111,1059 1093,966 1015,1024 1056,1088 1074,929"/>
<polyline class="d2" points="979,752 798,913 776,878 785,859 1206,747 803,805"/>
<polyline class="d6" points="1075,769 1075,769"/>
<polyline class="d1" points="847,854 861,822 878,875 875,878 935,1046"/>
<polyline class="d2" points="787,951 841,982 944,755 1121,766 795,784 788,977 1204,755 842,990 1175,774"/>
<polyline class="d5" points="913,765 930,719 1023,729 987,728 898,774"/>
<polyline class="d3" points="1109,1026 1002,952 1135,981 1077,1006 1016,996 1064,1068 1117,989"/>
<polyline class="d1" points="865,891 853,862 954,1017 920,1003 947,1052 844,899"/>
<polyline class="d4" points="1195,934 1126,876 1156,833 941,823 1192,927 1142,889 954,842 1095,877"/>
<polyline class="d6" points="984,875 1079,815 966,882 1054,871 1006,767"/>
<polyline class="d6" points="1070,881 1067,799 1047,852 1114,805"/>
<polyline class="d1" points="901,831 849,879 872,863 876,824 861,850 968,958 906,908 879,800 968,1038"/>
<polyline class="d3" points="1060,1061 1093,972 1034,1027 1079,1012 1063,1078 1030,941 1021,1034 1057,1053 1018,949 1074,969 1036,938"/>
<polyline class="d2" points="830,985 1147,776 769,830 786,832 857,968 809,766"/>
<polyline class="d4" points="1197,929 1217,883 1169,889 1130,900 964,822 1136,878"/>
<polyline class="d5" points="1044,701 1047,731 966,694 1033,693"/>
<polyline class="d4" points="1193,819 962,816 1132,857 1161,828 1150,898 1190,921 1183,933 1237,865"/>
<polyline class="d2" points="783,918 857,978 794,826 791,813 824,969 797,832 789,912 1176,734"/>
<polyline class="d1" points="938,1038 922,972 876,892 907,855 827,820"/>
<polyline class="d3" points="1036,980 1061,974 1101,1020 1037,928 1029,1062 1141,1021 1040,1006 1024,1001 1072,1010"/>
<polyline class="d5" points="987,723 980,706 863,713 985,682 1070,674 919,754 981,722"/>
<polyline class="d6" points="1084,850 978,894 1028,866"/>
<polyline class="d3" points="1120,993 1101,1052 1157,1005 1019,1013 1055,916 1114,1042"/>
<polyline class="d2" points="793,891 850,990 846,987 834,1013 791,918 807,961"/>
<polyline class="d5" points="1070,737 869,710 990,671 1036,736 919,758 1090,700 1059,665 932,742 892,747 1051,665 1030,724"/>
<polyline class="d6" points="1074,861 1096,834 1076,772 949,935"/>
<polyline class="d4" points="1234,908 1164,880 1160,912 1220,911 939,789 1171,927"/>
<polyline class="d1" points="888,835 920,954 910,868 841,858 893,933 860,889 909,972"/>
<polyline class="d1" points="829,862 924,1039 846,907 867,873 849,814 941,945 953,1074 965,1023"/>
<polyline class="d2" points="953,761 806,761 846,993 1235,801 790,896 840,971 853,984"/>
<polyline class="d3" points="1094,1036 1037,1025 1044,923 1093,1009 1112,981 1099,959"/>
<polyline class="d5" points="1075,735 881,700 1033,670 1021,707 883,735 916,703"/>
<polyline class="d4" points="958,788 1108,900 898,997 1169,940 1200,951 1094,898 1171,872"/>
<polyline class="d6" points="1084,883 1103,819 1064,777 1000,868 983,882 1109,844"/>
<polyline class="d1" points="932,959 959,971 907,871 822,828 925,1072"/>
<polyline class="d6" points="994,904 1082,864 1069,794 1110,820 945,916 1044,886 1137,681 1060,883 982,889 1048,833"/>
<polyline class="d3" points="1149,1021 1048,936 1094,1031 1106,1003 1132,953 1075,1051 1058,923 1067,960 1080,1040 1020,1043"/>
<polyline class="d2" points="1185,779 1206,768 1149,747 970,768 789,793 1129,735 869,970"/>
<polyline class="d4" points="1226,929 1229,856 1010,823 1175,814 1207,962"/>
<polyline class="d5" points="924,743 1079,733 943,669"/>
<polyline class="d4" points="937,835 1178,821 1199,887 1216,943 1165,862 1111,865 1168,920"/>
<polyline class="d6" points="992,924 1069,775 1022,882 1064,776 1114,830 1017,852"/>
<polyline class="d3" points="1016,1072 1135,982 1011,1050 1064,991 1125,999 1136,949"/>
<polyline class="d1" points="960,1078 883,834 985,1005 872,882 902,823 862,896"/>
<polyline class="d5" points="934,741 910,737 903,697 990,684 1013,744 1037,735 863,733 1060,677"/>
<polyline class="d2" points="980,743 867,960 799,862 846,963 1142,757 1149,742 805,758"/>
<polyline class="d1" points="863,881 880,846 918,949 920,980 956,1004 914,894 867,834 904,964 976,1021 931,945 864,901 929,956 872,817"/>
<polyline class="d6" points="1080,848 1085,866 993,876 1106,848"/>
<polyline class="d4" points="1109,872 1210,935 1165,809 1146,915 1133,829 985,830"/>
<polyline class="d3" points="1056,1025 1062,996 1091,1007 1018,1040 1072,1007 1063,1050 1049,1026"/>
<polyline class="d5" points="879,717 1000,657 929,666 977,657 1076,716 1078,707"/>
<polyline class="d2" points="766,847 1150,735 779,945 797,973"/>
<polyline class="d4" points="1227,864 1168,882 977,810 1174,905 1186,939 1202,966 968,850 965,791 1219,937 1223,871 1162,904 967,828 919,793"/>
<polyline class="d3" points="1026,938 1011,946 1053,963 1117,1037 1049,1064 1060,1020 1071,967 1101,1062"/>
<polyline class="d1" points="927,999 940,990"/>
<polyline class="d5" points="912,694 877,710 1015,656 895,722 1069,700 938,705"/>
<polyline class="d2" points="858,976 783,964 842,993 867,986 762,874 791,959 765,881"/>
<polyline class="d6" points="1094,845 1041,790 1056,806 1073,826"/>
<polyline class="d6" points="1026,830 1068,848 1051,890 1063,847 1021,904 1053,767"/>
<polyline class="d4" points="1198,809 1162,836 1101,877 1099,898 1112,896 1207,932 1195,851"/>
<polyline class="d5" points="1057,699 1011,698 897,1034 1058,748 929,704 883,698 903,738 921,765 933,744"/>
<polyline class="d3" points="1079,1035 1111,1051 1141,964 1109,1011 1159,992 1127,1014"/>
<polyline class="d2" points="769,862 806,772 955,768 1168,769 765,918"/>
<polyline class="d1" points="852,897 857,930 865,839 863,803 850,907 876,847 949,1008"/>
<polyline class="d2" points="947,745 970,759 833,1005 801,937 810,900 1135,729"/>
<polyline class="d4" points="1122,860 1157,893 1155,822 1230,919 1178,884 1202,953 1157,899 922,818 994,811"/>
<polyline class="d5" points="958,665 894,726 952,723 1079,714"/>
<polyline class="d1" points="848,832 926,907 982,1050 901,913 822,825 924,1010 953,1052 974,1068"/>
<polyline class="d6" points="940,926 1171,694 1027,889 1034,800 999,895 1097,832"/>
<polyline class="d3" points="1109,994 1154,1027 1153,973 1049,1012 1051,991 1048,1086 1068,1029"/>
<polyline class="d1" points="897,908 929,971 981,1070 920,941 917,851 888,845 824,835 928,923"/>
<polyline class="d3" points="1105,985 1100,978 1033,1006 1093,943 1062,923 1055,1062 1115,1017 1056,1011 1007,977 1113,937 1054,970 1133,961 1028,1048"/>
<polyline class="d5" points="1063,695 922,697 1073,721 885,1049"/>
<polyline class="d6" points="1049,784 981,891 1031,822 1034,827 1038,857 1065,824 1023,891 1065,901"/>
<polyline class="d2" points="778,929 970,741 805,915"/>
<polyline class="d4" points="983,829 919,797 987,841 938,795"/>
<polyline class="d1" points="873,886 932,883 882,821 943,1026 892,896 937,1078 871,853 909,884"/>
<polyline class="d6" points="1076,882 1006,863 1061,812 964,913 1080,819 1020,855 989,870"/>
<polyline class="d3" points="1100,932 1127,930 1032,1066 1111,965"/>
<polyline class="d4" points="1202,813 1144,916 1153,859 1018,813 1099,894 1172,862 1177,938 1169,837"/>
<polyline class="d5" points="889,688 889,699 1013,696 867,748 1078,698 1062,704"/>
<polyline class="d2" points="806,929 768,911 948,751 796,769 1159,747 1183,760 810,805"/>
<polyline class="d4" points="1118,893 1204,964 1222,889 1158,828 986,796 1124,842 1170,811"/>
<polyline class="d6" points="1086,877 1019,847 1106,830 1047,855 1067,787 1045,767 1074,833 978,887 1113,811"/>
<polyline class="d2" points="783,876 842,986 854,973 972,774 1198,783 1193,752 805,779"/>
<polyline class="d5" points="1013,725 980,677 902,779 919,747 969,659 870,722"/>
<polyline class="d1" points="970,1013 954,954 917,1007 905,903 962,1011 855,889"/>
<polyline class="d3" points="1035,984 1010,1037 1129,938 1039,1061 1015,1062"/>
<polyline class="d4" points="1168,904 1194,892 1128,859 1193,837 1191,868 1181,916 968,798"/>
<polyline class="d5" points="959,682 875,752 1068,744 874,728 1033,742 1038,716 854,733 973,664"/>
<polyline class="d1" points="825,876 936,996 838,872 950,987 883,863 855,850 944,976 975,986 880,823 827,888 958,958"/>
<polyline class="d3" points="1057,927 1149,957 1045,1050 1052,982"/>
<polyline class="d2" points="771,826 791,848 956,745 1120,763 801,840 788,803 791,830 797,897"/>
<polyline class="d6" points="1052,776 1044,878"/>
<polyline class="d3" points="1019,1020 1034,956 1117,1007 1027,933 1128,941 1094,928 1031,957"/>
<polyline class="d6" points="1049,871 1119,798 971,906 1004,848 1063,842 1169,698 1017,857 1057,794 1090,797 970,938 977,930"/>
<polyline class="d1" points="898,924 983,982 850,882 909,939 958,982 880,862 847,834 891,837 919,995"/>
<polyline class="d4" points="1168,828 955,824"/>
<polyline class="d5" points="934,709 894,753 912,740 960,712 1008,703 954,716 1035,729 915,763"/>
<polyline class="d2" points="814,747 1119,745 1131,751"/>
<polyline class="d4" points="1191,917 1144,908 1190,878 1114,855 1224,847 984,838 1208,953 928,783 1121,867 1206,829"/>
<polyline class="d5" points="938,697 873,713 889,994 982,726 895,746 937,682 879,750 1081,703 1100,696 1062,672 929,693 984,666 884,728"/>
<polyline class="d2" points="795,979 818,799 1127,740 820,779 853,995 767,866 805,882"/>
<polyline class="d1" points="844,905 876,913 908,961 916,958 869,889"/>
<polyline class="d3" points="1006,959 1124,967 1078,954 1059,957 1147,943"/>
<polyline class="d2" points="798,846 978,769 981,771 828,766 793,923 825,774"/>
<polyline class="d4" points="1190,855 1134,903 914,798 1189,816 1184,807 1154,821 1143,836"/>
<polyline class="d3" points="1025,1022 1028,1042 1023,968 1159,978"/>
<polyline class="d1" points="887,883 890,871 886,813 916,1070 843,851"/>
<polyline class="d6" points="1079,810 1068,763 976,911 1029,768 1005,854 1038,794 1022,888 1042,767"/>
<polyline class="d5" points="1089,714 1008,724 1013,672 876,1049 884,750 1042,654 1065,680 913,680 1001,729 898,717"/>
<polyline class="d3" points="1127,980 1051,1040 1070,1065 1063,1033 1010,961 1065,1043 1072,1002 1071,927"/>
<polyline class="d4" points="1129,837 947,796 1151,815 1183,907 930,833 1117,875 944,803 1182,901 975,797"/>
<polyline class="d6" points="1057,819 1038,806 988,903 1013,866 980,924 1084,784 954,916"/>
<polyline class="d5" points="1009,671 1034,684 1055,691 976,686 891,693 996,696 995,702 1062,747 1090,721 1006,686 884,1003"/>
<polyline class="d2" points="793,810 1126,752"/>
<polyline class="d1" points="891,890 957,1021 924,863"/>
<polyline class="d3" points="1040,1031 1104,994 1126,1003 1053,981 1092,1000 1025,975"/>
<polyline class="d1" points="946,952 829,892 891,810 878,895 887,908 975,1006 867,803 963,980 954,1038 828,814"/>
<polyline class="d5" points="930,688 1100,711 1086,691 870,737 949,690 1086,701 1092,698 1062,734"/>
<polyline class="d2" points="1242,805 843,943 1178,754 844,785 1189,783 1137,767"/>
<polyline class="d4" points="974,812 1127,890 1127,907 1174,906 1195,872 1221,925 946,806 988,835"/>
<polyline class="d6" points="1034,863 1163,705"/>
<polyline class="d5" points="1023,700 878,1012 1056,737 938,685 951,688 1038,738 913,710"/>
<polyline class="d1" points="899,892 860,860 858,840 951,980 862,931 992,1002"/>
<polyline class="d4" points="1158,899 1102,888 1178,850 983,803 1198,852 1150,832 1191,949 1147,868"/>
<polyline class="d2" points="959,740 770,919 805,924 777,947 785,959 1230,795 845,1006 773,938 1120,737"/>
<polyline class="d3" points="1016,998 1047,958 1038,1056 1015,973 1087,932"/>
<polyline class="d6" points="1025,769 1025,838 970,878 1096,772 1107,785"/>
<polyline class="d4" points="982,807 968,809 1212,909 954,799 1189,859 933,787 968,814 1213,940"/>
<polyline class="d3" points="1090,978 1085,994 1058,952 1090,1054 1006,951 1113,948 1087,955 1080,973 1011,1064 1067,1025"/>
<polyline class="d1" points="874,892 913,974 919,918 929,896 921,877 980,1003 895,839 897,818"/>
<polyline class="d6" points="987,881 1093,786 1073,769 1073,784 1020,903 997,916 1054,852"/>
<polyline class="d5" points="898,699 982,710 858,746"/>
<polyline class="d2" points="1144,772 1189,746 804,819 1180,732"/>
<polyline class="d2" points="790,952 833,1003 1172,777 1163,751 1143,763 1210,785"/>
<polyline class="d6" points="1069,893 1002,920 949,925 1123,794 1118,824 1100,795 1013,884 1039,881"/>
<polyline class="d1" points="933,908 967,985 885,838 988,1003 905,926 893,916 926,943 860,857 979,981"/>
<polyline class="d4" points="1217,868 1197,960 1102,872 982,850"/>
<polyline class="d5" points="873,709 973,671 916,728 1056,680"/>
<polyline class="d3" points="1035,955 1034,993 1026,1037 1041,950 1106,957 1102,953 1111,943 1127,1025 1088,1049"/>
<polyline class="d1" points="824,860 927,1070 920,944 951,1003 962,1008 986,1015 890,830 975,1032 837,909"/>
<polyline class="d4" points="970,794 1183,913 1164,931 1103,894 990,845 1229,891 969,835 1017,803"/>
<polyline class="d2" points="848,784 967,766 1137,745 832,979 1184,745 774,901 1139,740 778,853"/>
<polyline class="d5" points="1045,686 1064,686 869,700 1035,693 948,680"/>
<polyline class="d3" points="1126,1033 1140,954 1058,1001 1010,1026 1072,1074"/>
<polyline class="d6" points="1099,771 1055,840 955,915 1055,857 1001,905"/>
<polyline class="d4" points="883,1031 1229,948 1202,941 1087,896 989,813 1133,848 964,827 1127,898"/>
<polyline class="d1" points="900,881 976,1045 894,810 969,1030 960,1015 894,949 1146,799"/>
<polyline class="d6" points="1074,801 1019,780 1038,871 946,923 1054,890 1044,780 961,920"/>
<polyline class="d5" points="935,675 958,688 1028,688 1012,676 920,692 1004,666 1098,724 1011,709"/>
<polyline class="d3" points="1046,965 1036,1067 1041,1083 1065,948 1093,1059 1085,1000 1133,992 1099,926 1061,984 1007,1031"/>
<polyline class="d1" points="952,1047 875,922 908,833 961,986 935,1030"/>
<polyline class="d6" points="996,858 983,879 1127,710 1037,780 1033,886 951,930 973,910 1045,781 1041,819 1143,705"/>
<polyline class="d4" points="996,826 1178,863 1143,856 968,802 1171,938 1220,907 1114,873 953,798 1188,891"/>
<polyline class="d3" points="1158,994 1130,960"/>
<polyline class="d2" points="810,987 819,761 1201,754 802,908 801,773 802,799 783,819"/>
<polyline class="d5" points="1068,708 942,731 916,750 988,686 1051,739 1045,707 999,684"/>
<polyline class="d6" points="1019,842 1074,836 1108,847 1070,873 1061,817 1064,892 1003,913 1054,903"/>
<polyline class="d5" points="1020,743 1086,729 979,722 1085,677 969,652 926,747 1045,664 978,715 911,768"/>
<polyline class="d3" points="1077,1029 1081,943 1074,964 1136,935 1049,947 1108,971 1151,970"/>
<polyline class="d4" points="1193,937 1174,889 913,806 1214,895"/>
<polyline class="d1" points="900,870 859,835 891,928 935,951 921,862"/>
<polyline class="d2" points="783,940 963,775 1218,781 785,900 805,950 786,792 950,762"/>
<polyline class="d2" points="1205,752 819,794 950,769 818,787 1180,740 830,977 762,848 823,1008 1174,737 829,762"/>
<polyline class="d3" points="1120,1010 1046,1027 1023,1011 1086,938"/>
<polyline class="d1" points="912,854 916,899 951,1070 912,861 879,934"/>
<polyline class="d4" points="939,799 903,1028 1176,912 995,835 1191,902 951,793 1169,820 1211,831 1221,891 1174,920"/>
<polyline class="d5" points="1087,683 894,1020 888,702 1057,725 1011,662"/>
<polyline class="d6" points="1121,820 1139,683 1028,841 1069,858 951,902 1090,802"/>
<polyline class="d2" points="800,949 821,981 1226,798"/>
<polyline class="d6" points="1018,767 1035,866 1111,798 980,922 1096,784 1011,907 1096,848 1030,837 1112,819 1064,905"/>
<polyline class="d5" points="1042,670 1027,680 900,708 991,649 1026,717 911,775"/>
<polyline class="d3" points="1135,929 1050,1010 1034,1048 1041,1012 1045,971"/>
<polyline class="d1" points="1150,804 846,815 933,1030 908,935 870,903 927,1008"/>
<polyline class="d4" points="1212,928 1159,856 1162,914 1009,817 1184,824 1168,895 964,837 1010,798 1211,843 1121,911"/>
<polyline class="d2" points="1112,748 787,789 797,932 1215,762 777,896 1173,758 809,971 1204,777"/>
<polyline class="d6" points="1079,842 1138,682 1093,841"/>
<polyline class="d4" points="1175,896 1133,875 928,802 1196,925 1174,872 1162,892 1131,899 1231,883 1184,850"/>
<polyline class="d5" points="959,725 973,706 1052,743 952,698 906,779 913,709 889,1019"/>
<polyline class="d1" points="954,1022 966,1059 831,886 892,922 821,840 855,829 944,1036 885,941 900,889 912,904"/>
<polyline class="d3" points="1084,918 1026,1015 1147,954"/>
<polyline class="d4" points="936,808 1140,877 980,792 1164,849 1210,833 1179,856 1184,837"/>
<polyline class="d3" points="1065,977 1020,958 1055,944 1057,1059 1135,1042"/>
<polyline class="d2" points="826,1003 782,908 793,885 777,958 1212,760 796,902 961,741"/>
<polyline class="d1" points="878,828 966,969 954,1070 1152,807 921,906 933,1011 833,856 934,977"/>
<polyline class="d5" points="957,728 1027,731 1043,683 1051,694 990,683 984,706 969,713"/>
<polyline class="d6" points="1031,762 1111,805 1056,846 1000,853 1006,865 966,922"/>
<polyline class="d4" points="1184,918 1005,818 1194,810 1097,881 1198,893 1231,865 1001,827 1197,862"/>
<polyline class="d3" points="1020,1028 1061,948 1112,1016 1107,950 1124,1003 1075,999 1094,947"/>
<polyline class="d2" points="1153,767 817,757 853,787 781,914"/>
<polyline class="d5" points="904,762 1062,722 912,719 1023,721 892,761 1075,748 883,694 1017,714 1003,654 1059,746 860,717"/>
<polyline class="d6" points="1113,837 1043,841 1009,878 1014,773 1085,817 1159,705"/>
<polyline class="d1" points="926,903 959,998 850,865 933,871"/>
<polyline class="d2" points="772,922 1228,789 806,754 1200,762 1206,764 1132,761 818,1000 863,990 1147,753"/>
<polyline class="d1" points="858,806 958,993 874,805 950,1043 866,928 897,853"/>
<polyline class="d5" points="946,717 906,773 914,678 908,684 1027,670 883,1032 910,696 921,679 988,697 876,1044"/>
<polyline class="d3" points="1028,1010 1051,1079 1036,1009 1114,1046"/>
<polyline class="d4" points="980,819 1199,917 1102,867 1132,859 993,840 1004,797 1228,851 1154,816"/>
<polyline class="d6" points="1010,768 1011,856 1062,793"/>
<polyline class="d4" points="1138,913 1199,911 1159,877 1146,840 1147,837 1172,844 925,817 959,820 1010,828 1141,870 1177,810"/>
<polyline class="d1" points="890,861 896,937 863,814 882,886 895,832 834,881 934,1031 925,1027"/>
<polyline class="d3" points="1082,1063 1068,972 1026,1056 1059,965"/>
<polyline class="d2" points="1181,775 785,856 1174,762 795,985"/>
<polyline class="d6" points="1065,765 1045,814 1025,859 1102,830 1096,851 1087,845 1049,821 1004,882 1061,890 977,924"/>
<polyline class="d5" points="1003,739 1005,693 1061,677"/>
<polyline class="d3" points="1081,931 1065,1073 1140,1024 1121,1047 1081,949 1135,989 1082,962 1085,1041 1059,938 1072,923 1039,1035"/>
<polyline class="d6" points="1041,837 969,925 1068,864 1054,822 1021,841 1059,768 1037,809 1043,866 1036,848"/>
<polyline class="d4" points="1145,824 1137,849 1120,851 1111,884 1222,899 970,844 1181,931"/>
<polyline class="d5" points="874,731 1013,666 1017,730 925,694 1036,696 906,708"/>
<polyline class="d1" points="947,992 922,990 934,1016 927,1021"/>
<polyline class="d2" points="1121,662 1168,777 789,873"/>
<polyline class="d5" points="1036,655 1008,662 1074,690 1026,677 925,709 854,729 1071,746"/>
<polyline class="d1" points="895,884 837,901 931,914 883,914 900,875"/>
<polyline class="d3" points="1112,1062 1020,993 1105,1043 1076,1038 1141,950 1009,994 1064,1048 1097,953 1093,1062 1146,1005 1147,964"/>
<polyline class="d4" points="1217,876 1193,960 1170,853 1114,876 1197,907"/>
<polyline class="d6" points="1034,768 1036,894 1052,846 998,862 1126,713"/>
<polyline class="d2" points="789,921 810,758 1168,747 808,794 963,743 807,994 803,970"/>
<polyline class="d4" points="1119,907 1135,824 1213,960 1195,915 1152,890 1007,793 1185,880 1204,899"/>
<polyline class="d1" points="917,1070 962,958 912,995 989,992 897,822 944,1086 913,965 852,872 860,828 829,880 896,813 857,813"/>
<polyline class="d3" points="1079,939 1100,1014 1084,973 1034,974 1155,958 1123,989 1053,1084"/>
<polyline class="d6" points="1059,784 1045,763 1055,777 961,889 1104,814 1090,821 1083,780"/>
<polyline class="d5" points="1135,713 864,707 884,717 998,708"/>
<polyline class="d2" points="1127,661 799,846"/>
<polyline class="d5" points="1066,707 1030,732 903,724 980,696"/>
<polyline class="d1" points="942,957 918,857 883,924 948,1033 969,1001 891,849 938,1059"/>
<polyline class="d3" points="1091,935 1144,1029 1097,984 1142,959"/>
<polyline class="d4" points="1137,887 1137,866 1146,830 1224,877 1014,822 963,802 892,1008"/>
<polyline class="d6" points="1058,775 1040,762 1105,805 1032,807 1030,899 1085,776 1076,801 1167,703 975,933 1029,903"/>
<polyline class="d2" points="796,917 839,1004 1169,771 1239,799 1152,772 804,961 855,966 770,930"/>
<polyline class="d5" points="981,702 921,741 997,659 923,703 1063,667 1016,671 964,721 894,1027 1007,735 888,719 924,718"/>
<polyline class="d3" points="1103,948 1141,972 1158,963"/>
<polyline class="d6" points="1107,791 1079,805 1079,764 1076,796 1026,764 991,883"/>
<polyline class="d2" points="815,762 1159,772 978,740 815,972 1165,772 1129,762"/>
<polyline class="d4" points="1177,893 1190,847 959,831 1114,862 1163,820 1198,922 1204,857 1181,826"/>
<polyline class="d1" points="873,923 988,988 866,807 905,944 841,836 819,850"/>
<polyline class="d3" points="1139,937 1021,939 1094,936 1101,991 1014,1004 1117,963 1148,994"/>
<polyline class="d4" points="1000,820 1216,891 957,806 952,812 1195,943 1182,897 1167,847 931,816"/>
<polyline class="d5" points="888,1034 906,727 895,686 1057,730 917,714 881,738 1060,684"/>
<polyline class="d6" points="972,920 1019,764 985,855 1057,764"/>
<polyline class="d1" points="839,827 847,811 840,830 955,1083 879,814 942,1010 920,880 887,919 928,917"/>
<polyline class="d2" points="811,787 799,876 1227,779 838,781 818,970"/>
<polyline class="d3" points="1141,999 1161,972 1154,994 1068,1056 1128,1034 1087,1028 1098,1037 1044,1016 1075,1074 1057,1017 1132,994 1110,955"/>
<polyline class="d1" points="913,853 855,903 833,849 849,874 962,991"/>
<polyline class="d4" points="1107,888 1160,871 1007,828 1210,878 1161,813"/>
<polyline class="d6" points="1096,861 1101,813 1080,871 1087,862 1012,848"/>
<polyline class="d5" points="1041,734 1044,695 979,687 953,704 956,706"/>
<polyline class="d2" points="1235,784 976,764 825,763 771,921 1202,773 989,756 855,949 1237,810"/>
<polyline class="d6" points="1087,804 972,891 1091,815 1067,815 1113,780"/>
<polyline class="d2" points="805,768 989,763 792,857 852,968 1178,746 1218,774"/>
<polyline class="d4" points="1117,882 1009,804 1212,955 1188,800 980,844 1015,809 1216,921"/>
<polyline class="d5" points="887,1040 873,1038 1084,722 1028,730 1009,738 1058,718 907,716 1009,666 1023,822 1036,807 1048,791 1015,785 1028,789 1064,781"/>
<polyline class="d1" points="853,809 973,972 935,943"/>
<polyline class="d3" points="1104,943 1036,1031 1011,1058 1081,924 1118,1051"/>
<polyline class="d5" points="1130,797 1064,899 942,863 936,922 954,924 956,940 938,859 833,805 861,793 1044,776 1006,772 992,784"/></g>
<circle cx="30.3" cy="11.9" r="2.05" fill="#1f77b4"/>
<path d="M17.7 0.8H293.4" stroke="#adadad" stroke-width="1.7" fill="none"/>
<path d="M293.4 0.8V246.3" stroke="#666" stroke-width="1.3" fill="none"/>
<path d="M17.7 246.3H293.4" stroke="#555" stroke-width="1.3" fill="none"/>
<path d="M17.7 0.8V246.3" stroke="#5a5a5a" stroke-width="1.4" fill="none"/>
<line x1="26.2" y1="246.3" x2="26.2" y2="248.7" class="tk"/>
<text x="26.2" y="255.9" class="xl">−60</text>
<line x1="69.5" y1="246.3" x2="69.5" y2="248.7" class="tk"/>
<text x="69.5" y="255.9" class="xl">−40</text>
<line x1="112.9" y1="246.3" x2="112.9" y2="248.7" class="tk"/>
<text x="112.9" y="255.9" class="xl">−20</text>
<line x1="156.2" y1="246.3" x2="156.2" y2="248.7" class="tk"/>
<text x="156.2" y="255.9" class="xl">0</text>
<line x1="199.6" y1="246.3" x2="199.6" y2="248.7" class="tk"/>
<text x="199.6" y="255.9" class="xl">20</text>
<line x1="242.9" y1="246.3" x2="242.9" y2="248.7" class="tk"/>
<text x="242.9" y="255.9" class="xl">40</text>
<line x1="286.3" y1="246.3" x2="286.3" y2="248.7" class="tk"/>
<text x="286.3" y="255.9" class="xl">60</text>
<line x1="15.3" y1="217.4" x2="17.7" y2="217.4" class="tk"/>
<text x="13.5" y="219.9" class="yl">−40</text>
<line x1="15.3" y1="181.6" x2="17.7" y2="181.6" class="tk"/>
<text x="13.5" y="184.1" class="yl">−20</text>
<line x1="15.3" y1="145.8" x2="17.7" y2="145.8" class="tk"/>
<text x="13.5" y="148.3" class="yl">0</text>
<line x1="15.3" y1="110" x2="17.7" y2="110" class="tk"/>
<text x="13.5" y="112.5" class="yl">20</text>
<line x1="15.3" y1="74.2" x2="17.7" y2="74.2" class="tk"/>
<text x="13.5" y="76.7" class="yl">40</text>
<line x1="15.3" y1="38.4" x2="17.7" y2="38.4" class="tk"/>
<text x="13.5" y="40.9" class="yl">60</text>
<line x1="15.3" y1="2.6" x2="17.7" y2="2.6" class="tk"/>
<text x="13.5" y="5.1" class="yl">80</text>
<rect x="298.6" y="1" width="38.9" height="201.9" rx="1.5" class="lg"/>
<text x="318.1" y="8.7" class="lt">True Label</text>
<circle cx="311.3" cy="16.3" r="2.55" fill="#1f77b4"/>
<text x="322.8" y="18" class="le">1</text>
<circle cx="311.3" cy="25.9" r="2.55" fill="#ff7f0e"/>
<text x="322.8" y="27.6" class="le">2</text>
<circle cx="311.3" cy="35.4" r="2.55" fill="#2ca02c"/>
<text x="322.8" y="37.1" class="le">3</text>
<circle cx="311.3" cy="45" r="2.55" fill="#d62728"/>
<text x="322.8" y="46.7" class="le">4</text>
<circle cx="311.3" cy="54.5" r="2.55" fill="#9467bd"/>
<text x="322.8" y="56.2" class="le">5</text>
<circle cx="311.3" cy="64" r="2.55" fill="#8c564b"/>
<text x="322.8" y="65.8" class="le">6</text>
<circle cx="311.3" cy="73.6" r="2.55" fill="#e377c2"/>
<text x="322.8" y="75.3" class="le">7</text>
<circle cx="311.3" cy="83.2" r="2.55" fill="#7f7f7f"/>
<text x="322.8" y="84.9" class="le">8</text>
<circle cx="311.3" cy="92.7" r="2.55" fill="#bcbd22"/>
<text x="322.8" y="94.4" class="le">9</text>
<circle cx="311.3" cy="102.2" r="2.55" fill="#17becf"/>
<text x="322.8" y="104" class="le">10</text>
<circle cx="311.3" cy="111.8" r="2.55" fill="#1f77b4"/>
<text x="322.8" y="113.5" class="le">11</text>
<circle cx="311.3" cy="121.4" r="2.55" fill="#ff7f0e"/>
<text x="322.8" y="123.1" class="le">12</text>
<circle cx="311.3" cy="130.9" r="2.55" fill="#2ca02c"/>
<text x="322.8" y="132.6" class="le">13</text>
<circle cx="311.3" cy="140.5" r="2.55" fill="#d62728"/>
<text x="322.8" y="142.2" class="le">14</text>
<circle cx="311.3" cy="150" r="2.55" fill="#9467bd"/>
<text x="322.8" y="151.7" class="le">15</text>
<circle cx="311.3" cy="159.6" r="2.55" fill="#8c564b"/>
<text x="322.8" y="161.2" class="le">16</text>
<circle cx="311.3" cy="169.1" r="2.55" fill="#e377c2"/>
<text x="322.8" y="170.8" class="le">17</text>
<circle cx="311.3" cy="178.7" r="2.55" fill="#7f7f7f"/>
<text x="322.8" y="180.4" class="le">18</text>
<circle cx="311.3" cy="188.2" r="2.55" fill="#bcbd22"/>
<text x="322.8" y="189.9" class="le">19</text>
<circle cx="311.3" cy="197.8" r="2.55" fill="#17becf"/>
<text x="322.8" y="199.5" class="le">20</text>
<path d="M365.1 2.2H640.4" stroke="#888" stroke-width="1.7" fill="none"/>
<path d="M640.4 2.2V247.4" stroke="#555" stroke-width="1.3" fill="none"/>
<path d="M365.1 247.4H640.4" stroke="#555" stroke-width="1.3" fill="none"/>
<path d="M365.1 2.2V247.4" stroke="#aaa" stroke-width="1.7" fill="none"/>
<line x1="371.3" y1="247.3" x2="371.3" y2="249.7" class="tk"/>
<text x="371.3" y="256.9" class="xl">−80</text>
<line x1="402.8" y1="247.3" x2="402.8" y2="249.7" class="tk"/>
<text x="402.8" y="256.9" class="xl">−60</text>
<line x1="434.3" y1="247.3" x2="434.3" y2="249.7" class="tk"/>
<text x="434.3" y="256.9" class="xl">−40</text>
<line x1="465.7" y1="247.3" x2="465.7" y2="249.7" class="tk"/>
<text x="465.7" y="256.9" class="xl">−20</text>
<line x1="497.2" y1="247.3" x2="497.2" y2="249.7" class="tk"/>
<text x="497.2" y="256.9" class="xl">0</text>
<line x1="528.7" y1="247.3" x2="528.7" y2="249.7" class="tk"/>
<text x="528.7" y="256.9" class="xl">20</text>
<line x1="560.2" y1="247.3" x2="560.2" y2="249.7" class="tk"/>
<text x="560.2" y="256.9" class="xl">40</text>
<line x1="591.7" y1="247.3" x2="591.7" y2="249.7" class="tk"/>
<text x="591.7" y="256.9" class="xl">60</text>
<line x1="623.1" y1="247.3" x2="623.1" y2="249.7" class="tk"/>
<text x="623.1" y="256.9" class="xl">80</text>
<line x1="362.5" y1="243.1" x2="364.9" y2="243.1" class="tk"/>
<text x="360.7" y="245.6" class="yl">−80</text>
<line x1="362.5" y1="214.6" x2="364.9" y2="214.6" class="tk"/>
<text x="360.7" y="217.1" class="yl">−60</text>
<line x1="362.5" y1="186.2" x2="364.9" y2="186.2" class="tk"/>
<text x="360.7" y="188.7" class="yl">−40</text>
<line x1="362.5" y1="157.7" x2="364.9" y2="157.7" class="tk"/>
<text x="360.7" y="160.2" class="yl">−20</text>
<line x1="362.5" y1="129.2" x2="364.9" y2="129.2" class="tk"/>
<text x="360.7" y="131.7" class="yl">0</text>
<line x1="362.5" y1="100.8" x2="364.9" y2="100.8" class="tk"/>
<text x="360.7" y="103.3" class="yl">20</text>
<line x1="362.5" y1="72.3" x2="364.9" y2="72.3" class="tk"/>
<text x="360.7" y="74.8" class="yl">40</text>
<line x1="362.5" y1="43.9" x2="364.9" y2="43.9" class="tk"/>
<text x="360.7" y="46.4" class="yl">60</text>
<line x1="362.5" y1="15.4" x2="364.9" y2="15.4" class="tk"/>
<text x="360.7" y="17.9" class="yl">80</text>
<rect x="645.7" y="3" width="38.7" height="105.7" rx="1.5" class="lg"/>
<text x="665" y="9.9" class="lt">True Label</text>
<circle cx="658.1" cy="17.2" r="2.55" fill="#1f77b4"/>
<text x="670.2" y="18.9" class="le">1</text>
<circle cx="658.1" cy="26.7" r="2.55" fill="#ff7f0e"/>
<text x="670.2" y="28.4" class="le">2</text>
<circle cx="658.1" cy="36.2" r="2.55" fill="#2ca02c"/>
<text x="670.2" y="37.9" class="le">3</text>
<circle cx="658.1" cy="45.7" r="2.55" fill="#d62728"/>
<text x="670.2" y="47.4" class="le">4</text>
<circle cx="658.1" cy="55.2" r="2.55" fill="#9467bd"/>
<text x="670.2" y="56.9" class="le">5</text>
<circle cx="658.1" cy="64.8" r="2.55" fill="#8c564b"/>
<text x="670.2" y="66.5" class="le">6</text>
<circle cx="658.1" cy="74.3" r="2.55" fill="#e377c2"/>
<text x="670.2" y="76" class="le">7</text>
<circle cx="658.1" cy="83.8" r="2.55" fill="#7f7f7f"/>
<text x="670.2" y="85.5" class="le">8</text>
<circle cx="658.1" cy="93.3" r="2.55" fill="#bcbd22"/>
<text x="670.2" y="95" class="le">9</text>
<circle cx="658.1" cy="102.8" r="2.55" fill="#17becf"/>
<text x="670.2" y="104.5" class="le">10</text>
<path d="M18 313.7H292.6" stroke="#a0a0a0" stroke-width="1.5" fill="none"/>
<path d="M292.6 313.7V559.2" stroke="#888" stroke-width="1.3" fill="none"/>
<path d="M18 559.2H292.6" stroke="#aaa" stroke-width="1.4" fill="none"/>
<path d="M18 313.7V559.2" stroke="#c8c8c8" stroke-width="1.6" fill="none"/>
<line x1="24.2" y1="559.1" x2="24.2" y2="561.5" class="tk"/>
<text x="24.2" y="568.7" class="xl">−60</text>
<line x1="67.2" y1="559.1" x2="67.2" y2="561.5" class="tk"/>
<text x="67.2" y="568.7" class="xl">−40</text>
<line x1="110.2" y1="559.1" x2="110.2" y2="561.5" class="tk"/>
<text x="110.2" y="568.7" class="xl">−20</text>
<line x1="153.2" y1="559.1" x2="153.2" y2="561.5" class="tk"/>
<text x="153.2" y="568.7" class="xl">0</text>
<line x1="196.2" y1="559.1" x2="196.2" y2="561.5" class="tk"/>
<text x="196.2" y="568.7" class="xl">20</text>
<line x1="239.2" y1="559.1" x2="239.2" y2="561.5" class="tk"/>
<text x="239.2" y="568.7" class="xl">40</text>
<line x1="282.2" y1="559.1" x2="282.2" y2="561.5" class="tk"/>
<text x="282.2" y="568.7" class="xl">60</text>
<line x1="15.5" y1="555.4" x2="17.9" y2="555.4" class="tk"/>
<text x="13.7" y="557.9" class="yl">−60</text>
<line x1="15.5" y1="516.1" x2="17.9" y2="516.1" class="tk"/>
<text x="13.7" y="518.6" class="yl">−40</text>
<line x1="15.5" y1="476.8" x2="17.9" y2="476.8" class="tk"/>
<text x="13.7" y="479.3" class="yl">−20</text>
<line x1="15.5" y1="437.4" x2="17.9" y2="437.4" class="tk"/>
<text x="13.7" y="439.9" class="yl">0</text>
<line x1="15.5" y1="398.1" x2="17.9" y2="398.1" class="tk"/>
<text x="13.7" y="400.6" class="yl">20</text>
<line x1="15.5" y1="358.7" x2="17.9" y2="358.7" class="tk"/>
<text x="13.7" y="361.2" class="yl">40</text>
<line x1="15.5" y1="319.4" x2="17.9" y2="319.4" class="tk"/>
<text x="13.7" y="321.9" class="yl">60</text>
<rect x="298.5" y="314.3" width="37.6" height="109.4" rx="1.5" class="lg"/>
<text x="317.3" y="321.8" class="lt">True Label</text>
<circle cx="310.9" cy="329.7" r="2.55" fill="#1f77b4"/>
<text x="322.3" y="332.4" class="le lite">1</text>
<circle cx="310.9" cy="339.5" r="2.55" fill="#ff7f0e"/>
<text x="322.3" y="342.2" class="le lite">2</text>
<circle cx="310.9" cy="349.2" r="2.55" fill="#2ca02c"/>
<text x="322.3" y="351.9" class="le lite">3</text>
<circle cx="310.9" cy="359" r="2.55" fill="#d62728"/>
<text x="322.3" y="361.7" class="le lite">4</text>
<circle cx="310.9" cy="368.7" r="2.55" fill="#9467bd"/>
<text x="322.3" y="371.4" class="le lite">5</text>
<circle cx="310.9" cy="378.5" r="2.55" fill="#8c564b"/>
<text x="322.3" y="381.2" class="le lite">6</text>
<circle cx="310.9" cy="388.3" r="2.55" fill="#e377c2"/>
<text x="322.3" y="391" class="le lite">7</text>
<circle cx="310.9" cy="398" r="2.55" fill="#7f7f7f"/>
<text x="322.3" y="400.7" class="le lite">8</text>
<circle cx="310.9" cy="407.8" r="2.55" fill="#bcbd22"/>
<text x="322.3" y="410.5" class="le lite">9</text>
<circle cx="310.9" cy="417.5" r="2.55" fill="#17becf"/>
<text x="322.3" y="420.2" class="le lite">10</text>
<path d="M365 312.6H639.4" stroke="#777" stroke-width="1.3" fill="none"/>
<path d="M639.4 312.6V557.9" stroke="#888" stroke-width="1.5" fill="none"/>
<path d="M365 557.9H639.4" stroke="#aaa" stroke-width="1.5" fill="none"/>
<path d="M365 312.6V557.9" stroke="#c8c8c8" stroke-width="1.6" fill="none"/>
<line x1="390.5" y1="558" x2="390.5" y2="560.4" class="tk"/>
<text x="390.5" y="567.6" class="xl">−60</text>
<line x1="428.3" y1="558" x2="428.3" y2="560.4" class="tk"/>
<text x="428.3" y="567.6" class="xl">−40</text>
<line x1="466.1" y1="558" x2="466.1" y2="560.4" class="tk"/>
<text x="466.1" y="567.6" class="xl">−20</text>
<line x1="503.8" y1="558" x2="503.8" y2="560.4" class="tk"/>
<text x="503.8" y="567.6" class="xl">0</text>
<line x1="541.6" y1="558" x2="541.6" y2="560.4" class="tk"/>
<text x="541.6" y="567.6" class="xl">20</text>
<line x1="579.4" y1="558" x2="579.4" y2="560.4" class="tk"/>
<text x="579.4" y="567.6" class="xl">40</text>
<line x1="617.2" y1="558" x2="617.2" y2="560.4" class="tk"/>
<text x="617.2" y="567.6" class="xl">60</text>
<line x1="362.5" y1="535.5" x2="364.9" y2="535.5" class="tk"/>
<text x="360.7" y="538" class="yl">−60</text>
<line x1="362.5" y1="501.6" x2="364.9" y2="501.6" class="tk"/>
<text x="360.7" y="504.1" class="yl">−40</text>
<line x1="362.5" y1="467.8" x2="364.9" y2="467.8" class="tk"/>
<text x="360.7" y="470.3" class="yl">−20</text>
<line x1="362.5" y1="433.9" x2="364.9" y2="433.9" class="tk"/>
<text x="360.7" y="436.4" class="yl">0</text>
<line x1="362.5" y1="400.1" x2="364.9" y2="400.1" class="tk"/>
<text x="360.7" y="402.6" class="yl">20</text>
<line x1="362.5" y1="366.2" x2="364.9" y2="366.2" class="tk"/>
<text x="360.7" y="368.8" class="yl">40</text>
<line x1="362.5" y1="332.4" x2="364.9" y2="332.4" class="tk"/>
<text x="360.7" y="334.9" class="yl">60</text>
<rect x="645.3" y="312.7" width="37.9" height="70.1" rx="1.5" class="lg"/>
<text x="664.2" y="320.7" class="lt">True Label</text>
<circle cx="659.8" cy="328.6" r="2.55" fill="#1f77b4"/>
<text x="671.4" y="330.8" class="le lite">1</text>
<circle cx="659.8" cy="338.4" r="2.55" fill="#ff7f0e"/>
<text x="671.4" y="340.6" class="le lite">2</text>
<circle cx="659.8" cy="348.2" r="2.55" fill="#2ca02c"/>
<text x="671.4" y="350.4" class="le lite">3</text>
<circle cx="659.8" cy="358" r="2.55" fill="#d62728"/>
<text x="671.4" y="360.2" class="le lite">4</text>
<circle cx="659.8" cy="367.8" r="2.55" fill="#9467bd"/>
<text x="671.4" y="370" class="le lite">5</text>
<circle cx="659.8" cy="377.6" r="2.55" fill="#8c564b"/>
<text x="671.4" y="379.8" class="le lite">6</text>
<text x="144.7" y="292.6" class="cap">(a) t-SNE visualization on COIL20</text>
<text x="499.2" y="292.6" class="cap">(b) t-SNE visualization on USPS</text>
<text x="151.1" y="604.3" class="cap">(c) t-SNE visualization on FASHION</text>
<text x="512.7" y="604.3" class="cap">(d) t-SNE visualization on MEDICAL</text>
</svg></body></html>
